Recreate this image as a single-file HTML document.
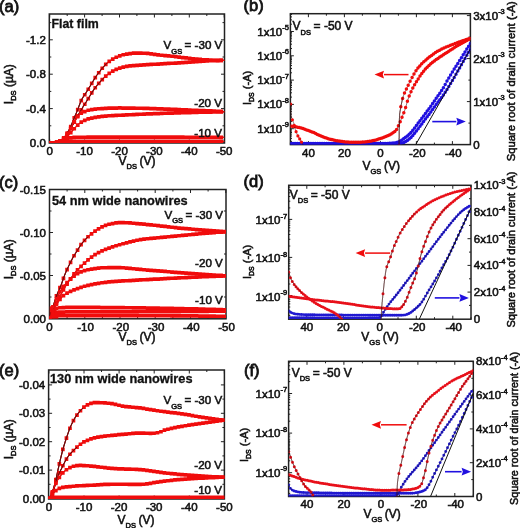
<!DOCTYPE html>
<html><head><meta charset="utf-8"><style>html,body{margin:0;padding:0;background:#fff;}svg{display:block;} text{stroke:#111;stroke-width:0.55px;}</style></head>
<body><svg width="520" height="528" viewBox="0 0 520 528">
<rect width="520" height="528" fill="#fff"/>
<clipPath id="ca"><rect x="49.3" y="14" width="175.2" height="129"/></clipPath>
<rect x="49.3" y="14" width="175.2" height="129" fill="none" stroke="#222" stroke-width="1.5"/>
<path d="M49.7,143 v-3.5 M49.7,14 v3.5 M84.6,143 v-3.5 M84.6,14 v3.5 M119.5,143 v-3.5 M119.5,14 v3.5 M154.4,143 v-3.5 M154.4,14 v3.5 M189.3,143 v-3.5 M189.3,14 v3.5 M224.2,143 v-3.5 M224.2,14 v3.5" stroke="#222" stroke-width="1" fill="none"/>
<path d="M67.2,143 v-2 M67.2,14 v2 M102.1,143 v-2 M102.1,14 v2 M136.9,143 v-2 M136.9,14 v2 M171.9,143 v-2 M171.9,14 v2 M206.8,143 v-2 M206.8,14 v2" stroke="#222" stroke-width="1" fill="none"/>
<path d="M49.3,108.6 h3.5 M224.5,108.6 h-3.5 M49.3,74.2 h3.5 M224.5,74.2 h-3.5 M49.3,39.8 h3.5 M224.5,39.8 h-3.5" stroke="#222" stroke-width="1" fill="none"/>
<path d="M49.3,125.8 h2 M224.5,125.8 h-2 M49.3,91.4 h2 M224.5,91.4 h-2 M49.3,57 h2 M224.5,57 h-2 M49.3,22.6 h2 M224.5,22.6 h-2" stroke="#222" stroke-width="1" fill="none"/>
<g clip-path="url(#ca)">
<path d="M49.7,143 L51.2,143 L52.6,142.9 L54.1,142.7 L55.6,142.5 L57,142.1 L58.5,141.6 L60,140.9 L61.4,139.9 L62.9,138.6 L64.4,137.1 L65.8,135.1 L67.3,132.9 L68.8,130.4 L70.2,127.5 L71.7,124.2 L73.2,120.4 L74.6,116.9 L76.1,113.5 L77.6,110 L79,106.1 L80.5,102.2 L82,99 L83.4,96.6 L84.9,94.5 L86.4,92.2 L87.8,89.8 L89.3,87.4 L90.8,85 L92.2,82.6 L93.7,80.1 L95.2,77.7 L96.6,75.5 L98.1,73.6 L99.6,71.7 L101,69.8 L102.5,67.9 L104,66.3 L105.4,64.7 L106.9,63.3 L108.4,62 L109.8,60.9 L111.3,60 L112.8,59.1 L114.2,58.3 L115.7,57.6 L117.2,56.8 L118.6,56.2 L120.1,55.7 L121.6,55.2 L123,54.8 L124.5,54.4 L126,54.2 L127.4,53.9 L128.9,53.7 L130.4,53.5 L131.8,53.4 L133.3,53.2 L134.8,53.1 L136.2,53.1 L137.7,53 L139.1,53.1 L140.6,53.1 L142.1,53.2 L143.5,53.2 L145,53.3 L146.5,53.4 L147.9,53.5 L149.4,53.7 L150.9,53.9 L152.3,54.1 L153.8,54.3 L155.3,54.5 L156.7,54.7 L158.2,54.8 L159.7,55 L161.1,55.1 L162.6,55.3 L164.1,55.4 L165.5,55.6 L167,55.7 L168.5,55.9 L169.9,56 L171.4,56.2 L172.9,56.3 L174.3,56.5 L175.8,56.7 L177.3,56.9 L178.7,57 L180.2,57.2 L181.7,57.4 L183.1,57.6 L184.6,57.7 L186.1,57.9 L187.5,58.1 L189,58.3 L190.5,58.4 L191.9,58.6 L193.4,58.8 L194.9,58.9 L196.3,59.1 L197.8,59.3 L199.3,59.4 L200.7,59.5 L202.2,59.6 L203.7,59.7 L205.1,59.8 L206.6,59.9 L208.1,60 L209.5,60.1 L211,60.2 L212.5,60.2 L213.9,60.3 L215.4,60.3 L216.9,60.3 L218.3,60.4 L219.8,60.4 L221.3,60.4 L222.7,60.4 L224.2,60.4" fill="none" stroke="#1a1010" stroke-width="0.9"/>
<path d="M49.7,143 L51.2,143 L52.6,142.9 L54.1,142.7 L55.6,142.5 L57,142.1 L58.5,141.6 L60,140.9 L61.4,139.9 L62.9,138.6 L64.4,137.1 L65.8,135.1 L67.3,132.9 L68.8,130.4 L70.2,127.5 L71.7,124.2 L73.2,120.4 L74.6,116.9 L76.1,113.5 L77.6,110 L79,106.1 L80.5,102.2 L82,99 L83.4,96.6 L84.9,94.5 L86.4,92.2 L87.8,89.8 L89.3,87.4 L90.8,85 L92.2,82.6 L93.7,80.1 L95.2,77.7 L96.6,75.5 L98.1,73.6 L99.6,71.7 L101,69.8 L102.5,67.9 L104,66.3 L105.4,64.7 L106.9,63.3 L108.4,62 L109.8,60.9 L111.3,60 L112.8,59.1 L114.2,58.3 L115.7,57.6 L117.2,56.8 L118.6,56.2 L120.1,55.7 L121.6,55.2 L123,54.8 L124.5,54.4 L126,54.2 L127.4,53.9 L128.9,53.7 L130.4,53.5 L131.8,53.4 L133.3,53.2 L134.8,53.1 L136.2,53.1 L137.7,53 L139.1,53.1 L140.6,53.1 L142.1,53.2 L143.5,53.2 L145,53.3 L146.5,53.4 L147.9,53.5 L149.4,53.7 L150.9,53.9 L152.3,54.1 L153.8,54.3 L155.3,54.5 L156.7,54.7 L158.2,54.8 L159.7,55 L161.1,55.1 L162.6,55.3 L164.1,55.4 L165.5,55.6 L167,55.7 L168.5,55.9 L169.9,56 L171.4,56.2 L172.9,56.3 L174.3,56.5 L175.8,56.7 L177.3,56.9 L178.7,57 L180.2,57.2 L181.7,57.4 L183.1,57.6 L184.6,57.7 L186.1,57.9 L187.5,58.1 L189,58.3 L190.5,58.4 L191.9,58.6 L193.4,58.8 L194.9,58.9 L196.3,59.1 L197.8,59.3 L199.3,59.4 L200.7,59.5 L202.2,59.6 L203.7,59.7 L205.1,59.8 L206.6,59.9 L208.1,60 L209.5,60.1 L211,60.2 L212.5,60.2 L213.9,60.3 L215.4,60.3 L216.9,60.3 L218.3,60.4 L219.8,60.4 L221.3,60.4 L222.7,60.4 L224.2,60.4" fill="none" stroke="#f00c0c" stroke-width="1.2" stroke-linejoin="round" stroke-linecap="round"/>
<path d="M47.9,141.2h3.7v3.7h-3.7zM51.4,141h3.7v3.7h-3.7zM54.9,140.4h3.7v3.7h-3.7zM58.4,138.9h3.7v3.7h-3.7zM61.9,135.9h3.7v3.7h-3.7zM65.4,131.2h3.7v3.7h-3.7zM68.9,124.7h3.7v3.7h-3.7zM72.4,116.1h3.7v3.7h-3.7zM75.9,107.8h3.7v3.7h-3.7zM79.4,98.7h3.7v3.7h-3.7zM82.9,92.9h3.7v3.7h-3.7zM86.4,87.4h3.7v3.7h-3.7zM89.9,81.6h3.7v3.7h-3.7zM93.4,75.8h3.7v3.7h-3.7zM96.9,70.9h3.7v3.7h-3.7zM100.4,66.4h3.7v3.7h-3.7zM103.9,62.6h3.7v3.7h-3.7zM107.4,59.5h3.7v3.7h-3.7zM110.9,57.3h3.7v3.7h-3.7zM114.4,55.4h3.7v3.7h-3.7zM117.9,54h3.7v3.7h-3.7zM121.4,52.9h3.7v3.7h-3.7zM124.9,52.2h3.7v3.7h-3.7zM128.3,51.7h3.7v3.7h-3.7zM131.8,51.3h3.7v3.7h-3.7zM135.3,51.2h3.7v3.7h-3.7zM138.8,51.3h3.7v3.7h-3.7zM142.3,51.4h3.7v3.7h-3.7zM145.8,51.6h3.7v3.7h-3.7zM149.3,52.1h3.7v3.7h-3.7zM152.8,52.6h3.7v3.7h-3.7zM156.3,53h3.7v3.7h-3.7zM159.8,53.4h3.7v3.7h-3.7zM163.3,53.7h3.7v3.7h-3.7zM166.8,54h3.7v3.7h-3.7zM170.3,54.4h3.7v3.7h-3.7zM173.8,54.8h3.7v3.7h-3.7zM177.3,55.2h3.7v3.7h-3.7zM180.8,55.7h3.7v3.7h-3.7zM184.3,56.1h3.7v3.7h-3.7zM187.8,56.5h3.7v3.7h-3.7zM191.3,56.9h3.7v3.7h-3.7zM194.8,57.3h3.7v3.7h-3.7zM198.3,57.6h3.7v3.7h-3.7zM201.8,57.9h3.7v3.7h-3.7zM205.3,58.1h3.7v3.7h-3.7zM208.8,58.3h3.7v3.7h-3.7zM212.3,58.4h3.7v3.7h-3.7zM215.8,58.5h3.7v3.7h-3.7zM219.3,58.6h3.7v3.7h-3.7z" fill="#f00c0c"/>
<path d="M62.9,138.6 L64.4,137.1 L65.8,135.1 L67.3,132.9 L68.8,130.4 L70.2,127.5 L71.7,124.2 L73.2,120.4 L74.6,116.9 L76.1,113.5 L77.6,110 L79,106.1 L80.5,102.2 L82,99 L83.4,96.6 L84.9,94.5 L86.4,92.2 L87.8,89.8 L89.3,87.4 L90.8,85 L92.2,82.6 L93.7,80.1 L95.2,77.7 L96.6,75.5 L98.1,73.6 L99.6,71.7 L101,69.8 L102.5,67.9 L104,66.3 L105.4,64.7 L106.9,63.3" fill="none" stroke="#1a1010" stroke-width="0.81" opacity="0.9"/>
</g>
<g clip-path="url(#ca)">
<path d="M49.7,143 L51.2,143 L52.6,142.9 L54.1,142.7 L55.6,142.5 L57,142.2 L58.5,141.8 L60,141.2 L61.4,140.4 L62.9,139.3 L64.4,138 L65.8,136.3 L67.3,134.4 L68.8,132.1 L70.2,129.5 L71.7,126.9 L73.2,124.2 L74.6,121.4 L76.1,118.7 L77.6,116 L79,113.5 L80.5,111 L82,108.6 L83.4,106.2 L84.9,103.9 L86.4,101.6 L87.8,99.2 L89.3,96.9 L90.8,94.5 L92.2,92.1 L93.7,89.8 L95.2,87.8 L96.6,85.9 L98.1,84.2 L99.6,82.5 L101,80.8 L102.5,79.2 L104,77.7 L105.4,76.4 L106.9,75.1 L108.4,74 L109.8,73 L111.3,72 L112.8,71.1 L114.2,70.4 L115.7,69.6 L117.2,69 L118.6,68.4 L120.1,68 L121.6,67.5 L123,67.1 L124.5,66.8 L126,66.5 L127.4,66.3 L128.9,66.1 L130.4,66 L131.8,65.8 L133.3,65.7 L134.8,65.6 L136.2,65.4 L137.7,65.3 L139.1,65.2 L140.6,65.1 L142.1,65 L143.5,64.9 L145,64.8 L146.5,64.8 L147.9,64.7 L149.4,64.6 L150.9,64.5 L152.3,64.4 L153.8,64.3 L155.3,64.3 L156.7,64.2 L158.2,64.1 L159.7,64 L161.1,63.9 L162.6,63.8 L164.1,63.7 L165.5,63.7 L167,63.6 L168.5,63.5 L169.9,63.4 L171.4,63.3 L172.9,63.2 L174.3,63.1 L175.8,63 L177.3,62.9 L178.7,62.9 L180.2,62.8 L181.7,62.7 L183.1,62.6 L184.6,62.5 L186.1,62.4 L187.5,62.3 L189,62.2 L190.5,62.1 L191.9,62 L193.4,61.9 L194.9,61.7 L196.3,61.6 L197.8,61.5 L199.3,61.4 L200.7,61.3 L202.2,61.2 L203.7,61.1 L205.1,61 L206.6,60.9 L208.1,60.8 L209.5,60.8 L211,60.7 L212.5,60.6 L213.9,60.6 L215.4,60.6 L216.9,60.5 L218.3,60.5 L219.8,60.5 L221.3,60.5 L222.7,60.4 L224.2,60.4" fill="none" stroke="#1a1010" stroke-width="0.9"/>
<path d="M49.7,143 L51.2,143 L52.6,142.9 L54.1,142.7 L55.6,142.5 L57,142.2 L58.5,141.8 L60,141.2 L61.4,140.4 L62.9,139.3 L64.4,138 L65.8,136.3 L67.3,134.4 L68.8,132.1 L70.2,129.5 L71.7,126.9 L73.2,124.2 L74.6,121.4 L76.1,118.7 L77.6,116 L79,113.5 L80.5,111 L82,108.6 L83.4,106.2 L84.9,103.9 L86.4,101.6 L87.8,99.2 L89.3,96.9 L90.8,94.5 L92.2,92.1 L93.7,89.8 L95.2,87.8 L96.6,85.9 L98.1,84.2 L99.6,82.5 L101,80.8 L102.5,79.2 L104,77.7 L105.4,76.4 L106.9,75.1 L108.4,74 L109.8,73 L111.3,72 L112.8,71.1 L114.2,70.4 L115.7,69.6 L117.2,69 L118.6,68.4 L120.1,68 L121.6,67.5 L123,67.1 L124.5,66.8 L126,66.5 L127.4,66.3 L128.9,66.1 L130.4,66 L131.8,65.8 L133.3,65.7 L134.8,65.6 L136.2,65.4 L137.7,65.3 L139.1,65.2 L140.6,65.1 L142.1,65 L143.5,64.9 L145,64.8 L146.5,64.8 L147.9,64.7 L149.4,64.6 L150.9,64.5 L152.3,64.4 L153.8,64.3 L155.3,64.3 L156.7,64.2 L158.2,64.1 L159.7,64 L161.1,63.9 L162.6,63.8 L164.1,63.7 L165.5,63.7 L167,63.6 L168.5,63.5 L169.9,63.4 L171.4,63.3 L172.9,63.2 L174.3,63.1 L175.8,63 L177.3,62.9 L178.7,62.9 L180.2,62.8 L181.7,62.7 L183.1,62.6 L184.6,62.5 L186.1,62.4 L187.5,62.3 L189,62.2 L190.5,62.1 L191.9,62 L193.4,61.9 L194.9,61.7 L196.3,61.6 L197.8,61.5 L199.3,61.4 L200.7,61.3 L202.2,61.2 L203.7,61.1 L205.1,61 L206.6,60.9 L208.1,60.8 L209.5,60.8 L211,60.7 L212.5,60.6 L213.9,60.6 L215.4,60.6 L216.9,60.5 L218.3,60.5 L219.8,60.5 L221.3,60.5 L222.7,60.4 L224.2,60.4" fill="none" stroke="#f00c0c" stroke-width="1.2" stroke-linejoin="round" stroke-linecap="round"/>
<path d="M47.9,141.2h3.7v3.7h-3.7zM51.4,141h3.7v3.7h-3.7zM54.9,140.5h3.7v3.7h-3.7zM58.4,139.2h3.7v3.7h-3.7zM61.9,136.8h3.7v3.7h-3.7zM65.4,132.7h3.7v3.7h-3.7zM68.9,126.9h3.7v3.7h-3.7zM72.4,120.4h3.7v3.7h-3.7zM75.9,113.9h3.7v3.7h-3.7zM79.4,108h3.7v3.7h-3.7zM82.9,102.4h3.7v3.7h-3.7zM86.4,96.8h3.7v3.7h-3.7zM89.9,91.1h3.7v3.7h-3.7zM93.4,85.9h3.7v3.7h-3.7zM96.9,81.6h3.7v3.7h-3.7zM100.4,77.7h3.7v3.7h-3.7zM103.9,74.3h3.7v3.7h-3.7zM107.4,71.5h3.7v3.7h-3.7zM110.9,69.3h3.7v3.7h-3.7zM114.4,67.5h3.7v3.7h-3.7zM117.9,66.2h3.7v3.7h-3.7zM121.4,65.3h3.7v3.7h-3.7zM124.9,64.6h3.7v3.7h-3.7zM128.3,64.1h3.7v3.7h-3.7zM131.8,63.8h3.7v3.7h-3.7zM135.3,63.5h3.7v3.7h-3.7zM138.8,63.3h3.7v3.7h-3.7zM142.3,63h3.7v3.7h-3.7zM145.8,62.8h3.7v3.7h-3.7zM149.3,62.6h3.7v3.7h-3.7zM152.8,62.4h3.7v3.7h-3.7zM156.3,62.2h3.7v3.7h-3.7zM159.8,62h3.7v3.7h-3.7zM163.3,61.8h3.7v3.7h-3.7zM166.8,61.6h3.7v3.7h-3.7zM170.3,61.4h3.7v3.7h-3.7zM173.8,61.2h3.7v3.7h-3.7zM177.3,61h3.7v3.7h-3.7zM180.8,60.7h3.7v3.7h-3.7zM184.3,60.5h3.7v3.7h-3.7zM187.8,60.3h3.7v3.7h-3.7zM191.3,60h3.7v3.7h-3.7zM194.8,59.7h3.7v3.7h-3.7zM198.3,59.5h3.7v3.7h-3.7zM201.8,59.3h3.7v3.7h-3.7zM205.3,59h3.7v3.7h-3.7zM208.8,58.9h3.7v3.7h-3.7zM212.3,58.8h3.7v3.7h-3.7zM215.8,58.7h3.7v3.7h-3.7zM219.3,58.6h3.7v3.7h-3.7z" fill="#f00c0c"/>
<path d="M64.4,138 L65.8,136.3 L67.3,134.4 L68.8,132.1 L70.2,129.5 L71.7,126.9 L73.2,124.2 L74.6,121.4 L76.1,118.7 L77.6,116 L79,113.5 L80.5,111 L82,108.6 L83.4,106.2 L84.9,103.9 L86.4,101.6 L87.8,99.2 L89.3,96.9 L90.8,94.5 L92.2,92.1 L93.7,89.8 L95.2,87.8 L96.6,85.9 L98.1,84.2 L99.6,82.5 L101,80.8 L102.5,79.2 L104,77.7" fill="none" stroke="#1a1010" stroke-width="0.81" opacity="0.9"/>
</g>
<g clip-path="url(#ca)">
<path d="M49.7,143 L51.2,143 L52.6,142.9 L54.1,142.7 L55.6,142.5 L57,142.1 L58.5,141.6 L60,141 L61.4,140.1 L62.9,138.9 L64.4,137.5 L65.8,135.7 L67.3,133.8 L68.8,131.5 L70.2,129.1 L71.7,126.5 L73.2,123.6 L74.6,121.1 L76.1,118.9 L77.6,116.8 L79,114.9 L80.5,113.6 L82,112.8 L83.4,112.1 L84.9,111.5 L86.4,110.9 L87.8,110.4 L89.3,109.9 L90.8,109.6 L92.2,109.4 L93.7,109.2 L95.2,109.1 L96.6,108.9 L98.1,108.8 L99.6,108.7 L101,108.6 L102.5,108.5 L104,108.4 L105.4,108.3 L106.9,108.2 L108.4,108.2 L109.8,108.1 L111.3,108.1 L112.8,108.1 L114.2,108.1 L115.7,108 L117.2,108 L118.6,108 L120.1,108 L121.6,108 L123,108 L124.5,108 L126,108 L127.4,108.1 L128.9,108.1 L130.4,108.1 L131.8,108.1 L133.3,108.1 L134.8,108.2 L136.2,108.2 L137.7,108.2 L139.1,108.3 L140.6,108.3 L142.1,108.3 L143.5,108.4 L145,108.4 L146.5,108.4 L147.9,108.5 L149.4,108.5 L150.9,108.6 L152.3,108.6 L153.8,108.7 L155.3,108.7 L156.7,108.8 L158.2,108.8 L159.7,108.9 L161.1,108.9 L162.6,109 L164.1,109 L165.5,109.1 L167,109.1 L168.5,109.2 L169.9,109.2 L171.4,109.3 L172.9,109.4 L174.3,109.4 L175.8,109.5 L177.3,109.6 L178.7,109.6 L180.2,109.7 L181.7,109.7 L183.1,109.8 L184.6,109.9 L186.1,109.9 L187.5,110 L189,110 L190.5,110.1 L191.9,110.2 L193.4,110.2 L194.9,110.3 L196.3,110.4 L197.8,110.4 L199.3,110.5 L200.7,110.5 L202.2,110.6 L203.7,110.7 L205.1,110.7 L206.6,110.8 L208.1,110.9 L209.5,110.9 L211,111 L212.5,111.1 L213.9,111.1 L215.4,111.2 L216.9,111.3 L218.3,111.3 L219.8,111.4 L221.3,111.5 L222.7,111.5 L224.2,111.6" fill="none" stroke="#1a1010" stroke-width="0.9"/>
<path d="M49.7,143 L51.2,143 L52.6,142.9 L54.1,142.7 L55.6,142.5 L57,142.1 L58.5,141.6 L60,141 L61.4,140.1 L62.9,138.9 L64.4,137.5 L65.8,135.7 L67.3,133.8 L68.8,131.5 L70.2,129.1 L71.7,126.5 L73.2,123.6 L74.6,121.1 L76.1,118.9 L77.6,116.8 L79,114.9 L80.5,113.6 L82,112.8 L83.4,112.1 L84.9,111.5 L86.4,110.9 L87.8,110.4 L89.3,109.9 L90.8,109.6 L92.2,109.4 L93.7,109.2 L95.2,109.1 L96.6,108.9 L98.1,108.8 L99.6,108.7 L101,108.6 L102.5,108.5 L104,108.4 L105.4,108.3 L106.9,108.2 L108.4,108.2 L109.8,108.1 L111.3,108.1 L112.8,108.1 L114.2,108.1 L115.7,108 L117.2,108 L118.6,108 L120.1,108 L121.6,108 L123,108 L124.5,108 L126,108 L127.4,108.1 L128.9,108.1 L130.4,108.1 L131.8,108.1 L133.3,108.1 L134.8,108.2 L136.2,108.2 L137.7,108.2 L139.1,108.3 L140.6,108.3 L142.1,108.3 L143.5,108.4 L145,108.4 L146.5,108.4 L147.9,108.5 L149.4,108.5 L150.9,108.6 L152.3,108.6 L153.8,108.7 L155.3,108.7 L156.7,108.8 L158.2,108.8 L159.7,108.9 L161.1,108.9 L162.6,109 L164.1,109 L165.5,109.1 L167,109.1 L168.5,109.2 L169.9,109.2 L171.4,109.3 L172.9,109.4 L174.3,109.4 L175.8,109.5 L177.3,109.6 L178.7,109.6 L180.2,109.7 L181.7,109.7 L183.1,109.8 L184.6,109.9 L186.1,109.9 L187.5,110 L189,110 L190.5,110.1 L191.9,110.2 L193.4,110.2 L194.9,110.3 L196.3,110.4 L197.8,110.4 L199.3,110.5 L200.7,110.5 L202.2,110.6 L203.7,110.7 L205.1,110.7 L206.6,110.8 L208.1,110.9 L209.5,110.9 L211,111 L212.5,111.1 L213.9,111.1 L215.4,111.2 L216.9,111.3 L218.3,111.3 L219.8,111.4 L221.3,111.5 L222.7,111.5 L224.2,111.6" fill="none" stroke="#f00c0c" stroke-width="1.2" stroke-linejoin="round" stroke-linecap="round"/>
<path d="M47.9,141.2h3.7v3.7h-3.7zM51.4,141h3.7v3.7h-3.7zM54.9,140.4h3.7v3.7h-3.7zM58.4,139h3.7v3.7h-3.7zM61.9,136.3h3.7v3.7h-3.7zM65.4,132.1h3.7v3.7h-3.7zM68.9,126.4h3.7v3.7h-3.7zM72.4,120h3.7v3.7h-3.7zM75.9,114.8h3.7v3.7h-3.7zM79.4,111.3h3.7v3.7h-3.7zM82.9,109.8h3.7v3.7h-3.7zM86.4,108.4h3.7v3.7h-3.7zM89.9,107.7h3.7v3.7h-3.7zM93.4,107.2h3.7v3.7h-3.7zM96.9,106.9h3.7v3.7h-3.7zM100.4,106.7h3.7v3.7h-3.7zM103.9,106.5h3.7v3.7h-3.7zM107.4,106.3h3.7v3.7h-3.7zM110.9,106.2h3.7v3.7h-3.7zM114.4,106.2h3.7v3.7h-3.7zM117.9,106.1h3.7v3.7h-3.7zM121.4,106.2h3.7v3.7h-3.7zM124.9,106.2h3.7v3.7h-3.7zM128.3,106.2h3.7v3.7h-3.7zM131.8,106.3h3.7v3.7h-3.7zM135.3,106.4h3.7v3.7h-3.7zM138.8,106.4h3.7v3.7h-3.7zM142.3,106.5h3.7v3.7h-3.7zM145.8,106.6h3.7v3.7h-3.7zM149.3,106.7h3.7v3.7h-3.7zM152.8,106.8h3.7v3.7h-3.7zM156.3,107h3.7v3.7h-3.7zM159.8,107.1h3.7v3.7h-3.7zM163.3,107.2h3.7v3.7h-3.7zM166.8,107.3h3.7v3.7h-3.7zM170.3,107.5h3.7v3.7h-3.7zM173.8,107.6h3.7v3.7h-3.7zM177.3,107.8h3.7v3.7h-3.7zM180.8,107.9h3.7v3.7h-3.7zM184.3,108.1h3.7v3.7h-3.7zM187.8,108.2h3.7v3.7h-3.7zM191.3,108.4h3.7v3.7h-3.7zM194.8,108.5h3.7v3.7h-3.7zM198.3,108.7h3.7v3.7h-3.7zM201.8,108.8h3.7v3.7h-3.7zM205.3,109h3.7v3.7h-3.7zM208.8,109.1h3.7v3.7h-3.7zM212.3,109.3h3.7v3.7h-3.7zM215.8,109.5h3.7v3.7h-3.7zM219.3,109.6h3.7v3.7h-3.7z" fill="#f00c0c"/>
</g>
<g clip-path="url(#ca)">
<path d="M49.7,143 L51.2,143 L52.6,142.9 L54.1,142.8 L55.6,142.6 L57,142.3 L58.5,142 L60,141.4 L61.4,140.8 L62.9,139.9 L64.4,138.9 L65.8,137.6 L67.3,136.2 L68.8,134.7 L70.2,133.1 L71.7,131.5 L73.2,129.9 L74.6,128.3 L76.1,126.7 L77.6,125.2 L79,123.8 L80.5,122.6 L82,121.7 L83.4,120.9 L84.9,120.2 L86.4,119.6 L87.8,119.1 L89.3,118.6 L90.8,118.3 L92.2,117.9 L93.7,117.7 L95.2,117.4 L96.6,117.1 L98.1,116.9 L99.6,116.7 L101,116.6 L102.5,116.4 L104,116.2 L105.4,116.1 L106.9,116 L108.4,115.9 L109.8,115.8 L111.3,115.7 L112.8,115.6 L114.2,115.5 L115.7,115.4 L117.2,115.3 L118.6,115.3 L120.1,115.2 L121.6,115.2 L123,115.1 L124.5,115 L126,115 L127.4,114.9 L128.9,114.8 L130.4,114.8 L131.8,114.7 L133.3,114.6 L134.8,114.6 L136.2,114.5 L137.7,114.4 L139.1,114.4 L140.6,114.3 L142.1,114.2 L143.5,114.1 L145,114.1 L146.5,114 L147.9,113.9 L149.4,113.9 L150.9,113.8 L152.3,113.8 L153.8,113.7 L155.3,113.6 L156.7,113.6 L158.2,113.5 L159.7,113.5 L161.1,113.4 L162.6,113.4 L164.1,113.3 L165.5,113.3 L167,113.2 L168.5,113.2 L169.9,113.1 L171.4,113.1 L172.9,113 L174.3,113 L175.8,112.9 L177.3,112.9 L178.7,112.9 L180.2,112.8 L181.7,112.8 L183.1,112.7 L184.6,112.7 L186.1,112.6 L187.5,112.6 L189,112.6 L190.5,112.5 L191.9,112.5 L193.4,112.4 L194.9,112.4 L196.3,112.4 L197.8,112.3 L199.3,112.3 L200.7,112.3 L202.2,112.2 L203.7,112.2 L205.1,112.2 L206.6,112.1 L208.1,112.1 L209.5,112.1 L211,112 L212.5,112 L213.9,112 L215.4,111.9 L216.9,111.9 L218.3,111.9 L219.8,111.9 L221.3,111.8 L222.7,111.8 L224.2,111.8" fill="none" stroke="#1a1010" stroke-width="0.9"/>
<path d="M49.7,143 L51.2,143 L52.6,142.9 L54.1,142.8 L55.6,142.6 L57,142.3 L58.5,142 L60,141.4 L61.4,140.8 L62.9,139.9 L64.4,138.9 L65.8,137.6 L67.3,136.2 L68.8,134.7 L70.2,133.1 L71.7,131.5 L73.2,129.9 L74.6,128.3 L76.1,126.7 L77.6,125.2 L79,123.8 L80.5,122.6 L82,121.7 L83.4,120.9 L84.9,120.2 L86.4,119.6 L87.8,119.1 L89.3,118.6 L90.8,118.3 L92.2,117.9 L93.7,117.7 L95.2,117.4 L96.6,117.1 L98.1,116.9 L99.6,116.7 L101,116.6 L102.5,116.4 L104,116.2 L105.4,116.1 L106.9,116 L108.4,115.9 L109.8,115.8 L111.3,115.7 L112.8,115.6 L114.2,115.5 L115.7,115.4 L117.2,115.3 L118.6,115.3 L120.1,115.2 L121.6,115.2 L123,115.1 L124.5,115 L126,115 L127.4,114.9 L128.9,114.8 L130.4,114.8 L131.8,114.7 L133.3,114.6 L134.8,114.6 L136.2,114.5 L137.7,114.4 L139.1,114.4 L140.6,114.3 L142.1,114.2 L143.5,114.1 L145,114.1 L146.5,114 L147.9,113.9 L149.4,113.9 L150.9,113.8 L152.3,113.8 L153.8,113.7 L155.3,113.6 L156.7,113.6 L158.2,113.5 L159.7,113.5 L161.1,113.4 L162.6,113.4 L164.1,113.3 L165.5,113.3 L167,113.2 L168.5,113.2 L169.9,113.1 L171.4,113.1 L172.9,113 L174.3,113 L175.8,112.9 L177.3,112.9 L178.7,112.9 L180.2,112.8 L181.7,112.8 L183.1,112.7 L184.6,112.7 L186.1,112.6 L187.5,112.6 L189,112.6 L190.5,112.5 L191.9,112.5 L193.4,112.4 L194.9,112.4 L196.3,112.4 L197.8,112.3 L199.3,112.3 L200.7,112.3 L202.2,112.2 L203.7,112.2 L205.1,112.2 L206.6,112.1 L208.1,112.1 L209.5,112.1 L211,112 L212.5,112 L213.9,112 L215.4,111.9 L216.9,111.9 L218.3,111.9 L219.8,111.9 L221.3,111.8 L222.7,111.8 L224.2,111.8" fill="none" stroke="#f00c0c" stroke-width="1.2" stroke-linejoin="round" stroke-linecap="round"/>
<path d="M47.9,141.2h3.7v3.7h-3.7zM51.4,141h3.7v3.7h-3.7zM54.9,140.5h3.7v3.7h-3.7zM58.4,139.5h3.7v3.7h-3.7zM61.9,137.5h3.7v3.7h-3.7zM65.4,134.4h3.7v3.7h-3.7zM68.9,130.8h3.7v3.7h-3.7zM72.4,126.9h3.7v3.7h-3.7zM75.9,123.2h3.7v3.7h-3.7zM79.4,120.3h3.7v3.7h-3.7zM82.9,118.5h3.7v3.7h-3.7zM86.4,117.1h3.7v3.7h-3.7zM89.9,116.2h3.7v3.7h-3.7zM93.4,115.5h3.7v3.7h-3.7zM96.9,115h3.7v3.7h-3.7zM100.4,114.6h3.7v3.7h-3.7zM103.9,114.2h3.7v3.7h-3.7zM107.4,113.9h3.7v3.7h-3.7zM110.9,113.7h3.7v3.7h-3.7zM114.4,113.5h3.7v3.7h-3.7zM117.9,113.4h3.7v3.7h-3.7zM121.4,113.2h3.7v3.7h-3.7zM124.9,113.1h3.7v3.7h-3.7zM128.3,112.9h3.7v3.7h-3.7zM131.8,112.8h3.7v3.7h-3.7zM135.3,112.6h3.7v3.7h-3.7zM138.8,112.4h3.7v3.7h-3.7zM142.3,112.3h3.7v3.7h-3.7zM145.8,112.1h3.7v3.7h-3.7zM149.3,112h3.7v3.7h-3.7zM152.8,111.8h3.7v3.7h-3.7zM156.3,111.7h3.7v3.7h-3.7zM159.8,111.6h3.7v3.7h-3.7zM163.3,111.4h3.7v3.7h-3.7zM166.8,111.3h3.7v3.7h-3.7zM170.3,111.2h3.7v3.7h-3.7zM173.8,111.1h3.7v3.7h-3.7zM177.3,111h3.7v3.7h-3.7zM180.8,110.9h3.7v3.7h-3.7zM184.3,110.8h3.7v3.7h-3.7zM187.8,110.7h3.7v3.7h-3.7zM191.3,110.6h3.7v3.7h-3.7zM194.8,110.5h3.7v3.7h-3.7zM198.3,110.4h3.7v3.7h-3.7zM201.8,110.3h3.7v3.7h-3.7zM205.3,110.3h3.7v3.7h-3.7zM208.8,110.2h3.7v3.7h-3.7zM212.3,110.1h3.7v3.7h-3.7zM215.8,110.1h3.7v3.7h-3.7zM219.3,110h3.7v3.7h-3.7z" fill="#f00c0c"/>
</g>
<g clip-path="url(#ca)">
<path d="M49.7,143 L51.2,143 L52.6,142.9 L54.1,142.8 L55.6,142.6 L57,142.3 L58.5,142 L60,141.5 L61.4,141 L62.9,140.3 L64.4,139.7 L65.8,139.1 L67.3,138.7 L68.8,138.2 L70.2,137.9 L71.7,137.7 L73.2,137.5 L74.6,137.4 L76.1,137.3 L77.6,137.2 L79,137.2 L80.5,137.2 L82,137.2 L83.4,137.2 L84.9,137.2 L86.4,137.2 L87.8,137.2 L89.3,137.2 L90.8,137.2 L92.2,137.2 L93.7,137.2 L95.2,137.2 L96.6,137.2 L98.1,137.2 L99.6,137.2 L101,137.2 L102.5,137.2 L104,137.2 L105.4,137.2 L106.9,137.2 L108.4,137.2 L109.8,137.2 L111.3,137.2 L112.8,137.2 L114.2,137.2 L115.7,137.2 L117.2,137.2 L118.6,137.2 L120.1,137.2 L121.6,137.2 L123,137.2 L124.5,137.2 L126,137.2 L127.4,137.2 L128.9,137.2 L130.4,137.2 L131.8,137.2 L133.3,137.2 L134.8,137.2 L136.2,137.2 L137.7,137.2 L139.1,137.2 L140.6,137.2 L142.1,137.2 L143.5,137.2 L145,137.2 L146.5,137.2 L147.9,137.2 L149.4,137.2 L150.9,137.2 L152.3,137.2 L153.8,137.2 L155.3,137.2 L156.7,137.2 L158.2,137.2 L159.7,137.2 L161.1,137.2 L162.6,137.2 L164.1,137.2 L165.5,137.2 L167,137.2 L168.5,137.2 L169.9,137.2 L171.4,137.2 L172.9,137.2 L174.3,137.2 L175.8,137.2 L177.3,137.2 L178.7,137.2 L180.2,137.2 L181.7,137.2 L183.1,137.2 L184.6,137.2 L186.1,137.2 L187.5,137.2 L189,137.2 L190.5,137.2 L191.9,137.2 L193.4,137.2 L194.9,137.2 L196.3,137.2 L197.8,137.2 L199.3,137.2 L200.7,137.2 L202.2,137.2 L203.7,137.2 L205.1,137.3 L206.6,137.3 L208.1,137.3 L209.5,137.3 L211,137.3 L212.5,137.3 L213.9,137.3 L215.4,137.3 L216.9,137.3 L218.3,137.3 L219.8,137.3 L221.3,137.3 L222.7,137.3 L224.2,137.3" fill="none" stroke="#1a1010" stroke-width="0.9"/>
<path d="M49.7,143 L51.2,143 L52.6,142.9 L54.1,142.8 L55.6,142.6 L57,142.3 L58.5,142 L60,141.5 L61.4,141 L62.9,140.3 L64.4,139.7 L65.8,139.1 L67.3,138.7 L68.8,138.2 L70.2,137.9 L71.7,137.7 L73.2,137.5 L74.6,137.4 L76.1,137.3 L77.6,137.2 L79,137.2 L80.5,137.2 L82,137.2 L83.4,137.2 L84.9,137.2 L86.4,137.2 L87.8,137.2 L89.3,137.2 L90.8,137.2 L92.2,137.2 L93.7,137.2 L95.2,137.2 L96.6,137.2 L98.1,137.2 L99.6,137.2 L101,137.2 L102.5,137.2 L104,137.2 L105.4,137.2 L106.9,137.2 L108.4,137.2 L109.8,137.2 L111.3,137.2 L112.8,137.2 L114.2,137.2 L115.7,137.2 L117.2,137.2 L118.6,137.2 L120.1,137.2 L121.6,137.2 L123,137.2 L124.5,137.2 L126,137.2 L127.4,137.2 L128.9,137.2 L130.4,137.2 L131.8,137.2 L133.3,137.2 L134.8,137.2 L136.2,137.2 L137.7,137.2 L139.1,137.2 L140.6,137.2 L142.1,137.2 L143.5,137.2 L145,137.2 L146.5,137.2 L147.9,137.2 L149.4,137.2 L150.9,137.2 L152.3,137.2 L153.8,137.2 L155.3,137.2 L156.7,137.2 L158.2,137.2 L159.7,137.2 L161.1,137.2 L162.6,137.2 L164.1,137.2 L165.5,137.2 L167,137.2 L168.5,137.2 L169.9,137.2 L171.4,137.2 L172.9,137.2 L174.3,137.2 L175.8,137.2 L177.3,137.2 L178.7,137.2 L180.2,137.2 L181.7,137.2 L183.1,137.2 L184.6,137.2 L186.1,137.2 L187.5,137.2 L189,137.2 L190.5,137.2 L191.9,137.2 L193.4,137.2 L194.9,137.2 L196.3,137.2 L197.8,137.2 L199.3,137.2 L200.7,137.2 L202.2,137.2 L203.7,137.2 L205.1,137.3 L206.6,137.3 L208.1,137.3 L209.5,137.3 L211,137.3 L212.5,137.3 L213.9,137.3 L215.4,137.3 L216.9,137.3 L218.3,137.3 L219.8,137.3 L221.3,137.3 L222.7,137.3 L224.2,137.3" fill="none" stroke="#f00c0c" stroke-width="1.2" stroke-linejoin="round" stroke-linecap="round"/>
<path d="M47.9,141.2h3.7v3.7h-3.7zM51.4,141h3.7v3.7h-3.7zM54.9,140.5h3.7v3.7h-3.7zM58.4,139.6h3.7v3.7h-3.7zM61.9,138.1h3.7v3.7h-3.7zM65.4,136.8h3.7v3.7h-3.7zM68.9,136h3.7v3.7h-3.7zM72.4,135.6h3.7v3.7h-3.7zM75.9,135.4h3.7v3.7h-3.7zM79.4,135.4h3.7v3.7h-3.7zM82.9,135.4h3.7v3.7h-3.7zM86.4,135.3h3.7v3.7h-3.7zM89.9,135.3h3.7v3.7h-3.7zM93.4,135.3h3.7v3.7h-3.7zM96.9,135.3h3.7v3.7h-3.7zM100.4,135.3h3.7v3.7h-3.7zM103.9,135.3h3.7v3.7h-3.7zM107.4,135.3h3.7v3.7h-3.7zM110.9,135.3h3.7v3.7h-3.7zM114.4,135.3h3.7v3.7h-3.7zM117.9,135.3h3.7v3.7h-3.7zM121.4,135.3h3.7v3.7h-3.7zM124.9,135.3h3.7v3.7h-3.7zM128.3,135.3h3.7v3.7h-3.7zM131.8,135.3h3.7v3.7h-3.7zM135.3,135.3h3.7v3.7h-3.7zM138.8,135.3h3.7v3.7h-3.7zM142.3,135.3h3.7v3.7h-3.7zM145.8,135.3h3.7v3.7h-3.7zM149.3,135.3h3.7v3.7h-3.7zM152.8,135.3h3.7v3.7h-3.7zM156.3,135.3h3.7v3.7h-3.7zM159.8,135.3h3.7v3.7h-3.7zM163.3,135.3h3.7v3.7h-3.7zM166.8,135.3h3.7v3.7h-3.7zM170.3,135.3h3.7v3.7h-3.7zM173.8,135.3h3.7v3.7h-3.7zM177.3,135.3h3.7v3.7h-3.7zM180.8,135.3h3.7v3.7h-3.7zM184.3,135.4h3.7v3.7h-3.7zM187.8,135.4h3.7v3.7h-3.7zM191.3,135.4h3.7v3.7h-3.7zM194.8,135.4h3.7v3.7h-3.7zM198.3,135.4h3.7v3.7h-3.7zM201.8,135.4h3.7v3.7h-3.7zM205.3,135.4h3.7v3.7h-3.7zM208.8,135.4h3.7v3.7h-3.7zM212.3,135.4h3.7v3.7h-3.7zM215.8,135.4h3.7v3.7h-3.7zM219.3,135.5h3.7v3.7h-3.7z" fill="#f00c0c"/>
</g>
<g clip-path="url(#ca)">
<path d="M49.7,143 L51.2,142.9 L52.6,142.9 L54.1,142.8 L55.6,142.7 L57,142.5 L58.5,142.4 L60,142.2 L61.4,142.1 L62.9,142 L64.4,141.8 L65.8,141.7 L67.3,141.6 L68.8,141.5 L70.2,141.5 L71.7,141.4 L73.2,141.4 L74.6,141.4 L76.1,141.4 L77.6,141.4 L79,141.4 L80.5,141.4 L82,141.4 L83.4,141.4 L84.9,141.4 L86.4,141.4 L87.8,141.4 L89.3,141.4 L90.8,141.4 L92.2,141.4 L93.7,141.4 L95.2,141.4 L96.6,141.4 L98.1,141.4 L99.6,141.4 L101,141.4 L102.5,141.4 L104,141.4 L105.4,141.4 L106.9,141.4 L108.4,141.4 L109.8,141.4 L111.3,141.4 L112.8,141.4 L114.2,141.4 L115.7,141.4 L117.2,141.4 L118.6,141.4 L120.1,141.4 L121.6,141.4 L123,141.4 L124.5,141.4 L126,141.4 L127.4,141.4 L128.9,141.4 L130.4,141.4 L131.8,141.4 L133.3,141.4 L134.8,141.4 L136.2,141.4 L137.7,141.4 L139.1,141.4 L140.6,141.4 L142.1,141.4 L143.5,141.4 L145,141.4 L146.5,141.4 L147.9,141.4 L149.4,141.4 L150.9,141.4 L152.3,141.4 L153.8,141.4 L155.3,141.4 L156.7,141.4 L158.2,141.4 L159.7,141.4 L161.1,141.4 L162.6,141.4 L164.1,141.4 L165.5,141.4 L167,141.4 L168.5,141.4 L169.9,141.4 L171.4,141.4 L172.9,141.4 L174.3,141.4 L175.8,141.4 L177.3,141.4 L178.7,141.4 L180.2,141.4 L181.7,141.4 L183.1,141.4 L184.6,141.4 L186.1,141.4 L187.5,141.4 L189,141.4 L190.5,141.4 L191.9,141.4 L193.4,141.4 L194.9,141.4 L196.3,141.4 L197.8,141.4 L199.3,141.4 L200.7,141.4 L202.2,141.4 L203.7,141.4 L205.1,141.4 L206.6,141.4 L208.1,141.4 L209.5,141.4 L211,141.4 L212.5,141.4 L213.9,141.4 L215.4,141.4 L216.9,141.4 L218.3,141.4 L219.8,141.4 L221.3,141.4 L222.7,141.4 L224.2,141.4" fill="none" stroke="#1a1010" stroke-width="0.9"/>
<path d="M49.7,143 L51.2,142.9 L52.6,142.9 L54.1,142.8 L55.6,142.7 L57,142.5 L58.5,142.4 L60,142.2 L61.4,142.1 L62.9,142 L64.4,141.8 L65.8,141.7 L67.3,141.6 L68.8,141.5 L70.2,141.5 L71.7,141.4 L73.2,141.4 L74.6,141.4 L76.1,141.4 L77.6,141.4 L79,141.4 L80.5,141.4 L82,141.4 L83.4,141.4 L84.9,141.4 L86.4,141.4 L87.8,141.4 L89.3,141.4 L90.8,141.4 L92.2,141.4 L93.7,141.4 L95.2,141.4 L96.6,141.4 L98.1,141.4 L99.6,141.4 L101,141.4 L102.5,141.4 L104,141.4 L105.4,141.4 L106.9,141.4 L108.4,141.4 L109.8,141.4 L111.3,141.4 L112.8,141.4 L114.2,141.4 L115.7,141.4 L117.2,141.4 L118.6,141.4 L120.1,141.4 L121.6,141.4 L123,141.4 L124.5,141.4 L126,141.4 L127.4,141.4 L128.9,141.4 L130.4,141.4 L131.8,141.4 L133.3,141.4 L134.8,141.4 L136.2,141.4 L137.7,141.4 L139.1,141.4 L140.6,141.4 L142.1,141.4 L143.5,141.4 L145,141.4 L146.5,141.4 L147.9,141.4 L149.4,141.4 L150.9,141.4 L152.3,141.4 L153.8,141.4 L155.3,141.4 L156.7,141.4 L158.2,141.4 L159.7,141.4 L161.1,141.4 L162.6,141.4 L164.1,141.4 L165.5,141.4 L167,141.4 L168.5,141.4 L169.9,141.4 L171.4,141.4 L172.9,141.4 L174.3,141.4 L175.8,141.4 L177.3,141.4 L178.7,141.4 L180.2,141.4 L181.7,141.4 L183.1,141.4 L184.6,141.4 L186.1,141.4 L187.5,141.4 L189,141.4 L190.5,141.4 L191.9,141.4 L193.4,141.4 L194.9,141.4 L196.3,141.4 L197.8,141.4 L199.3,141.4 L200.7,141.4 L202.2,141.4 L203.7,141.4 L205.1,141.4 L206.6,141.4 L208.1,141.4 L209.5,141.4 L211,141.4 L212.5,141.4 L213.9,141.4 L215.4,141.4 L216.9,141.4 L218.3,141.4 L219.8,141.4 L221.3,141.4 L222.7,141.4 L224.2,141.4" fill="none" stroke="#f00c0c" stroke-width="1.2" stroke-linejoin="round" stroke-linecap="round"/>
<path d="M47.9,141.2h3.7v3.7h-3.7zM51.4,141h3.7v3.7h-3.7zM54.9,140.7h3.7v3.7h-3.7zM58.4,140.4h3.7v3.7h-3.7zM61.9,140h3.7v3.7h-3.7zM65.4,139.8h3.7v3.7h-3.7zM68.9,139.6h3.7v3.7h-3.7zM72.4,139.5h3.7v3.7h-3.7zM75.9,139.5h3.7v3.7h-3.7zM79.4,139.5h3.7v3.7h-3.7zM82.9,139.5h3.7v3.7h-3.7zM86.4,139.5h3.7v3.7h-3.7zM89.9,139.5h3.7v3.7h-3.7zM93.4,139.5h3.7v3.7h-3.7zM96.9,139.5h3.7v3.7h-3.7zM100.4,139.5h3.7v3.7h-3.7zM103.9,139.5h3.7v3.7h-3.7zM107.4,139.5h3.7v3.7h-3.7zM110.9,139.5h3.7v3.7h-3.7zM114.4,139.5h3.7v3.7h-3.7zM117.9,139.5h3.7v3.7h-3.7zM121.4,139.5h3.7v3.7h-3.7zM124.9,139.5h3.7v3.7h-3.7zM128.3,139.5h3.7v3.7h-3.7zM131.8,139.5h3.7v3.7h-3.7zM135.3,139.5h3.7v3.7h-3.7zM138.8,139.5h3.7v3.7h-3.7zM142.3,139.5h3.7v3.7h-3.7zM145.8,139.5h3.7v3.7h-3.7zM149.3,139.5h3.7v3.7h-3.7zM152.8,139.5h3.7v3.7h-3.7zM156.3,139.5h3.7v3.7h-3.7zM159.8,139.5h3.7v3.7h-3.7zM163.3,139.5h3.7v3.7h-3.7zM166.8,139.5h3.7v3.7h-3.7zM170.3,139.5h3.7v3.7h-3.7zM173.8,139.5h3.7v3.7h-3.7zM177.3,139.5h3.7v3.7h-3.7zM180.8,139.5h3.7v3.7h-3.7zM184.3,139.5h3.7v3.7h-3.7zM187.8,139.5h3.7v3.7h-3.7zM191.3,139.5h3.7v3.7h-3.7zM194.8,139.5h3.7v3.7h-3.7zM198.3,139.5h3.7v3.7h-3.7zM201.8,139.5h3.7v3.7h-3.7zM205.3,139.5h3.7v3.7h-3.7zM208.8,139.5h3.7v3.7h-3.7zM212.3,139.5h3.7v3.7h-3.7zM215.8,139.5h3.7v3.7h-3.7zM219.3,139.5h3.7v3.7h-3.7z" fill="#f00c0c"/>
</g>
<text x="45.8" y="147" font-size="11.5" text-anchor="end" font-weight="normal" fill="#111" font-family="'Liberation Sans', Arial, sans-serif" >0.0</text>
<text x="45.8" y="112.6" font-size="11.5" text-anchor="end" font-weight="normal" fill="#111" font-family="'Liberation Sans', Arial, sans-serif" >-0.4</text>
<text x="45.8" y="78.2" font-size="11.5" text-anchor="end" font-weight="normal" fill="#111" font-family="'Liberation Sans', Arial, sans-serif" >-0.8</text>
<text x="45.8" y="43.8" font-size="11.5" text-anchor="end" font-weight="normal" fill="#111" font-family="'Liberation Sans', Arial, sans-serif" >-1.2</text>
<text x="49.7" y="154.8" font-size="11.5" text-anchor="middle" font-weight="normal" fill="#111" font-family="'Liberation Sans', Arial, sans-serif" >0</text>
<text x="84.6" y="154.8" font-size="11.5" text-anchor="middle" font-weight="normal" fill="#111" font-family="'Liberation Sans', Arial, sans-serif" >-10</text>
<text x="119.5" y="154.8" font-size="11.5" text-anchor="middle" font-weight="normal" fill="#111" font-family="'Liberation Sans', Arial, sans-serif" >-20</text>
<text x="154.4" y="154.8" font-size="11.5" text-anchor="middle" font-weight="normal" fill="#111" font-family="'Liberation Sans', Arial, sans-serif" >-30</text>
<text x="189.3" y="154.8" font-size="11.5" text-anchor="middle" font-weight="normal" fill="#111" font-family="'Liberation Sans', Arial, sans-serif" >-40</text>
<text x="224.2" y="154.8" font-size="11.5" text-anchor="middle" font-weight="normal" fill="#111" font-family="'Liberation Sans', Arial, sans-serif" >-50</text>
<text x="118.5" y="165" font-size="12" fill="#111" font-family="'Liberation Sans', Arial, sans-serif" text-anchor="start" >V<tspan font-size="7.5" dy="4.3">DS</tspan><tspan dy="-4.3" dx="-0.8"> (V)</tspan></text>
<text transform="translate(12.8,104.2) rotate(-90)" font-size="12" fill="#111" font-family="'Liberation Sans', Arial, sans-serif">I<tspan font-size="7.5" dy="3">DS</tspan><tspan dy="-3"> (µA)</tspan></text>
<text x="-1" y="11.7" font-size="16.5" text-anchor="start" font-weight="normal" fill="#111" font-family="'Liberation Sans', Arial, sans-serif" style="stroke-width:0.8px">(a)</text>
<text x="51.5" y="27.7" font-size="12.3" text-anchor="start" font-weight="bold" fill="#111" font-family="'Liberation Sans', Arial, sans-serif" style="stroke-width:0.3px" textLength="47.3" lengthAdjust="spacingAndGlyphs">Flat film</text>
<text x="163.6" y="49.4" font-size="11.6" fill="#111" font-family="'Liberation Sans', Arial, sans-serif" text-anchor="start" >V<tspan font-size="7.5" dy="4.3">GS</tspan><tspan dy="-4.3" dx="-0.8"> = -30 V</tspan></text>
<text x="222" y="106.9" font-size="11.6" text-anchor="end" font-weight="normal" fill="#111" font-family="'Liberation Sans', Arial, sans-serif" >-20 V</text>
<text x="222" y="136.5" font-size="11.6" text-anchor="end" font-weight="normal" fill="#111" font-family="'Liberation Sans', Arial, sans-serif" >-10 V</text>
<clipPath id="cc"><rect x="49.5" y="189.5" width="176.5" height="129.3"/></clipPath>
<rect x="49.5" y="189.5" width="176.5" height="129.3" fill="none" stroke="#222" stroke-width="1.5"/>
<path d="M49.5,318.8 v-3.5 M49.5,189.5 v3.5 M84.8,318.8 v-3.5 M84.8,189.5 v3.5 M120,318.8 v-3.5 M120,189.5 v3.5 M155.2,318.8 v-3.5 M155.2,189.5 v3.5 M190.5,318.8 v-3.5 M190.5,189.5 v3.5 M225.8,318.8 v-3.5 M225.8,189.5 v3.5" stroke="#222" stroke-width="1" fill="none"/>
<path d="M67.1,318.8 v-2 M67.1,189.5 v2 M102.4,318.8 v-2 M102.4,189.5 v2 M137.6,318.8 v-2 M137.6,189.5 v2 M172.9,318.8 v-2 M172.9,189.5 v2 M208.1,318.8 v-2 M208.1,189.5 v2" stroke="#222" stroke-width="1" fill="none"/>
<path d="M49.5,275.5 h3.5 M226,275.5 h-3.5 M49.5,232.5 h3.5 M226,232.5 h-3.5" stroke="#222" stroke-width="1" fill="none"/>
<path d="M49.5,297 h2 M226,297 h-2 M49.5,254 h2 M226,254 h-2 M49.5,211 h2 M226,211 h-2" stroke="#222" stroke-width="1" fill="none"/>
<path d="M49.5,318.8 L49.5,306.5 L52.5,305.8 L56,308 L58.5,318.8 Z" fill="#f00c0c" clip-path="url(#cc)"/>
<g clip-path="url(#cc)">
<path d="M49.5,318.5 L51,313.6 L52.5,308.7 L53.9,303.9 L55.4,299.1 L56.9,294.9 L58.4,291.3 L59.9,288 L61.4,284.3 L62.8,280.2 L64.3,276 L65.8,272.3 L67.3,268.9 L68.8,265.8 L70.3,262.9 L71.7,259.9 L73.2,257.1 L74.7,254.6 L76.2,252.2 L77.7,249.9 L79.2,247.5 L80.6,245.2 L82.1,243.2 L83.6,241.4 L85.1,239.8 L86.6,238.2 L88.1,236.7 L89.5,235.4 L91,234.2 L92.5,233 L94,231.9 L95.5,230.8 L97,229.8 L98.4,228.9 L99.9,228 L101.4,227.2 L102.9,226.5 L104.4,225.9 L105.9,225.3 L107.3,224.8 L108.8,224.3 L110.3,224 L111.8,223.7 L113.3,223.4 L114.8,223.1 L116.2,222.9 L117.7,222.8 L119.2,222.6 L120.7,222.6 L122.2,222.6 L123.7,222.6 L125.1,222.7 L126.6,222.8 L128.1,222.9 L129.6,223 L131.1,223.1 L132.6,223.2 L134,223.3 L135.5,223.4 L137,223.6 L138.5,223.7 L140,223.8 L141.5,223.9 L142.9,224 L144.4,224.2 L145.9,224.3 L147.4,224.5 L148.9,224.7 L150.4,224.8 L151.8,225 L153.3,225.2 L154.8,225.3 L156.3,225.5 L157.8,225.7 L159.3,225.8 L160.7,226 L162.2,226.2 L163.7,226.3 L165.2,226.5 L166.7,226.7 L168.2,226.8 L169.6,227 L171.1,227.2 L172.6,227.3 L174.1,227.5 L175.6,227.7 L177.1,227.8 L178.5,228 L180,228.1 L181.5,228.3 L183,228.4 L184.5,228.6 L186,228.7 L187.4,228.8 L188.9,228.9 L190.4,229.1 L191.9,229.2 L193.4,229.3 L194.9,229.4 L196.3,229.5 L197.8,229.6 L199.3,229.8 L200.8,229.9 L202.3,230 L203.8,230.1 L205.2,230.2 L206.7,230.3 L208.2,230.4 L209.7,230.5 L211.2,230.7 L212.7,230.8 L214.1,230.9 L215.6,231 L217.1,231.1 L218.6,231.2 L220.1,231.3 L221.6,231.4 L223,231.5 L224.5,231.6 L226,231.7" fill="none" stroke="#1a1010" stroke-width="0.9"/>
<path d="M49.5,318.5 L51,313.6 L52.5,308.7 L53.9,303.9 L55.4,299.1 L56.9,294.9 L58.4,291.3 L59.9,288 L61.4,284.3 L62.8,280.2 L64.3,276 L65.8,272.3 L67.3,268.9 L68.8,265.8 L70.3,262.9 L71.7,259.9 L73.2,257.1 L74.7,254.6 L76.2,252.2 L77.7,249.9 L79.2,247.5 L80.6,245.2 L82.1,243.2 L83.6,241.4 L85.1,239.8 L86.6,238.2 L88.1,236.7 L89.5,235.4 L91,234.2 L92.5,233 L94,231.9 L95.5,230.8 L97,229.8 L98.4,228.9 L99.9,228 L101.4,227.2 L102.9,226.5 L104.4,225.9 L105.9,225.3 L107.3,224.8 L108.8,224.3 L110.3,224 L111.8,223.7 L113.3,223.4 L114.8,223.1 L116.2,222.9 L117.7,222.8 L119.2,222.6 L120.7,222.6 L122.2,222.6 L123.7,222.6 L125.1,222.7 L126.6,222.8 L128.1,222.9 L129.6,223 L131.1,223.1 L132.6,223.2 L134,223.3 L135.5,223.4 L137,223.6 L138.5,223.7 L140,223.8 L141.5,223.9 L142.9,224 L144.4,224.2 L145.9,224.3 L147.4,224.5 L148.9,224.7 L150.4,224.8 L151.8,225 L153.3,225.2 L154.8,225.3 L156.3,225.5 L157.8,225.7 L159.3,225.8 L160.7,226 L162.2,226.2 L163.7,226.3 L165.2,226.5 L166.7,226.7 L168.2,226.8 L169.6,227 L171.1,227.2 L172.6,227.3 L174.1,227.5 L175.6,227.7 L177.1,227.8 L178.5,228 L180,228.1 L181.5,228.3 L183,228.4 L184.5,228.6 L186,228.7 L187.4,228.8 L188.9,228.9 L190.4,229.1 L191.9,229.2 L193.4,229.3 L194.9,229.4 L196.3,229.5 L197.8,229.6 L199.3,229.8 L200.8,229.9 L202.3,230 L203.8,230.1 L205.2,230.2 L206.7,230.3 L208.2,230.4 L209.7,230.5 L211.2,230.7 L212.7,230.8 L214.1,230.9 L215.6,231 L217.1,231.1 L218.6,231.2 L220.1,231.3 L221.6,231.4 L223,231.5 L224.5,231.6 L226,231.7" fill="none" stroke="#f00c0c" stroke-width="1.2" stroke-linejoin="round" stroke-linecap="round"/>
<path d="M47.6,316.6h3.7v3.7h-3.7zM51.1,305.1h3.7v3.7h-3.7zM54.6,294.1h3.7v3.7h-3.7zM58.1,285.8h3.7v3.7h-3.7zM61.6,276.5h3.7v3.7h-3.7zM65.2,267.7h3.7v3.7h-3.7zM68.7,260.5h3.7v3.7h-3.7zM72.2,253.9h3.7v3.7h-3.7zM75.7,248.3h3.7v3.7h-3.7zM79.2,242.8h3.7v3.7h-3.7zM82.7,238.6h3.7v3.7h-3.7zM86.2,234.9h3.7v3.7h-3.7zM89.7,232h3.7v3.7h-3.7zM93.2,229.3h3.7v3.7h-3.7zM96.7,227h3.7v3.7h-3.7zM100.2,225h3.7v3.7h-3.7zM103.7,223.6h3.7v3.7h-3.7zM107.2,222.4h3.7v3.7h-3.7zM110.7,221.7h3.7v3.7h-3.7zM114.2,221.1h3.7v3.7h-3.7zM117.7,220.8h3.7v3.7h-3.7zM121.2,220.8h3.7v3.7h-3.7zM124.7,220.9h3.7v3.7h-3.7zM128.2,221.1h3.7v3.7h-3.7zM131.7,221.4h3.7v3.7h-3.7zM135.2,221.7h3.7v3.7h-3.7zM138.7,222h3.7v3.7h-3.7zM142.2,222.3h3.7v3.7h-3.7zM145.7,222.7h3.7v3.7h-3.7zM149.2,223h3.7v3.7h-3.7zM152.7,223.4h3.7v3.7h-3.7zM156.2,223.8h3.7v3.7h-3.7zM159.7,224.2h3.7v3.7h-3.7zM163.2,224.6h3.7v3.7h-3.7zM166.7,225h3.7v3.7h-3.7zM170.2,225.4h3.7v3.7h-3.7zM173.7,225.8h3.7v3.7h-3.7zM177.2,226.2h3.7v3.7h-3.7zM180.7,226.5h3.7v3.7h-3.7zM184.2,226.8h3.7v3.7h-3.7zM187.7,227.1h3.7v3.7h-3.7zM191.2,227.4h3.7v3.7h-3.7zM194.7,227.7h3.7v3.7h-3.7zM198.2,228h3.7v3.7h-3.7zM201.7,228.2h3.7v3.7h-3.7zM205.2,228.5h3.7v3.7h-3.7zM208.7,228.8h3.7v3.7h-3.7zM212.2,229h3.7v3.7h-3.7zM215.7,229.3h3.7v3.7h-3.7zM219.2,229.5h3.7v3.7h-3.7zM222.7,229.7h3.7v3.7h-3.7z" fill="#f00c0c"/>
<path d="M49.5,318.5 L51,313.6 L52.5,308.7 L53.9,303.9 L55.4,299.1 L56.9,294.9 L58.4,291.3 L59.9,288 L61.4,284.3 L62.8,280.2 L64.3,276 L65.8,272.3 L67.3,268.9 L68.8,265.8 L70.3,262.9 L71.7,259.9 L73.2,257.1 L74.7,254.6 L76.2,252.2 L77.7,249.9 L79.2,247.5 L80.6,245.2 L82.1,243.2 L83.6,241.4 L85.1,239.8 L86.6,238.2 L88.1,236.7" fill="none" stroke="#1a1010" stroke-width="0.81" opacity="0.9"/>
</g>
<g clip-path="url(#cc)">
<path d="M49.5,318.5 L51,314.7 L52.5,311.2 L53.9,308 L55.4,305 L56.9,302.2 L58.4,299.4 L59.9,296.6 L61.4,293.7 L62.8,291 L64.3,288.4 L65.8,286 L67.3,283.6 L68.8,281.3 L70.3,279.1 L71.7,277 L73.2,274.9 L74.7,272.9 L76.2,271.2 L77.7,269.6 L79.2,268.1 L80.6,266.7 L82.1,265.3 L83.6,263.9 L85.1,262.5 L86.6,261.2 L88.1,259.9 L89.5,258.7 L91,257.4 L92.5,256.2 L94,255.2 L95.5,254.2 L97,253.4 L98.4,252.6 L99.9,251.8 L101.4,251.1 L102.9,250.5 L104.4,249.8 L105.9,249.2 L107.3,248.7 L108.8,248.1 L110.3,247.6 L111.8,247.1 L113.3,246.6 L114.8,246.1 L116.2,245.7 L117.7,245.2 L119.2,244.8 L120.7,244.4 L122.2,244 L123.7,243.6 L125.1,243.2 L126.6,242.8 L128.1,242.4 L129.6,242.1 L131.1,241.7 L132.6,241.3 L134,240.9 L135.5,240.6 L137,240.2 L138.5,240 L140,239.7 L141.5,239.5 L142.9,239.3 L144.4,239.1 L145.9,238.9 L147.4,238.8 L148.9,238.6 L150.4,238.5 L151.8,238.3 L153.3,238.2 L154.8,238.1 L156.3,237.9 L157.8,237.8 L159.3,237.7 L160.7,237.5 L162.2,237.4 L163.7,237.2 L165.2,237.1 L166.7,236.9 L168.2,236.8 L169.6,236.6 L171.1,236.5 L172.6,236.4 L174.1,236.2 L175.6,236.1 L177.1,235.9 L178.5,235.8 L180,235.7 L181.5,235.5 L183,235.4 L184.5,235.2 L186,235.1 L187.4,234.9 L188.9,234.8 L190.4,234.6 L191.9,234.5 L193.4,234.3 L194.9,234.2 L196.3,234.1 L197.8,233.9 L199.3,233.8 L200.8,233.6 L202.3,233.5 L203.8,233.4 L205.2,233.3 L206.7,233.1 L208.2,233 L209.7,232.9 L211.2,232.8 L212.7,232.7 L214.1,232.6 L215.6,232.4 L217.1,232.3 L218.6,232.2 L220.1,232.1 L221.6,232 L223,231.9 L224.5,231.8 L226,231.7" fill="none" stroke="#1a1010" stroke-width="0.9"/>
<path d="M49.5,318.5 L51,314.7 L52.5,311.2 L53.9,308 L55.4,305 L56.9,302.2 L58.4,299.4 L59.9,296.6 L61.4,293.7 L62.8,291 L64.3,288.4 L65.8,286 L67.3,283.6 L68.8,281.3 L70.3,279.1 L71.7,277 L73.2,274.9 L74.7,272.9 L76.2,271.2 L77.7,269.6 L79.2,268.1 L80.6,266.7 L82.1,265.3 L83.6,263.9 L85.1,262.5 L86.6,261.2 L88.1,259.9 L89.5,258.7 L91,257.4 L92.5,256.2 L94,255.2 L95.5,254.2 L97,253.4 L98.4,252.6 L99.9,251.8 L101.4,251.1 L102.9,250.5 L104.4,249.8 L105.9,249.2 L107.3,248.7 L108.8,248.1 L110.3,247.6 L111.8,247.1 L113.3,246.6 L114.8,246.1 L116.2,245.7 L117.7,245.2 L119.2,244.8 L120.7,244.4 L122.2,244 L123.7,243.6 L125.1,243.2 L126.6,242.8 L128.1,242.4 L129.6,242.1 L131.1,241.7 L132.6,241.3 L134,240.9 L135.5,240.6 L137,240.2 L138.5,240 L140,239.7 L141.5,239.5 L142.9,239.3 L144.4,239.1 L145.9,238.9 L147.4,238.8 L148.9,238.6 L150.4,238.5 L151.8,238.3 L153.3,238.2 L154.8,238.1 L156.3,237.9 L157.8,237.8 L159.3,237.7 L160.7,237.5 L162.2,237.4 L163.7,237.2 L165.2,237.1 L166.7,236.9 L168.2,236.8 L169.6,236.6 L171.1,236.5 L172.6,236.4 L174.1,236.2 L175.6,236.1 L177.1,235.9 L178.5,235.8 L180,235.7 L181.5,235.5 L183,235.4 L184.5,235.2 L186,235.1 L187.4,234.9 L188.9,234.8 L190.4,234.6 L191.9,234.5 L193.4,234.3 L194.9,234.2 L196.3,234.1 L197.8,233.9 L199.3,233.8 L200.8,233.6 L202.3,233.5 L203.8,233.4 L205.2,233.3 L206.7,233.1 L208.2,233 L209.7,232.9 L211.2,232.8 L212.7,232.7 L214.1,232.6 L215.6,232.4 L217.1,232.3 L218.6,232.2 L220.1,232.1 L221.6,232 L223,231.9 L224.5,231.8 L226,231.7" fill="none" stroke="#f00c0c" stroke-width="1.2" stroke-linejoin="round" stroke-linecap="round"/>
<path d="M47.6,316.6h3.7v3.7h-3.7zM51.1,308.1h3.7v3.7h-3.7zM54.6,301.1h3.7v3.7h-3.7zM58.1,294.5h3.7v3.7h-3.7zM61.6,288h3.7v3.7h-3.7zM65.2,282.2h3.7v3.7h-3.7zM68.7,276.9h3.7v3.7h-3.7zM72.2,272h3.7v3.7h-3.7zM75.7,268h3.7v3.7h-3.7zM79.2,264.5h3.7v3.7h-3.7zM82.7,261.2h3.7v3.7h-3.7zM86.2,258.1h3.7v3.7h-3.7zM89.7,255.2h3.7v3.7h-3.7zM93.2,252.7h3.7v3.7h-3.7zM96.7,250.7h3.7v3.7h-3.7zM100.2,249h3.7v3.7h-3.7zM103.7,247.5h3.7v3.7h-3.7zM107.2,246.2h3.7v3.7h-3.7zM110.7,245h3.7v3.7h-3.7zM114.2,243.9h3.7v3.7h-3.7zM117.7,242.9h3.7v3.7h-3.7zM121.2,241.9h3.7v3.7h-3.7zM124.7,241h3.7v3.7h-3.7zM128.2,240.1h3.7v3.7h-3.7zM131.7,239.2h3.7v3.7h-3.7zM135.2,238.4h3.7v3.7h-3.7zM138.7,237.8h3.7v3.7h-3.7zM142.2,237.3h3.7v3.7h-3.7zM145.7,236.9h3.7v3.7h-3.7zM149.2,236.6h3.7v3.7h-3.7zM152.7,236.2h3.7v3.7h-3.7zM156.2,235.9h3.7v3.7h-3.7zM159.7,235.6h3.7v3.7h-3.7zM163.2,235.2h3.7v3.7h-3.7zM166.7,234.9h3.7v3.7h-3.7zM170.2,234.6h3.7v3.7h-3.7zM173.7,234.2h3.7v3.7h-3.7zM177.2,233.9h3.7v3.7h-3.7zM180.7,233.6h3.7v3.7h-3.7zM184.2,233.2h3.7v3.7h-3.7zM187.7,232.9h3.7v3.7h-3.7zM191.2,232.5h3.7v3.7h-3.7zM194.7,232.2h3.7v3.7h-3.7zM198.2,231.9h3.7v3.7h-3.7zM201.7,231.6h3.7v3.7h-3.7zM205.2,231.3h3.7v3.7h-3.7zM208.7,231h3.7v3.7h-3.7zM212.2,230.7h3.7v3.7h-3.7zM215.7,230.4h3.7v3.7h-3.7zM219.2,230.2h3.7v3.7h-3.7zM222.7,230h3.7v3.7h-3.7z" fill="#f00c0c"/>
</g>
<g clip-path="url(#cc)">
<path d="M49.5,318.5 L51,313.6 L52.5,309.1 L53.9,305 L55.4,301.3 L56.9,298 L58.4,295 L59.9,292.2 L61.4,289.7 L62.8,287.4 L64.3,285.4 L65.8,283.8 L67.3,282.2 L68.8,280.7 L70.3,279.3 L71.7,278 L73.2,276.8 L74.7,275.6 L76.2,274.5 L77.7,273.5 L79.2,272.7 L80.6,272 L82.1,271.4 L83.6,270.9 L85.1,270.5 L86.6,270.1 L88.1,269.8 L89.5,269.5 L91,269.2 L92.5,269 L94,268.7 L95.5,268.4 L97,268.2 L98.4,268 L99.9,267.9 L101.4,267.8 L102.9,267.8 L104.4,267.7 L105.9,267.7 L107.3,267.7 L108.8,267.7 L110.3,267.6 L111.8,267.6 L113.3,267.6 L114.8,267.6 L116.2,267.6 L117.7,267.6 L119.2,267.6 L120.7,267.7 L122.2,267.7 L123.7,267.8 L125.1,267.9 L126.6,268.1 L128.1,268.2 L129.6,268.3 L131.1,268.5 L132.6,268.7 L134,268.8 L135.5,269 L137,269.1 L138.5,269.3 L140,269.4 L141.5,269.5 L142.9,269.6 L144.4,269.8 L145.9,269.9 L147.4,270 L148.9,270.1 L150.4,270.3 L151.8,270.4 L153.3,270.5 L154.8,270.6 L156.3,270.8 L157.8,270.9 L159.3,271 L160.7,271.1 L162.2,271.3 L163.7,271.4 L165.2,271.5 L166.7,271.6 L168.2,271.7 L169.6,271.9 L171.1,272 L172.6,272.1 L174.1,272.2 L175.6,272.3 L177.1,272.4 L178.5,272.6 L180,272.7 L181.5,272.8 L183,272.9 L184.5,273 L186,273.1 L187.4,273.2 L188.9,273.3 L190.4,273.4 L191.9,273.5 L193.4,273.6 L194.9,273.8 L196.3,273.9 L197.8,274 L199.3,274.1 L200.8,274.2 L202.3,274.3 L203.8,274.4 L205.2,274.5 L206.7,274.6 L208.2,274.7 L209.7,274.8 L211.2,274.9 L212.7,275 L214.1,275.1 L215.6,275.2 L217.1,275.2 L218.6,275.3 L220.1,275.4 L221.6,275.5 L223,275.6 L224.5,275.7 L226,275.8" fill="none" stroke="#1a1010" stroke-width="0.9"/>
<path d="M49.5,318.5 L51,313.6 L52.5,309.1 L53.9,305 L55.4,301.3 L56.9,298 L58.4,295 L59.9,292.2 L61.4,289.7 L62.8,287.4 L64.3,285.4 L65.8,283.8 L67.3,282.2 L68.8,280.7 L70.3,279.3 L71.7,278 L73.2,276.8 L74.7,275.6 L76.2,274.5 L77.7,273.5 L79.2,272.7 L80.6,272 L82.1,271.4 L83.6,270.9 L85.1,270.5 L86.6,270.1 L88.1,269.8 L89.5,269.5 L91,269.2 L92.5,269 L94,268.7 L95.5,268.4 L97,268.2 L98.4,268 L99.9,267.9 L101.4,267.8 L102.9,267.8 L104.4,267.7 L105.9,267.7 L107.3,267.7 L108.8,267.7 L110.3,267.6 L111.8,267.6 L113.3,267.6 L114.8,267.6 L116.2,267.6 L117.7,267.6 L119.2,267.6 L120.7,267.7 L122.2,267.7 L123.7,267.8 L125.1,267.9 L126.6,268.1 L128.1,268.2 L129.6,268.3 L131.1,268.5 L132.6,268.7 L134,268.8 L135.5,269 L137,269.1 L138.5,269.3 L140,269.4 L141.5,269.5 L142.9,269.6 L144.4,269.8 L145.9,269.9 L147.4,270 L148.9,270.1 L150.4,270.3 L151.8,270.4 L153.3,270.5 L154.8,270.6 L156.3,270.8 L157.8,270.9 L159.3,271 L160.7,271.1 L162.2,271.3 L163.7,271.4 L165.2,271.5 L166.7,271.6 L168.2,271.7 L169.6,271.9 L171.1,272 L172.6,272.1 L174.1,272.2 L175.6,272.3 L177.1,272.4 L178.5,272.6 L180,272.7 L181.5,272.8 L183,272.9 L184.5,273 L186,273.1 L187.4,273.2 L188.9,273.3 L190.4,273.4 L191.9,273.5 L193.4,273.6 L194.9,273.8 L196.3,273.9 L197.8,274 L199.3,274.1 L200.8,274.2 L202.3,274.3 L203.8,274.4 L205.2,274.5 L206.7,274.6 L208.2,274.7 L209.7,274.8 L211.2,274.9 L212.7,275 L214.1,275.1 L215.6,275.2 L217.1,275.2 L218.6,275.3 L220.1,275.4 L221.6,275.5 L223,275.6 L224.5,275.7 L226,275.8" fill="none" stroke="#f00c0c" stroke-width="1.2" stroke-linejoin="round" stroke-linecap="round"/>
<path d="M47.6,316.6h3.7v3.7h-3.7zM51.1,305.7h3.7v3.7h-3.7zM54.6,297h3.7v3.7h-3.7zM58.1,290.1h3.7v3.7h-3.7zM61.6,284.6h3.7v3.7h-3.7zM65.2,280.7h3.7v3.7h-3.7zM68.7,277.3h3.7v3.7h-3.7zM72.2,274.4h3.7v3.7h-3.7zM75.7,271.8h3.7v3.7h-3.7zM79.2,270h3.7v3.7h-3.7zM82.7,268.8h3.7v3.7h-3.7zM86.2,267.9h3.7v3.7h-3.7zM89.7,267.3h3.7v3.7h-3.7zM93.2,266.7h3.7v3.7h-3.7zM96.7,266.2h3.7v3.7h-3.7zM100.2,265.9h3.7v3.7h-3.7zM103.7,265.9h3.7v3.7h-3.7zM107.2,265.8h3.7v3.7h-3.7zM110.7,265.8h3.7v3.7h-3.7zM114.2,265.8h3.7v3.7h-3.7zM117.7,265.8h3.7v3.7h-3.7zM121.2,265.9h3.7v3.7h-3.7zM124.7,266.2h3.7v3.7h-3.7zM128.2,266.5h3.7v3.7h-3.7zM131.7,266.9h3.7v3.7h-3.7zM135.2,267.3h3.7v3.7h-3.7zM138.7,267.6h3.7v3.7h-3.7zM142.2,267.9h3.7v3.7h-3.7zM145.7,268.2h3.7v3.7h-3.7zM149.2,268.5h3.7v3.7h-3.7zM152.7,268.8h3.7v3.7h-3.7zM156.2,269h3.7v3.7h-3.7zM159.7,269.3h3.7v3.7h-3.7zM163.2,269.6h3.7v3.7h-3.7zM166.7,269.9h3.7v3.7h-3.7zM170.2,270.2h3.7v3.7h-3.7zM173.7,270.5h3.7v3.7h-3.7zM177.2,270.7h3.7v3.7h-3.7zM180.7,271h3.7v3.7h-3.7zM184.2,271.3h3.7v3.7h-3.7zM187.7,271.5h3.7v3.7h-3.7zM191.2,271.8h3.7v3.7h-3.7zM194.7,272h3.7v3.7h-3.7zM198.2,272.3h3.7v3.7h-3.7zM201.7,272.5h3.7v3.7h-3.7zM205.2,272.7h3.7v3.7h-3.7zM208.7,273h3.7v3.7h-3.7zM212.2,273.2h3.7v3.7h-3.7zM215.7,273.4h3.7v3.7h-3.7zM219.2,273.6h3.7v3.7h-3.7zM222.7,273.9h3.7v3.7h-3.7z" fill="#f00c0c"/>
</g>
<g clip-path="url(#cc)">
<path d="M49.5,318.5 L51,315.2 L52.5,312.1 L53.9,309.2 L55.4,306.5 L56.9,304 L58.4,301.6 L59.9,299.5 L61.4,297.7 L62.8,296.1 L64.3,294.9 L65.8,293.9 L67.3,292.9 L68.8,292.2 L70.3,291.5 L71.7,290.9 L73.2,290.3 L74.7,289.7 L76.2,289.1 L77.7,288.5 L79.2,288 L80.6,287.4 L82.1,287 L83.6,286.5 L85.1,286.1 L86.6,285.7 L88.1,285.3 L89.5,285 L91,284.7 L92.5,284.4 L94,284.1 L95.5,283.9 L97,283.6 L98.4,283.3 L99.9,283.1 L101.4,282.9 L102.9,282.7 L104.4,282.5 L105.9,282.3 L107.3,282.1 L108.8,282 L110.3,281.8 L111.8,281.7 L113.3,281.6 L114.8,281.5 L116.2,281.4 L117.7,281.3 L119.2,281.2 L120.7,281.1 L122.2,281 L123.7,280.9 L125.1,280.8 L126.6,280.7 L128.1,280.6 L129.6,280.6 L131.1,280.5 L132.6,280.4 L134,280.3 L135.5,280.2 L137,280.2 L138.5,280.1 L140,280 L141.5,279.9 L142.9,279.8 L144.4,279.7 L145.9,279.7 L147.4,279.6 L148.9,279.5 L150.4,279.4 L151.8,279.3 L153.3,279.3 L154.8,279.2 L156.3,279.1 L157.8,279 L159.3,278.9 L160.7,278.9 L162.2,278.8 L163.7,278.7 L165.2,278.6 L166.7,278.5 L168.2,278.5 L169.6,278.4 L171.1,278.3 L172.6,278.2 L174.1,278.2 L175.6,278.1 L177.1,278 L178.5,278 L180,277.9 L181.5,277.8 L183,277.7 L184.5,277.7 L186,277.6 L187.4,277.5 L188.9,277.5 L190.4,277.4 L191.9,277.3 L193.4,277.2 L194.9,277.2 L196.3,277.1 L197.8,277 L199.3,277 L200.8,276.9 L202.3,276.8 L203.8,276.8 L205.2,276.7 L206.7,276.6 L208.2,276.6 L209.7,276.5 L211.2,276.4 L212.7,276.4 L214.1,276.3 L215.6,276.2 L217.1,276.2 L218.6,276.1 L220.1,276 L221.6,276 L223,275.9 L224.5,275.9 L226,275.8" fill="none" stroke="#1a1010" stroke-width="0.9"/>
<path d="M49.5,318.5 L51,315.2 L52.5,312.1 L53.9,309.2 L55.4,306.5 L56.9,304 L58.4,301.6 L59.9,299.5 L61.4,297.7 L62.8,296.1 L64.3,294.9 L65.8,293.9 L67.3,292.9 L68.8,292.2 L70.3,291.5 L71.7,290.9 L73.2,290.3 L74.7,289.7 L76.2,289.1 L77.7,288.5 L79.2,288 L80.6,287.4 L82.1,287 L83.6,286.5 L85.1,286.1 L86.6,285.7 L88.1,285.3 L89.5,285 L91,284.7 L92.5,284.4 L94,284.1 L95.5,283.9 L97,283.6 L98.4,283.3 L99.9,283.1 L101.4,282.9 L102.9,282.7 L104.4,282.5 L105.9,282.3 L107.3,282.1 L108.8,282 L110.3,281.8 L111.8,281.7 L113.3,281.6 L114.8,281.5 L116.2,281.4 L117.7,281.3 L119.2,281.2 L120.7,281.1 L122.2,281 L123.7,280.9 L125.1,280.8 L126.6,280.7 L128.1,280.6 L129.6,280.6 L131.1,280.5 L132.6,280.4 L134,280.3 L135.5,280.2 L137,280.2 L138.5,280.1 L140,280 L141.5,279.9 L142.9,279.8 L144.4,279.7 L145.9,279.7 L147.4,279.6 L148.9,279.5 L150.4,279.4 L151.8,279.3 L153.3,279.3 L154.8,279.2 L156.3,279.1 L157.8,279 L159.3,278.9 L160.7,278.9 L162.2,278.8 L163.7,278.7 L165.2,278.6 L166.7,278.5 L168.2,278.5 L169.6,278.4 L171.1,278.3 L172.6,278.2 L174.1,278.2 L175.6,278.1 L177.1,278 L178.5,278 L180,277.9 L181.5,277.8 L183,277.7 L184.5,277.7 L186,277.6 L187.4,277.5 L188.9,277.5 L190.4,277.4 L191.9,277.3 L193.4,277.2 L194.9,277.2 L196.3,277.1 L197.8,277 L199.3,277 L200.8,276.9 L202.3,276.8 L203.8,276.8 L205.2,276.7 L206.7,276.6 L208.2,276.6 L209.7,276.5 L211.2,276.4 L212.7,276.4 L214.1,276.3 L215.6,276.2 L217.1,276.2 L218.6,276.1 L220.1,276 L221.6,276 L223,275.9 L224.5,275.9 L226,275.8" fill="none" stroke="#f00c0c" stroke-width="1.2" stroke-linejoin="round" stroke-linecap="round"/>
<path d="M47.6,316.6h3.7v3.7h-3.7zM51.1,309.2h3.7v3.7h-3.7zM54.6,302.8h3.7v3.7h-3.7zM58.1,297.5h3.7v3.7h-3.7zM61.6,293.7h3.7v3.7h-3.7zM65.2,291.3h3.7v3.7h-3.7zM68.7,289.5h3.7v3.7h-3.7zM72.2,288.1h3.7v3.7h-3.7zM75.7,286.8h3.7v3.7h-3.7zM79.2,285.5h3.7v3.7h-3.7zM82.7,284.4h3.7v3.7h-3.7zM86.2,283.5h3.7v3.7h-3.7zM89.7,282.8h3.7v3.7h-3.7zM93.2,282.1h3.7v3.7h-3.7zM96.7,281.5h3.7v3.7h-3.7zM100.2,280.9h3.7v3.7h-3.7zM103.7,280.5h3.7v3.7h-3.7zM107.2,280.1h3.7v3.7h-3.7zM110.7,279.8h3.7v3.7h-3.7zM114.2,279.5h3.7v3.7h-3.7zM117.7,279.3h3.7v3.7h-3.7zM121.2,279.1h3.7v3.7h-3.7zM124.7,278.9h3.7v3.7h-3.7zM128.2,278.7h3.7v3.7h-3.7zM131.7,278.5h3.7v3.7h-3.7zM135.2,278.3h3.7v3.7h-3.7zM138.7,278.1h3.7v3.7h-3.7zM142.2,277.9h3.7v3.7h-3.7zM145.7,277.7h3.7v3.7h-3.7zM149.2,277.5h3.7v3.7h-3.7zM152.7,277.3h3.7v3.7h-3.7zM156.2,277.2h3.7v3.7h-3.7zM159.7,277h3.7v3.7h-3.7zM163.2,276.8h3.7v3.7h-3.7zM166.7,276.6h3.7v3.7h-3.7zM170.2,276.4h3.7v3.7h-3.7zM173.7,276.3h3.7v3.7h-3.7zM177.2,276.1h3.7v3.7h-3.7zM180.7,275.9h3.7v3.7h-3.7zM184.2,275.7h3.7v3.7h-3.7zM187.7,275.6h3.7v3.7h-3.7zM191.2,275.4h3.7v3.7h-3.7zM194.7,275.2h3.7v3.7h-3.7zM198.2,275.1h3.7v3.7h-3.7zM201.7,274.9h3.7v3.7h-3.7zM205.2,274.8h3.7v3.7h-3.7zM208.7,274.6h3.7v3.7h-3.7zM212.2,274.5h3.7v3.7h-3.7zM215.7,274.3h3.7v3.7h-3.7zM219.2,274.2h3.7v3.7h-3.7zM222.7,274h3.7v3.7h-3.7z" fill="#f00c0c"/>
</g>
<g clip-path="url(#cc)">
<path d="M49.5,318.5 L51,315 L52.5,312.4 L53.9,310.5 L55.4,309.3 L56.9,308.5 L58.4,308.1 L59.9,307.7 L61.4,307.6 L62.8,307.5 L64.3,307.5 L65.8,307.4 L67.3,307.4 L68.8,307.4 L70.3,307.4 L71.7,307.4 L73.2,307.4 L74.7,307.4 L76.2,307.4 L77.7,307.4 L79.2,307.4 L80.6,307.4 L82.1,307.4 L83.6,307.4 L85.1,307.4 L86.6,307.4 L88.1,307.4 L89.5,307.5 L91,307.5 L92.5,307.5 L94,307.5 L95.5,307.5 L97,307.5 L98.4,307.5 L99.9,307.5 L101.4,307.5 L102.9,307.5 L104.4,307.5 L105.9,307.5 L107.3,307.5 L108.8,307.6 L110.3,307.6 L111.8,307.6 L113.3,307.6 L114.8,307.6 L116.2,307.6 L117.7,307.6 L119.2,307.7 L120.7,307.7 L122.2,307.7 L123.7,307.7 L125.1,307.7 L126.6,307.7 L128.1,307.8 L129.6,307.8 L131.1,307.8 L132.6,307.8 L134,307.8 L135.5,307.8 L137,307.9 L138.5,307.9 L140,307.9 L141.5,307.9 L142.9,307.9 L144.4,308 L145.9,308 L147.4,308 L148.9,308 L150.4,308 L151.8,308.1 L153.3,308.1 L154.8,308.1 L156.3,308.1 L157.8,308.2 L159.3,308.2 L160.7,308.2 L162.2,308.2 L163.7,308.3 L165.2,308.3 L166.7,308.3 L168.2,308.4 L169.6,308.4 L171.1,308.4 L172.6,308.4 L174.1,308.5 L175.6,308.5 L177.1,308.5 L178.5,308.6 L180,308.6 L181.5,308.6 L183,308.7 L184.5,308.7 L186,308.7 L187.4,308.8 L188.9,308.8 L190.4,308.8 L191.9,308.9 L193.4,308.9 L194.9,308.9 L196.3,309 L197.8,309 L199.3,309 L200.8,309.1 L202.3,309.1 L203.8,309.2 L205.2,309.2 L206.7,309.2 L208.2,309.3 L209.7,309.3 L211.2,309.4 L212.7,309.4 L214.1,309.4 L215.6,309.5 L217.1,309.5 L218.6,309.6 L220.1,309.6 L221.6,309.7 L223,309.7 L224.5,309.8 L226,309.8" fill="none" stroke="#1a1010" stroke-width="0.9"/>
<path d="M49.5,318.5 L51,315 L52.5,312.4 L53.9,310.5 L55.4,309.3 L56.9,308.5 L58.4,308.1 L59.9,307.7 L61.4,307.6 L62.8,307.5 L64.3,307.5 L65.8,307.4 L67.3,307.4 L68.8,307.4 L70.3,307.4 L71.7,307.4 L73.2,307.4 L74.7,307.4 L76.2,307.4 L77.7,307.4 L79.2,307.4 L80.6,307.4 L82.1,307.4 L83.6,307.4 L85.1,307.4 L86.6,307.4 L88.1,307.4 L89.5,307.5 L91,307.5 L92.5,307.5 L94,307.5 L95.5,307.5 L97,307.5 L98.4,307.5 L99.9,307.5 L101.4,307.5 L102.9,307.5 L104.4,307.5 L105.9,307.5 L107.3,307.5 L108.8,307.6 L110.3,307.6 L111.8,307.6 L113.3,307.6 L114.8,307.6 L116.2,307.6 L117.7,307.6 L119.2,307.7 L120.7,307.7 L122.2,307.7 L123.7,307.7 L125.1,307.7 L126.6,307.7 L128.1,307.8 L129.6,307.8 L131.1,307.8 L132.6,307.8 L134,307.8 L135.5,307.8 L137,307.9 L138.5,307.9 L140,307.9 L141.5,307.9 L142.9,307.9 L144.4,308 L145.9,308 L147.4,308 L148.9,308 L150.4,308 L151.8,308.1 L153.3,308.1 L154.8,308.1 L156.3,308.1 L157.8,308.2 L159.3,308.2 L160.7,308.2 L162.2,308.2 L163.7,308.3 L165.2,308.3 L166.7,308.3 L168.2,308.4 L169.6,308.4 L171.1,308.4 L172.6,308.4 L174.1,308.5 L175.6,308.5 L177.1,308.5 L178.5,308.6 L180,308.6 L181.5,308.6 L183,308.7 L184.5,308.7 L186,308.7 L187.4,308.8 L188.9,308.8 L190.4,308.8 L191.9,308.9 L193.4,308.9 L194.9,308.9 L196.3,309 L197.8,309 L199.3,309 L200.8,309.1 L202.3,309.1 L203.8,309.2 L205.2,309.2 L206.7,309.2 L208.2,309.3 L209.7,309.3 L211.2,309.4 L212.7,309.4 L214.1,309.4 L215.6,309.5 L217.1,309.5 L218.6,309.6 L220.1,309.6 L221.6,309.7 L223,309.7 L224.5,309.8 L226,309.8" fill="none" stroke="#f00c0c" stroke-width="1.2" stroke-linejoin="round" stroke-linecap="round"/>
<path d="M47.6,316.6h3.7v3.7h-3.7zM51.1,309.8h3.7v3.7h-3.7zM54.6,306.9h3.7v3.7h-3.7zM58.1,305.9h3.7v3.7h-3.7zM61.6,305.7h3.7v3.7h-3.7zM65.2,305.6h3.7v3.7h-3.7zM68.7,305.6h3.7v3.7h-3.7zM72.2,305.6h3.7v3.7h-3.7zM75.7,305.6h3.7v3.7h-3.7zM79.2,305.6h3.7v3.7h-3.7zM82.7,305.6h3.7v3.7h-3.7zM86.2,305.6h3.7v3.7h-3.7zM89.7,305.6h3.7v3.7h-3.7zM93.2,305.6h3.7v3.7h-3.7zM96.7,305.6h3.7v3.7h-3.7zM100.2,305.7h3.7v3.7h-3.7zM103.7,305.7h3.7v3.7h-3.7zM107.2,305.7h3.7v3.7h-3.7zM110.7,305.7h3.7v3.7h-3.7zM114.2,305.8h3.7v3.7h-3.7zM117.7,305.8h3.7v3.7h-3.7zM121.2,305.8h3.7v3.7h-3.7zM124.7,305.9h3.7v3.7h-3.7zM128.2,305.9h3.7v3.7h-3.7zM131.7,306h3.7v3.7h-3.7zM135.2,306h3.7v3.7h-3.7zM138.7,306.1h3.7v3.7h-3.7zM142.2,306.1h3.7v3.7h-3.7zM145.7,306.2h3.7v3.7h-3.7zM149.2,306.2h3.7v3.7h-3.7zM152.7,306.3h3.7v3.7h-3.7zM156.2,306.3h3.7v3.7h-3.7zM159.7,306.4h3.7v3.7h-3.7zM163.2,306.5h3.7v3.7h-3.7zM166.7,306.5h3.7v3.7h-3.7zM170.2,306.6h3.7v3.7h-3.7zM173.7,306.7h3.7v3.7h-3.7zM177.2,306.7h3.7v3.7h-3.7zM180.7,306.8h3.7v3.7h-3.7zM184.2,306.9h3.7v3.7h-3.7zM187.7,307h3.7v3.7h-3.7zM191.2,307h3.7v3.7h-3.7zM194.7,307.1h3.7v3.7h-3.7zM198.2,307.2h3.7v3.7h-3.7zM201.7,307.3h3.7v3.7h-3.7zM205.2,307.4h3.7v3.7h-3.7zM208.7,307.5h3.7v3.7h-3.7zM212.2,307.6h3.7v3.7h-3.7zM215.7,307.7h3.7v3.7h-3.7zM219.2,307.8h3.7v3.7h-3.7zM222.7,307.9h3.7v3.7h-3.7z" fill="#f00c0c"/>
</g>
<g clip-path="url(#cc)">
<path d="M49.5,318.5 L51,316.6 L52.5,315.1 L53.9,313.8 L55.4,313 L56.9,312.6 L58.4,312.3 L59.9,312.2 L61.4,312.1 L62.8,312 L64.3,312 L65.8,311.9 L67.3,311.9 L68.8,311.9 L70.3,311.9 L71.7,311.9 L73.2,311.9 L74.7,311.9 L76.2,311.9 L77.7,311.9 L79.2,311.9 L80.6,311.9 L82.1,311.9 L83.6,311.9 L85.1,311.9 L86.6,311.9 L88.1,311.9 L89.5,311.9 L91,311.9 L92.5,311.9 L94,311.9 L95.5,311.8 L97,311.8 L98.4,311.8 L99.9,311.8 L101.4,311.8 L102.9,311.8 L104.4,311.8 L105.9,311.8 L107.3,311.8 L108.8,311.8 L110.3,311.8 L111.8,311.8 L113.3,311.8 L114.8,311.8 L116.2,311.8 L117.7,311.8 L119.2,311.8 L120.7,311.8 L122.2,311.8 L123.7,311.8 L125.1,311.8 L126.6,311.8 L128.1,311.8 L129.6,311.8 L131.1,311.8 L132.6,311.8 L134,311.8 L135.5,311.8 L137,311.8 L138.5,311.8 L140,311.8 L141.5,311.8 L142.9,311.8 L144.4,311.8 L145.9,311.8 L147.4,311.8 L148.9,311.8 L150.4,311.7 L151.8,311.7 L153.3,311.7 L154.8,311.7 L156.3,311.7 L157.8,311.7 L159.3,311.7 L160.7,311.7 L162.2,311.7 L163.7,311.6 L165.2,311.6 L166.7,311.6 L168.2,311.6 L169.6,311.6 L171.1,311.6 L172.6,311.6 L174.1,311.5 L175.6,311.5 L177.1,311.5 L178.5,311.5 L180,311.5 L181.5,311.5 L183,311.5 L184.5,311.5 L186,311.5 L187.4,311.4 L188.9,311.4 L190.4,311.4 L191.9,311.4 L193.4,311.4 L194.9,311.4 L196.3,311.4 L197.8,311.4 L199.3,311.4 L200.8,311.4 L202.3,311.3 L203.8,311.3 L205.2,311.3 L206.7,311.3 L208.2,311.3 L209.7,311.3 L211.2,311.3 L212.7,311.3 L214.1,311.3 L215.6,311.3 L217.1,311.3 L218.6,311.2 L220.1,311.2 L221.6,311.2 L223,311.2 L224.5,311.2 L226,311.2" fill="none" stroke="#1a1010" stroke-width="0.9"/>
<path d="M49.5,318.5 L51,316.6 L52.5,315.1 L53.9,313.8 L55.4,313 L56.9,312.6 L58.4,312.3 L59.9,312.2 L61.4,312.1 L62.8,312 L64.3,312 L65.8,311.9 L67.3,311.9 L68.8,311.9 L70.3,311.9 L71.7,311.9 L73.2,311.9 L74.7,311.9 L76.2,311.9 L77.7,311.9 L79.2,311.9 L80.6,311.9 L82.1,311.9 L83.6,311.9 L85.1,311.9 L86.6,311.9 L88.1,311.9 L89.5,311.9 L91,311.9 L92.5,311.9 L94,311.9 L95.5,311.8 L97,311.8 L98.4,311.8 L99.9,311.8 L101.4,311.8 L102.9,311.8 L104.4,311.8 L105.9,311.8 L107.3,311.8 L108.8,311.8 L110.3,311.8 L111.8,311.8 L113.3,311.8 L114.8,311.8 L116.2,311.8 L117.7,311.8 L119.2,311.8 L120.7,311.8 L122.2,311.8 L123.7,311.8 L125.1,311.8 L126.6,311.8 L128.1,311.8 L129.6,311.8 L131.1,311.8 L132.6,311.8 L134,311.8 L135.5,311.8 L137,311.8 L138.5,311.8 L140,311.8 L141.5,311.8 L142.9,311.8 L144.4,311.8 L145.9,311.8 L147.4,311.8 L148.9,311.8 L150.4,311.7 L151.8,311.7 L153.3,311.7 L154.8,311.7 L156.3,311.7 L157.8,311.7 L159.3,311.7 L160.7,311.7 L162.2,311.7 L163.7,311.6 L165.2,311.6 L166.7,311.6 L168.2,311.6 L169.6,311.6 L171.1,311.6 L172.6,311.6 L174.1,311.5 L175.6,311.5 L177.1,311.5 L178.5,311.5 L180,311.5 L181.5,311.5 L183,311.5 L184.5,311.5 L186,311.5 L187.4,311.4 L188.9,311.4 L190.4,311.4 L191.9,311.4 L193.4,311.4 L194.9,311.4 L196.3,311.4 L197.8,311.4 L199.3,311.4 L200.8,311.4 L202.3,311.3 L203.8,311.3 L205.2,311.3 L206.7,311.3 L208.2,311.3 L209.7,311.3 L211.2,311.3 L212.7,311.3 L214.1,311.3 L215.6,311.3 L217.1,311.3 L218.6,311.2 L220.1,311.2 L221.6,311.2 L223,311.2 L224.5,311.2 L226,311.2" fill="none" stroke="#f00c0c" stroke-width="1.2" stroke-linejoin="round" stroke-linecap="round"/>
<path d="M47.6,316.6h3.7v3.7h-3.7zM51.1,312.7h3.7v3.7h-3.7zM54.6,310.8h3.7v3.7h-3.7zM58.1,310.3h3.7v3.7h-3.7zM61.6,310.2h3.7v3.7h-3.7zM65.2,310.1h3.7v3.7h-3.7zM68.7,310h3.7v3.7h-3.7zM72.2,310h3.7v3.7h-3.7zM75.7,310h3.7v3.7h-3.7zM79.2,310h3.7v3.7h-3.7zM82.7,310h3.7v3.7h-3.7zM86.2,310h3.7v3.7h-3.7zM89.7,310h3.7v3.7h-3.7zM93.2,310h3.7v3.7h-3.7zM96.7,310h3.7v3.7h-3.7zM100.2,310h3.7v3.7h-3.7zM103.7,310h3.7v3.7h-3.7zM107.2,310h3.7v3.7h-3.7zM110.7,310h3.7v3.7h-3.7zM114.2,310h3.7v3.7h-3.7zM117.7,310h3.7v3.7h-3.7zM121.2,310h3.7v3.7h-3.7zM124.7,310h3.7v3.7h-3.7zM128.2,310h3.7v3.7h-3.7zM131.7,310h3.7v3.7h-3.7zM135.2,310h3.7v3.7h-3.7zM138.7,309.9h3.7v3.7h-3.7zM142.2,309.9h3.7v3.7h-3.7zM145.7,309.9h3.7v3.7h-3.7zM149.2,309.9h3.7v3.7h-3.7zM152.7,309.9h3.7v3.7h-3.7zM156.2,309.8h3.7v3.7h-3.7zM159.7,309.8h3.7v3.7h-3.7zM163.2,309.8h3.7v3.7h-3.7zM166.7,309.7h3.7v3.7h-3.7zM170.2,309.7h3.7v3.7h-3.7zM173.7,309.7h3.7v3.7h-3.7zM177.2,309.7h3.7v3.7h-3.7zM180.7,309.6h3.7v3.7h-3.7zM184.2,309.6h3.7v3.7h-3.7zM187.7,309.6h3.7v3.7h-3.7zM191.2,309.6h3.7v3.7h-3.7zM194.7,309.5h3.7v3.7h-3.7zM198.2,309.5h3.7v3.7h-3.7zM201.7,309.5h3.7v3.7h-3.7zM205.2,309.5h3.7v3.7h-3.7zM208.7,309.4h3.7v3.7h-3.7zM212.2,309.4h3.7v3.7h-3.7zM215.7,309.4h3.7v3.7h-3.7zM219.2,309.4h3.7v3.7h-3.7zM222.7,309.4h3.7v3.7h-3.7z" fill="#f00c0c"/>
</g>
<g clip-path="url(#cc)">
<path d="M49.5,318.5 L51,317.4 L52.5,316.6 L53.9,316.3 L55.4,316.1 L56.9,316 L58.4,315.8 L59.9,315.8 L61.4,315.8 L62.8,315.8 L64.3,315.8 L65.8,315.8 L67.3,315.8 L68.8,315.8 L70.3,315.8 L71.7,315.8 L73.2,315.8 L74.7,315.8 L76.2,315.8 L77.7,315.8 L79.2,315.7 L80.6,315.7 L82.1,315.7 L83.6,315.7 L85.1,315.7 L86.6,315.7 L88.1,315.7 L89.5,315.7 L91,315.7 L92.5,315.7 L94,315.7 L95.5,315.7 L97,315.7 L98.4,315.7 L99.9,315.7 L101.4,315.7 L102.9,315.7 L104.4,315.7 L105.9,315.7 L107.3,315.7 L108.8,315.7 L110.3,315.7 L111.8,315.7 L113.3,315.7 L114.8,315.7 L116.2,315.7 L117.7,315.7 L119.2,315.7 L120.7,315.7 L122.2,315.7 L123.7,315.7 L125.1,315.7 L126.6,315.7 L128.1,315.7 L129.6,315.7 L131.1,315.7 L132.6,315.7 L134,315.7 L135.5,315.7 L137,315.7 L138.5,315.7 L140,315.7 L141.5,315.7 L142.9,315.7 L144.4,315.7 L145.9,315.7 L147.4,315.7 L148.9,315.7 L150.4,315.7 L151.8,315.7 L153.3,315.7 L154.8,315.7 L156.3,315.7 L157.8,315.7 L159.3,315.7 L160.7,315.7 L162.2,315.8 L163.7,315.8 L165.2,315.8 L166.7,315.8 L168.2,315.8 L169.6,315.8 L171.1,315.8 L172.6,315.8 L174.1,315.8 L175.6,315.8 L177.1,315.8 L178.5,315.8 L180,315.9 L181.5,315.9 L183,315.9 L184.5,315.9 L186,315.9 L187.4,315.9 L188.9,315.9 L190.4,315.9 L191.9,316 L193.4,316 L194.9,316 L196.3,316 L197.8,316 L199.3,316 L200.8,316 L202.3,316 L203.8,316.1 L205.2,316.1 L206.7,316.1 L208.2,316.1 L209.7,316.1 L211.2,316.1 L212.7,316.2 L214.1,316.2 L215.6,316.2 L217.1,316.2 L218.6,316.2 L220.1,316.2 L221.6,316.3 L223,316.3 L224.5,316.3 L226,316.3" fill="none" stroke="#1a1010" stroke-width="0.9"/>
<path d="M49.5,318.5 L51,317.4 L52.5,316.6 L53.9,316.3 L55.4,316.1 L56.9,316 L58.4,315.8 L59.9,315.8 L61.4,315.8 L62.8,315.8 L64.3,315.8 L65.8,315.8 L67.3,315.8 L68.8,315.8 L70.3,315.8 L71.7,315.8 L73.2,315.8 L74.7,315.8 L76.2,315.8 L77.7,315.8 L79.2,315.7 L80.6,315.7 L82.1,315.7 L83.6,315.7 L85.1,315.7 L86.6,315.7 L88.1,315.7 L89.5,315.7 L91,315.7 L92.5,315.7 L94,315.7 L95.5,315.7 L97,315.7 L98.4,315.7 L99.9,315.7 L101.4,315.7 L102.9,315.7 L104.4,315.7 L105.9,315.7 L107.3,315.7 L108.8,315.7 L110.3,315.7 L111.8,315.7 L113.3,315.7 L114.8,315.7 L116.2,315.7 L117.7,315.7 L119.2,315.7 L120.7,315.7 L122.2,315.7 L123.7,315.7 L125.1,315.7 L126.6,315.7 L128.1,315.7 L129.6,315.7 L131.1,315.7 L132.6,315.7 L134,315.7 L135.5,315.7 L137,315.7 L138.5,315.7 L140,315.7 L141.5,315.7 L142.9,315.7 L144.4,315.7 L145.9,315.7 L147.4,315.7 L148.9,315.7 L150.4,315.7 L151.8,315.7 L153.3,315.7 L154.8,315.7 L156.3,315.7 L157.8,315.7 L159.3,315.7 L160.7,315.7 L162.2,315.8 L163.7,315.8 L165.2,315.8 L166.7,315.8 L168.2,315.8 L169.6,315.8 L171.1,315.8 L172.6,315.8 L174.1,315.8 L175.6,315.8 L177.1,315.8 L178.5,315.8 L180,315.9 L181.5,315.9 L183,315.9 L184.5,315.9 L186,315.9 L187.4,315.9 L188.9,315.9 L190.4,315.9 L191.9,316 L193.4,316 L194.9,316 L196.3,316 L197.8,316 L199.3,316 L200.8,316 L202.3,316 L203.8,316.1 L205.2,316.1 L206.7,316.1 L208.2,316.1 L209.7,316.1 L211.2,316.1 L212.7,316.2 L214.1,316.2 L215.6,316.2 L217.1,316.2 L218.6,316.2 L220.1,316.2 L221.6,316.3 L223,316.3 L224.5,316.3 L226,316.3" fill="none" stroke="#f00c0c" stroke-width="1.2" stroke-linejoin="round" stroke-linecap="round"/>
<path d="M47.6,316.6h3.7v3.7h-3.7zM51.1,314.6h3.7v3.7h-3.7zM54.6,314.1h3.7v3.7h-3.7zM58.1,313.9h3.7v3.7h-3.7zM61.6,313.9h3.7v3.7h-3.7zM65.2,313.9h3.7v3.7h-3.7zM68.7,313.9h3.7v3.7h-3.7zM72.2,313.9h3.7v3.7h-3.7zM75.7,313.9h3.7v3.7h-3.7zM79.2,313.9h3.7v3.7h-3.7zM82.7,313.9h3.7v3.7h-3.7zM86.2,313.9h3.7v3.7h-3.7zM89.7,313.9h3.7v3.7h-3.7zM93.2,313.9h3.7v3.7h-3.7zM96.7,313.9h3.7v3.7h-3.7zM100.2,313.9h3.7v3.7h-3.7zM103.7,313.9h3.7v3.7h-3.7zM107.2,313.9h3.7v3.7h-3.7zM110.7,313.9h3.7v3.7h-3.7zM114.2,313.9h3.7v3.7h-3.7zM117.7,313.9h3.7v3.7h-3.7zM121.2,313.9h3.7v3.7h-3.7zM124.7,313.9h3.7v3.7h-3.7zM128.2,313.9h3.7v3.7h-3.7zM131.7,313.9h3.7v3.7h-3.7zM135.2,313.9h3.7v3.7h-3.7zM138.7,313.9h3.7v3.7h-3.7zM142.2,313.9h3.7v3.7h-3.7zM145.7,313.9h3.7v3.7h-3.7zM149.2,313.9h3.7v3.7h-3.7zM152.7,313.9h3.7v3.7h-3.7zM156.2,313.9h3.7v3.7h-3.7zM159.7,313.9h3.7v3.7h-3.7zM163.2,313.9h3.7v3.7h-3.7zM166.7,313.9h3.7v3.7h-3.7zM170.2,314h3.7v3.7h-3.7zM173.7,314h3.7v3.7h-3.7zM177.2,314h3.7v3.7h-3.7zM180.7,314h3.7v3.7h-3.7zM184.2,314.1h3.7v3.7h-3.7zM187.7,314.1h3.7v3.7h-3.7zM191.2,314.1h3.7v3.7h-3.7zM194.7,314.1h3.7v3.7h-3.7zM198.2,314.2h3.7v3.7h-3.7zM201.7,314.2h3.7v3.7h-3.7zM205.2,314.2h3.7v3.7h-3.7zM208.7,314.3h3.7v3.7h-3.7zM212.2,314.3h3.7v3.7h-3.7zM215.7,314.4h3.7v3.7h-3.7zM219.2,314.4h3.7v3.7h-3.7zM222.7,314.4h3.7v3.7h-3.7z" fill="#f00c0c"/>
</g>
<text x="46" y="322.5" font-size="11.5" text-anchor="end" font-weight="normal" fill="#111" font-family="'Liberation Sans', Arial, sans-serif" >0.00</text>
<text x="46" y="279.5" font-size="11.5" text-anchor="end" font-weight="normal" fill="#111" font-family="'Liberation Sans', Arial, sans-serif" >-0.05</text>
<text x="46" y="236.5" font-size="11.5" text-anchor="end" font-weight="normal" fill="#111" font-family="'Liberation Sans', Arial, sans-serif" >-0.10</text>
<text x="46" y="193.5" font-size="11.5" text-anchor="end" font-weight="normal" fill="#111" font-family="'Liberation Sans', Arial, sans-serif" >-0.15</text>
<text x="49.5" y="330.8" font-size="11.5" text-anchor="middle" font-weight="normal" fill="#111" font-family="'Liberation Sans', Arial, sans-serif" >0</text>
<text x="85.5" y="330.8" font-size="11.5" text-anchor="middle" font-weight="normal" fill="#111" font-family="'Liberation Sans', Arial, sans-serif" >-10</text>
<text x="120.8" y="330.8" font-size="11.5" text-anchor="middle" font-weight="normal" fill="#111" font-family="'Liberation Sans', Arial, sans-serif" >-20</text>
<text x="156.1" y="330.8" font-size="11.5" text-anchor="middle" font-weight="normal" fill="#111" font-family="'Liberation Sans', Arial, sans-serif" >-30</text>
<text x="191.3" y="330.8" font-size="11.5" text-anchor="middle" font-weight="normal" fill="#111" font-family="'Liberation Sans', Arial, sans-serif" >-40</text>
<text x="226.6" y="330.8" font-size="11.5" text-anchor="middle" font-weight="normal" fill="#111" font-family="'Liberation Sans', Arial, sans-serif" >-50</text>
<text x="118.5" y="340.8" font-size="12" fill="#111" font-family="'Liberation Sans', Arial, sans-serif" text-anchor="start" >V<tspan font-size="7.5" dy="4.3">DS</tspan><tspan dy="-4.3" dx="-0.8"> (V)</tspan></text>
<text transform="translate(12.8,279.3) rotate(-90)" font-size="12" fill="#111" font-family="'Liberation Sans', Arial, sans-serif">I<tspan font-size="7.5" dy="3">DS</tspan><tspan dy="-3"> (µA)</tspan></text>
<text x="-1" y="187.7" font-size="16.5" text-anchor="start" font-weight="normal" fill="#111" font-family="'Liberation Sans', Arial, sans-serif" style="stroke-width:0.8px">(c)</text>
<text x="52" y="205" font-size="12.3" text-anchor="start" font-weight="bold" fill="#111" font-family="'Liberation Sans', Arial, sans-serif" style="stroke-width:0.3px" textLength="135.6" lengthAdjust="spacingAndGlyphs">54 nm wide nanowires</text>
<text x="164.4" y="218.5" font-size="11.6" fill="#111" font-family="'Liberation Sans', Arial, sans-serif" text-anchor="start" >V<tspan font-size="7.5" dy="4.3">GS</tspan><tspan dy="-4.3" dx="-0.8"> = -30 V</tspan></text>
<text x="222.8" y="267.1" font-size="11.6" text-anchor="end" font-weight="normal" fill="#111" font-family="'Liberation Sans', Arial, sans-serif" >-20 V</text>
<text x="222.8" y="304" font-size="11.6" text-anchor="end" font-weight="normal" fill="#111" font-family="'Liberation Sans', Arial, sans-serif" >-10 V</text>
<clipPath id="ce"><rect x="48.6" y="370" width="175.8" height="129"/></clipPath>
<rect x="48.6" y="370" width="175.8" height="129" fill="none" stroke="#222" stroke-width="1.5"/>
<path d="M48.9,499 v-3.5 M48.9,370 v3.5 M84,499 v-3.5 M84,370 v3.5 M119.1,499 v-3.5 M119.1,370 v3.5 M154.2,499 v-3.5 M154.2,370 v3.5 M189.3,499 v-3.5 M189.3,370 v3.5 M224.4,499 v-3.5 M224.4,370 v3.5" stroke="#222" stroke-width="1" fill="none"/>
<path d="M66.4,499 v-2 M66.4,370 v2 M101.5,499 v-2 M101.5,370 v2 M136.7,499 v-2 M136.7,370 v2 M171.8,499 v-2 M171.8,370 v2 M206.8,499 v-2 M206.8,370 v2" stroke="#222" stroke-width="1" fill="none"/>
<path d="M48.6,470.1 h3.5 M224.4,470.1 h-3.5 M48.6,441.7 h3.5 M224.4,441.7 h-3.5 M48.6,413.3 h3.5 M224.4,413.3 h-3.5 M48.6,384.9 h3.5 M224.4,384.9 h-3.5" stroke="#222" stroke-width="1" fill="none"/>
<path d="M48.6,484.3 h2 M224.4,484.3 h-2 M48.6,455.9 h2 M224.4,455.9 h-2 M48.6,427.5 h2 M224.4,427.5 h-2 M48.6,399.1 h2 M224.4,399.1 h-2" stroke="#222" stroke-width="1" fill="none"/>
<g clip-path="url(#ce)">
<path d="M48.9,498.5 L50.4,497.2 L51.8,494.6 L53.3,489.1 L54.8,483.8 L56.3,478 L57.7,471.2 L59.2,464.6 L60.7,458.1 L62.2,452.1 L63.6,446.9 L65.1,442.1 L66.6,437.5 L68.1,433.1 L69.5,429.1 L71,425.6 L72.5,422.4 L74,419.6 L75.4,417.1 L76.9,415 L78.4,413 L79.9,411.3 L81.3,409.7 L82.8,408.2 L84.3,406.8 L85.8,405.6 L87.2,404.9 L88.7,404.3 L90.2,403.7 L91.7,403.2 L93.1,402.9 L94.6,402.7 L96.1,402.6 L97.6,402.6 L99,402.7 L100.5,402.7 L102,402.8 L103.5,402.9 L104.9,403 L106.4,403.1 L107.9,403.2 L109.4,403.4 L110.8,403.5 L112.3,403.8 L113.8,404.1 L115.3,404.4 L116.7,404.7 L118.2,405.1 L119.7,405.5 L121.2,405.8 L122.6,406.1 L124.1,406.3 L125.6,406.5 L127.1,406.7 L128.5,406.8 L130,407 L131.5,407.1 L133,407.2 L134.4,407.4 L135.9,407.5 L137.4,407.7 L138.9,407.9 L140.3,408 L141.8,408.2 L143.3,408.4 L144.8,408.7 L146.2,408.9 L147.7,409.1 L149.2,409.4 L150.7,409.6 L152.1,409.9 L153.6,410.1 L155.1,410.3 L156.6,410.6 L158,410.8 L159.5,411 L161,411.2 L162.5,411.4 L163.9,411.6 L165.4,411.8 L166.9,412 L168.4,412.1 L169.8,412.3 L171.3,412.5 L172.8,412.7 L174.3,412.8 L175.7,413 L177.2,413.2 L178.7,413.4 L180.2,413.6 L181.6,413.8 L183.1,414 L184.6,414.2 L186.1,414.5 L187.5,414.7 L189,415 L190.5,415.2 L192,415.5 L193.4,415.8 L194.9,416 L196.4,416.3 L197.9,416.6 L199.3,416.8 L200.8,417 L202.3,417.3 L203.8,417.5 L205.2,417.7 L206.7,417.9 L208.2,418.1 L209.7,418.3 L211.1,418.5 L212.6,418.7 L214.1,418.9 L215.6,419.1 L217,419.3 L218.5,419.5 L220,419.7 L221.5,419.9 L222.9,420 L224.4,420.2" fill="none" stroke="#1a1010" stroke-width="0.9"/>
<path d="M48.9,498.5 L50.4,497.2 L51.8,494.6 L53.3,489.1 L54.8,483.8 L56.3,478 L57.7,471.2 L59.2,464.6 L60.7,458.1 L62.2,452.1 L63.6,446.9 L65.1,442.1 L66.6,437.5 L68.1,433.1 L69.5,429.1 L71,425.6 L72.5,422.4 L74,419.6 L75.4,417.1 L76.9,415 L78.4,413 L79.9,411.3 L81.3,409.7 L82.8,408.2 L84.3,406.8 L85.8,405.6 L87.2,404.9 L88.7,404.3 L90.2,403.7 L91.7,403.2 L93.1,402.9 L94.6,402.7 L96.1,402.6 L97.6,402.6 L99,402.7 L100.5,402.7 L102,402.8 L103.5,402.9 L104.9,403 L106.4,403.1 L107.9,403.2 L109.4,403.4 L110.8,403.5 L112.3,403.8 L113.8,404.1 L115.3,404.4 L116.7,404.7 L118.2,405.1 L119.7,405.5 L121.2,405.8 L122.6,406.1 L124.1,406.3 L125.6,406.5 L127.1,406.7 L128.5,406.8 L130,407 L131.5,407.1 L133,407.2 L134.4,407.4 L135.9,407.5 L137.4,407.7 L138.9,407.9 L140.3,408 L141.8,408.2 L143.3,408.4 L144.8,408.7 L146.2,408.9 L147.7,409.1 L149.2,409.4 L150.7,409.6 L152.1,409.9 L153.6,410.1 L155.1,410.3 L156.6,410.6 L158,410.8 L159.5,411 L161,411.2 L162.5,411.4 L163.9,411.6 L165.4,411.8 L166.9,412 L168.4,412.1 L169.8,412.3 L171.3,412.5 L172.8,412.7 L174.3,412.8 L175.7,413 L177.2,413.2 L178.7,413.4 L180.2,413.6 L181.6,413.8 L183.1,414 L184.6,414.2 L186.1,414.5 L187.5,414.7 L189,415 L190.5,415.2 L192,415.5 L193.4,415.8 L194.9,416 L196.4,416.3 L197.9,416.6 L199.3,416.8 L200.8,417 L202.3,417.3 L203.8,417.5 L205.2,417.7 L206.7,417.9 L208.2,418.1 L209.7,418.3 L211.1,418.5 L212.6,418.7 L214.1,418.9 L215.6,419.1 L217,419.3 L218.5,419.5 L220,419.7 L221.5,419.9 L222.9,420 L224.4,420.2" fill="none" stroke="#f00c0c" stroke-width="1.2" stroke-linejoin="round" stroke-linecap="round"/>
<path d="M47,496.6h3.7v3.7h-3.7zM50.5,491.1h3.7v3.7h-3.7zM54,477.7h3.7v3.7h-3.7zM57.5,462h3.7v3.7h-3.7zM61,447.6h3.7v3.7h-3.7zM64.6,436.3h3.7v3.7h-3.7zM68.1,426.4h3.7v3.7h-3.7zM71.6,418.8h3.7v3.7h-3.7zM75.1,413.2h3.7v3.7h-3.7zM78.6,408.9h3.7v3.7h-3.7zM82.1,405.3h3.7v3.7h-3.7zM85.6,403h3.7v3.7h-3.7zM89.1,401.6h3.7v3.7h-3.7zM92.6,400.8h3.7v3.7h-3.7zM96.1,400.8h3.7v3.7h-3.7zM99.6,400.9h3.7v3.7h-3.7zM103.1,401.1h3.7v3.7h-3.7zM106.6,401.4h3.7v3.7h-3.7zM110.1,401.8h3.7v3.7h-3.7zM113.6,402.6h3.7v3.7h-3.7zM117.1,403.4h3.7v3.7h-3.7zM120.6,404.2h3.7v3.7h-3.7zM124.1,404.7h3.7v3.7h-3.7zM127.6,405.1h3.7v3.7h-3.7zM131.1,405.4h3.7v3.7h-3.7zM134.6,405.7h3.7v3.7h-3.7zM138.1,406.1h3.7v3.7h-3.7zM141.6,406.6h3.7v3.7h-3.7zM145.1,407.2h3.7v3.7h-3.7zM148.6,407.7h3.7v3.7h-3.7zM152.1,408.3h3.7v3.7h-3.7zM155.6,408.9h3.7v3.7h-3.7zM159.1,409.4h3.7v3.7h-3.7zM162.6,409.8h3.7v3.7h-3.7zM166.1,410.2h3.7v3.7h-3.7zM169.6,410.7h3.7v3.7h-3.7zM173.1,411.1h3.7v3.7h-3.7zM176.6,411.5h3.7v3.7h-3.7zM180.1,412h3.7v3.7h-3.7zM183.6,412.5h3.7v3.7h-3.7zM187.1,413.1h3.7v3.7h-3.7zM190.6,413.7h3.7v3.7h-3.7zM194.1,414.4h3.7v3.7h-3.7zM197.6,415h3.7v3.7h-3.7zM201.1,415.5h3.7v3.7h-3.7zM204.6,416h3.7v3.7h-3.7zM208.1,416.5h3.7v3.7h-3.7zM211.6,417h3.7v3.7h-3.7zM215.1,417.4h3.7v3.7h-3.7zM218.6,417.9h3.7v3.7h-3.7zM222.1,418.3h3.7v3.7h-3.7z" fill="#f00c0c"/>
<path d="M48.9,498.5 L50.4,497.2 L51.8,494.6 L53.3,489.1 L54.8,483.8 L56.3,478 L57.7,471.2 L59.2,464.6 L60.7,458.1 L62.2,452.1 L63.6,446.9 L65.1,442.1 L66.6,437.5 L68.1,433.1 L69.5,429.1 L71,425.6 L72.5,422.4 L74,419.6 L75.4,417.1 L76.9,415 L78.4,413 L79.9,411.3 L81.3,409.7 L82.8,408.2" fill="none" stroke="#1a1010" stroke-width="0.81" opacity="0.9"/>
</g>
<g clip-path="url(#ce)">
<path d="M48.9,498.5 L50.4,497.6 L51.8,495.4 L53.3,491.7 L54.8,486.1 L56.3,480.7 L57.7,476.7 L59.2,473.3 L60.7,470.2 L62.2,467.3 L63.6,464.3 L65.1,461.4 L66.6,458.8 L68.1,456.5 L69.5,454.6 L71,453 L72.5,451.4 L74,450 L75.4,448.6 L76.9,447.1 L78.4,445.8 L79.9,444.6 L81.3,443.5 L82.8,442.6 L84.3,441.8 L85.8,441.1 L87.2,440.4 L88.7,439.8 L90.2,439.3 L91.7,438.7 L93.1,438.3 L94.6,437.9 L96.1,437.5 L97.6,437.3 L99,437 L100.5,436.8 L102,436.5 L103.5,436.3 L104.9,436.2 L106.4,436 L107.9,435.8 L109.4,435.6 L110.8,435.5 L112.3,435.3 L113.8,435.2 L115.3,435 L116.7,434.9 L118.2,434.8 L119.7,434.6 L121.2,434.5 L122.6,434.4 L124.1,434.2 L125.6,434.1 L127.1,434 L128.5,433.8 L130,433.6 L131.5,433.5 L133,433.4 L134.4,433.2 L135.9,433.1 L137.4,433.1 L138.9,433 L140.3,433 L141.8,433 L143.3,433.1 L144.8,433.2 L146.2,433.3 L147.7,433.3 L149.2,433.4 L150.7,433.4 L152.1,433.3 L153.6,433.2 L155.1,433.1 L156.6,432.9 L158,432.6 L159.5,432.3 L161,431.8 L162.5,431.1 L163.9,430.4 L165.4,429.9 L166.9,429.5 L168.4,429.1 L169.8,428.7 L171.3,428.4 L172.8,428.1 L174.3,427.8 L175.7,427.5 L177.2,427.2 L178.7,426.9 L180.2,426.7 L181.6,426.4 L183.1,426.2 L184.6,425.9 L186.1,425.7 L187.5,425.4 L189,425.2 L190.5,425 L192,424.7 L193.4,424.5 L194.9,424.3 L196.4,424.1 L197.9,423.9 L199.3,423.7 L200.8,423.4 L202.3,423.2 L203.8,423 L205.2,422.8 L206.7,422.6 L208.2,422.4 L209.7,422.2 L211.1,422 L212.6,421.8 L214.1,421.6 L215.6,421.4 L217,421.2 L218.5,421 L220,420.8 L221.5,420.6 L222.9,420.4 L224.4,420.2" fill="none" stroke="#1a1010" stroke-width="0.9"/>
<path d="M48.9,498.5 L50.4,497.6 L51.8,495.4 L53.3,491.7 L54.8,486.1 L56.3,480.7 L57.7,476.7 L59.2,473.3 L60.7,470.2 L62.2,467.3 L63.6,464.3 L65.1,461.4 L66.6,458.8 L68.1,456.5 L69.5,454.6 L71,453 L72.5,451.4 L74,450 L75.4,448.6 L76.9,447.1 L78.4,445.8 L79.9,444.6 L81.3,443.5 L82.8,442.6 L84.3,441.8 L85.8,441.1 L87.2,440.4 L88.7,439.8 L90.2,439.3 L91.7,438.7 L93.1,438.3 L94.6,437.9 L96.1,437.5 L97.6,437.3 L99,437 L100.5,436.8 L102,436.5 L103.5,436.3 L104.9,436.2 L106.4,436 L107.9,435.8 L109.4,435.6 L110.8,435.5 L112.3,435.3 L113.8,435.2 L115.3,435 L116.7,434.9 L118.2,434.8 L119.7,434.6 L121.2,434.5 L122.6,434.4 L124.1,434.2 L125.6,434.1 L127.1,434 L128.5,433.8 L130,433.6 L131.5,433.5 L133,433.4 L134.4,433.2 L135.9,433.1 L137.4,433.1 L138.9,433 L140.3,433 L141.8,433 L143.3,433.1 L144.8,433.2 L146.2,433.3 L147.7,433.3 L149.2,433.4 L150.7,433.4 L152.1,433.3 L153.6,433.2 L155.1,433.1 L156.6,432.9 L158,432.6 L159.5,432.3 L161,431.8 L162.5,431.1 L163.9,430.4 L165.4,429.9 L166.9,429.5 L168.4,429.1 L169.8,428.7 L171.3,428.4 L172.8,428.1 L174.3,427.8 L175.7,427.5 L177.2,427.2 L178.7,426.9 L180.2,426.7 L181.6,426.4 L183.1,426.2 L184.6,425.9 L186.1,425.7 L187.5,425.4 L189,425.2 L190.5,425 L192,424.7 L193.4,424.5 L194.9,424.3 L196.4,424.1 L197.9,423.9 L199.3,423.7 L200.8,423.4 L202.3,423.2 L203.8,423 L205.2,422.8 L206.7,422.6 L208.2,422.4 L209.7,422.2 L211.1,422 L212.6,421.8 L214.1,421.6 L215.6,421.4 L217,421.2 L218.5,421 L220,420.8 L221.5,420.6 L222.9,420.4 L224.4,420.2" fill="none" stroke="#f00c0c" stroke-width="1.2" stroke-linejoin="round" stroke-linecap="round"/>
<path d="M47,496.6h3.7v3.7h-3.7zM50.5,492.4h3.7v3.7h-3.7zM54,480h3.7v3.7h-3.7zM57.5,471.1h3.7v3.7h-3.7zM61,463.9h3.7v3.7h-3.7zM64.6,457.3h3.7v3.7h-3.7zM68.1,452.4h3.7v3.7h-3.7zM71.6,448.7h3.7v3.7h-3.7zM75.1,445.3h3.7v3.7h-3.7zM78.6,442.4h3.7v3.7h-3.7zM82.1,440.1h3.7v3.7h-3.7zM85.6,438.5h3.7v3.7h-3.7zM89.1,437.1h3.7v3.7h-3.7zM92.6,436.1h3.7v3.7h-3.7zM96.1,435.3h3.7v3.7h-3.7zM99.6,434.8h3.7v3.7h-3.7zM103.1,434.3h3.7v3.7h-3.7zM106.6,433.9h3.7v3.7h-3.7zM110.1,433.5h3.7v3.7h-3.7zM113.6,433.2h3.7v3.7h-3.7zM117.1,432.8h3.7v3.7h-3.7zM120.6,432.5h3.7v3.7h-3.7zM124.1,432.2h3.7v3.7h-3.7zM127.6,431.9h3.7v3.7h-3.7zM131.1,431.5h3.7v3.7h-3.7zM134.6,431.3h3.7v3.7h-3.7zM138.1,431.2h3.7v3.7h-3.7zM141.6,431.3h3.7v3.7h-3.7zM145.1,431.4h3.7v3.7h-3.7zM148.6,431.5h3.7v3.7h-3.7zM152.1,431.4h3.7v3.7h-3.7zM155.6,430.9h3.7v3.7h-3.7zM159.1,429.9h3.7v3.7h-3.7zM162.6,428.3h3.7v3.7h-3.7zM166.1,427.4h3.7v3.7h-3.7zM169.6,426.5h3.7v3.7h-3.7zM173.1,425.8h3.7v3.7h-3.7zM176.6,425.1h3.7v3.7h-3.7zM180.1,424.5h3.7v3.7h-3.7zM183.6,423.9h3.7v3.7h-3.7zM187.1,423.3h3.7v3.7h-3.7zM190.6,422.8h3.7v3.7h-3.7zM194.1,422.3h3.7v3.7h-3.7zM197.6,421.8h3.7v3.7h-3.7zM201.1,421.3h3.7v3.7h-3.7zM204.6,420.8h3.7v3.7h-3.7zM208.1,420.3h3.7v3.7h-3.7zM211.6,419.8h3.7v3.7h-3.7zM215.1,419.3h3.7v3.7h-3.7zM218.6,418.9h3.7v3.7h-3.7zM222.1,418.4h3.7v3.7h-3.7z" fill="#f00c0c"/>
<path d="M50.4,497.6 L51.8,495.4 L53.3,491.7 L54.8,486.1 L56.3,480.7 L57.7,476.7 L59.2,473.3 L60.7,470.2 L62.2,467.3 L63.6,464.3 L65.1,461.4 L66.6,458.8 L68.1,456.5 L69.5,454.6 L71,453 L72.5,451.4 L74,450 L75.4,448.6 L76.9,447.1" fill="none" stroke="#1a1010" stroke-width="0.81" opacity="0.9"/>
</g>
<g clip-path="url(#ce)">
<path d="M48.9,498.5 L50.4,496.7 L51.8,493.2 L53.3,489.4 L54.8,485.8 L56.3,482.8 L57.7,480 L59.2,477.6 L60.7,475.6 L62.2,473.7 L63.6,472 L65.1,470.7 L66.6,469.6 L68.1,468.6 L69.5,467.8 L71,467.2 L72.5,466.6 L74,466.1 L75.4,465.8 L76.9,465.6 L78.4,465.5 L79.9,465.4 L81.3,465.4 L82.8,465.5 L84.3,465.6 L85.8,465.7 L87.2,465.8 L88.7,465.9 L90.2,466 L91.7,466.1 L93.1,466.3 L94.6,466.4 L96.1,466.6 L97.6,466.8 L99,467 L100.5,467.1 L102,467.3 L103.5,467.5 L104.9,467.7 L106.4,467.9 L107.9,468 L109.4,468.2 L110.8,468.3 L112.3,468.5 L113.8,468.6 L115.3,468.7 L116.7,468.7 L118.2,468.8 L119.7,468.9 L121.2,468.9 L122.6,469 L124.1,469 L125.6,469 L127.1,469.1 L128.5,469.1 L130,469.2 L131.5,469.2 L133,469.3 L134.4,469.3 L135.9,469.4 L137.4,469.5 L138.9,469.5 L140.3,469.6 L141.8,469.7 L143.3,469.9 L144.8,470 L146.2,470.2 L147.7,470.4 L149.2,470.7 L150.7,470.9 L152.1,471.1 L153.6,471.4 L155.1,471.6 L156.6,471.8 L158,472 L159.5,472.2 L161,472.4 L162.5,472.6 L163.9,472.8 L165.4,472.9 L166.9,473.1 L168.4,473.3 L169.8,473.4 L171.3,473.6 L172.8,473.8 L174.3,473.9 L175.7,474.1 L177.2,474.2 L178.7,474.3 L180.2,474.5 L181.6,474.6 L183.1,474.7 L184.6,474.8 L186.1,474.9 L187.5,475.1 L189,475.2 L190.5,475.3 L192,475.4 L193.4,475.5 L194.9,475.6 L196.4,475.7 L197.9,475.8 L199.3,475.9 L200.8,476 L202.3,476.1 L203.8,476.2 L205.2,476.3 L206.7,476.4 L208.2,476.5 L209.7,476.6 L211.1,476.6 L212.6,476.7 L214.1,476.8 L215.6,476.9 L217,476.9 L218.5,477 L220,477 L221.5,477.1 L222.9,477.2 L224.4,477.2" fill="none" stroke="#1a1010" stroke-width="0.9"/>
<path d="M48.9,498.5 L50.4,496.7 L51.8,493.2 L53.3,489.4 L54.8,485.8 L56.3,482.8 L57.7,480 L59.2,477.6 L60.7,475.6 L62.2,473.7 L63.6,472 L65.1,470.7 L66.6,469.6 L68.1,468.6 L69.5,467.8 L71,467.2 L72.5,466.6 L74,466.1 L75.4,465.8 L76.9,465.6 L78.4,465.5 L79.9,465.4 L81.3,465.4 L82.8,465.5 L84.3,465.6 L85.8,465.7 L87.2,465.8 L88.7,465.9 L90.2,466 L91.7,466.1 L93.1,466.3 L94.6,466.4 L96.1,466.6 L97.6,466.8 L99,467 L100.5,467.1 L102,467.3 L103.5,467.5 L104.9,467.7 L106.4,467.9 L107.9,468 L109.4,468.2 L110.8,468.3 L112.3,468.5 L113.8,468.6 L115.3,468.7 L116.7,468.7 L118.2,468.8 L119.7,468.9 L121.2,468.9 L122.6,469 L124.1,469 L125.6,469 L127.1,469.1 L128.5,469.1 L130,469.2 L131.5,469.2 L133,469.3 L134.4,469.3 L135.9,469.4 L137.4,469.5 L138.9,469.5 L140.3,469.6 L141.8,469.7 L143.3,469.9 L144.8,470 L146.2,470.2 L147.7,470.4 L149.2,470.7 L150.7,470.9 L152.1,471.1 L153.6,471.4 L155.1,471.6 L156.6,471.8 L158,472 L159.5,472.2 L161,472.4 L162.5,472.6 L163.9,472.8 L165.4,472.9 L166.9,473.1 L168.4,473.3 L169.8,473.4 L171.3,473.6 L172.8,473.8 L174.3,473.9 L175.7,474.1 L177.2,474.2 L178.7,474.3 L180.2,474.5 L181.6,474.6 L183.1,474.7 L184.6,474.8 L186.1,474.9 L187.5,475.1 L189,475.2 L190.5,475.3 L192,475.4 L193.4,475.5 L194.9,475.6 L196.4,475.7 L197.9,475.8 L199.3,475.9 L200.8,476 L202.3,476.1 L203.8,476.2 L205.2,476.3 L206.7,476.4 L208.2,476.5 L209.7,476.6 L211.1,476.6 L212.6,476.7 L214.1,476.8 L215.6,476.9 L217,476.9 L218.5,477 L220,477 L221.5,477.1 L222.9,477.2 L224.4,477.2" fill="none" stroke="#f00c0c" stroke-width="1.2" stroke-linejoin="round" stroke-linecap="round"/>
<path d="M47,496.6h3.7v3.7h-3.7zM50.5,489.9h3.7v3.7h-3.7zM54,481.6h3.7v3.7h-3.7zM57.5,475.5h3.7v3.7h-3.7zM61,471h3.7v3.7h-3.7zM64.6,467.9h3.7v3.7h-3.7zM68.1,465.8h3.7v3.7h-3.7zM71.6,464.4h3.7v3.7h-3.7zM75.1,463.8h3.7v3.7h-3.7zM78.6,463.6h3.7v3.7h-3.7zM82.1,463.7h3.7v3.7h-3.7zM85.6,463.9h3.7v3.7h-3.7zM89.1,464.2h3.7v3.7h-3.7zM92.6,464.6h3.7v3.7h-3.7zM96.1,465h3.7v3.7h-3.7zM99.6,465.4h3.7v3.7h-3.7zM103.1,465.8h3.7v3.7h-3.7zM106.6,466.3h3.7v3.7h-3.7zM110.1,466.6h3.7v3.7h-3.7zM113.6,466.8h3.7v3.7h-3.7zM117.1,467h3.7v3.7h-3.7zM120.6,467.1h3.7v3.7h-3.7zM124.1,467.2h3.7v3.7h-3.7zM127.6,467.3h3.7v3.7h-3.7zM131.1,467.4h3.7v3.7h-3.7zM134.6,467.6h3.7v3.7h-3.7zM138.1,467.7h3.7v3.7h-3.7zM141.6,468h3.7v3.7h-3.7zM145.1,468.5h3.7v3.7h-3.7zM148.6,469h3.7v3.7h-3.7zM152.1,469.6h3.7v3.7h-3.7zM155.6,470.1h3.7v3.7h-3.7zM159.1,470.6h3.7v3.7h-3.7zM162.6,471h3.7v3.7h-3.7zM166.1,471.4h3.7v3.7h-3.7zM169.6,471.8h3.7v3.7h-3.7zM173.1,472.1h3.7v3.7h-3.7zM176.6,472.5h3.7v3.7h-3.7zM180.1,472.8h3.7v3.7h-3.7zM183.6,473h3.7v3.7h-3.7zM187.1,473.3h3.7v3.7h-3.7zM190.6,473.6h3.7v3.7h-3.7zM194.1,473.8h3.7v3.7h-3.7zM197.6,474.1h3.7v3.7h-3.7zM201.1,474.3h3.7v3.7h-3.7zM204.6,474.5h3.7v3.7h-3.7zM208.1,474.7h3.7v3.7h-3.7zM211.6,474.9h3.7v3.7h-3.7zM215.1,475.1h3.7v3.7h-3.7zM218.6,475.2h3.7v3.7h-3.7zM222.1,475.3h3.7v3.7h-3.7z" fill="#f00c0c"/>
</g>
<g clip-path="url(#ce)">
<path d="M48.9,498.5 L50.4,497.2 L51.8,495.4 L53.3,493.2 L54.8,491.6 L56.3,490.3 L57.7,489.3 L59.2,488.5 L60.7,487.9 L62.2,487.5 L63.6,487.2 L65.1,487 L66.6,486.8 L68.1,486.7 L69.5,486.5 L71,486.4 L72.5,486.3 L74,486.2 L75.4,486.1 L76.9,486 L78.4,485.9 L79.9,485.8 L81.3,485.7 L82.8,485.6 L84.3,485.6 L85.8,485.5 L87.2,485.4 L88.7,485.3 L90.2,485.3 L91.7,485.2 L93.1,485.1 L94.6,485 L96.1,484.9 L97.6,484.8 L99,484.8 L100.5,484.7 L102,484.6 L103.5,484.5 L104.9,484.4 L106.4,484.4 L107.9,484.3 L109.4,484.3 L110.8,484.2 L112.3,484.2 L113.8,484.2 L115.3,484.2 L116.7,484.2 L118.2,484.2 L119.7,484.2 L121.2,484.2 L122.6,484.2 L124.1,484.3 L125.6,484.3 L127.1,484.3 L128.5,484.3 L130,484.3 L131.5,484.3 L133,484.4 L134.4,484.4 L135.9,484.4 L137.4,484.4 L138.9,484.4 L140.3,484.4 L141.8,484.4 L143.3,484.3 L144.8,484.1 L146.2,484 L147.7,483.7 L149.2,483.5 L150.7,483.3 L152.1,483 L153.6,482.7 L155.1,482.5 L156.6,482.2 L158,482 L159.5,481.8 L161,481.6 L162.5,481.4 L163.9,481.2 L165.4,481.1 L166.9,480.9 L168.4,480.7 L169.8,480.5 L171.3,480.4 L172.8,480.2 L174.3,480.1 L175.7,479.9 L177.2,479.8 L178.7,479.6 L180.2,479.5 L181.6,479.4 L183.1,479.3 L184.6,479.2 L186.1,479.1 L187.5,479 L189,478.9 L190.5,478.8 L192,478.7 L193.4,478.6 L194.9,478.5 L196.4,478.4 L197.9,478.3 L199.3,478.2 L200.8,478.1 L202.3,478 L203.8,478 L205.2,477.9 L206.7,477.8 L208.2,477.7 L209.7,477.7 L211.1,477.6 L212.6,477.5 L214.1,477.5 L215.6,477.4 L217,477.4 L218.5,477.3 L220,477.3 L221.5,477.3 L222.9,477.2 L224.4,477.2" fill="none" stroke="#1a1010" stroke-width="0.9"/>
<path d="M48.9,498.5 L50.4,497.2 L51.8,495.4 L53.3,493.2 L54.8,491.6 L56.3,490.3 L57.7,489.3 L59.2,488.5 L60.7,487.9 L62.2,487.5 L63.6,487.2 L65.1,487 L66.6,486.8 L68.1,486.7 L69.5,486.5 L71,486.4 L72.5,486.3 L74,486.2 L75.4,486.1 L76.9,486 L78.4,485.9 L79.9,485.8 L81.3,485.7 L82.8,485.6 L84.3,485.6 L85.8,485.5 L87.2,485.4 L88.7,485.3 L90.2,485.3 L91.7,485.2 L93.1,485.1 L94.6,485 L96.1,484.9 L97.6,484.8 L99,484.8 L100.5,484.7 L102,484.6 L103.5,484.5 L104.9,484.4 L106.4,484.4 L107.9,484.3 L109.4,484.3 L110.8,484.2 L112.3,484.2 L113.8,484.2 L115.3,484.2 L116.7,484.2 L118.2,484.2 L119.7,484.2 L121.2,484.2 L122.6,484.2 L124.1,484.3 L125.6,484.3 L127.1,484.3 L128.5,484.3 L130,484.3 L131.5,484.3 L133,484.4 L134.4,484.4 L135.9,484.4 L137.4,484.4 L138.9,484.4 L140.3,484.4 L141.8,484.4 L143.3,484.3 L144.8,484.1 L146.2,484 L147.7,483.7 L149.2,483.5 L150.7,483.3 L152.1,483 L153.6,482.7 L155.1,482.5 L156.6,482.2 L158,482 L159.5,481.8 L161,481.6 L162.5,481.4 L163.9,481.2 L165.4,481.1 L166.9,480.9 L168.4,480.7 L169.8,480.5 L171.3,480.4 L172.8,480.2 L174.3,480.1 L175.7,479.9 L177.2,479.8 L178.7,479.6 L180.2,479.5 L181.6,479.4 L183.1,479.3 L184.6,479.2 L186.1,479.1 L187.5,479 L189,478.9 L190.5,478.8 L192,478.7 L193.4,478.6 L194.9,478.5 L196.4,478.4 L197.9,478.3 L199.3,478.2 L200.8,478.1 L202.3,478 L203.8,478 L205.2,477.9 L206.7,477.8 L208.2,477.7 L209.7,477.7 L211.1,477.6 L212.6,477.5 L214.1,477.5 L215.6,477.4 L217,477.4 L218.5,477.3 L220,477.3 L221.5,477.3 L222.9,477.2 L224.4,477.2" fill="none" stroke="#f00c0c" stroke-width="1.2" stroke-linejoin="round" stroke-linecap="round"/>
<path d="M47,496.6h3.7v3.7h-3.7zM50.5,492.7h3.7v3.7h-3.7zM54,488.8h3.7v3.7h-3.7zM57.5,486.6h3.7v3.7h-3.7zM61,485.5h3.7v3.7h-3.7zM64.6,485h3.7v3.7h-3.7zM68.1,484.7h3.7v3.7h-3.7zM71.6,484.4h3.7v3.7h-3.7zM75.1,484.1h3.7v3.7h-3.7zM78.6,483.9h3.7v3.7h-3.7zM82.1,483.7h3.7v3.7h-3.7zM85.6,483.5h3.7v3.7h-3.7zM89.1,483.4h3.7v3.7h-3.7zM92.6,483.2h3.7v3.7h-3.7zM96.1,483h3.7v3.7h-3.7zM99.6,482.8h3.7v3.7h-3.7zM103.1,482.6h3.7v3.7h-3.7zM106.6,482.5h3.7v3.7h-3.7zM110.1,482.4h3.7v3.7h-3.7zM113.6,482.4h3.7v3.7h-3.7zM117.1,482.4h3.7v3.7h-3.7zM120.6,482.4h3.7v3.7h-3.7zM124.1,482.4h3.7v3.7h-3.7zM127.6,482.5h3.7v3.7h-3.7zM131.1,482.5h3.7v3.7h-3.7zM134.6,482.5h3.7v3.7h-3.7zM138.1,482.5h3.7v3.7h-3.7zM141.6,482.4h3.7v3.7h-3.7zM145.1,482h3.7v3.7h-3.7zM148.6,481.5h3.7v3.7h-3.7zM152.1,480.8h3.7v3.7h-3.7zM155.6,480.2h3.7v3.7h-3.7zM159.1,479.7h3.7v3.7h-3.7zM162.6,479.3h3.7v3.7h-3.7zM166.1,478.9h3.7v3.7h-3.7zM169.6,478.5h3.7v3.7h-3.7zM173.1,478.1h3.7v3.7h-3.7zM176.6,477.8h3.7v3.7h-3.7zM180.1,477.5h3.7v3.7h-3.7zM183.6,477.3h3.7v3.7h-3.7zM187.1,477h3.7v3.7h-3.7zM190.6,476.8h3.7v3.7h-3.7zM194.1,476.6h3.7v3.7h-3.7zM197.6,476.4h3.7v3.7h-3.7zM201.1,476.2h3.7v3.7h-3.7zM204.6,476h3.7v3.7h-3.7zM208.1,475.8h3.7v3.7h-3.7zM211.6,475.7h3.7v3.7h-3.7zM215.1,475.5h3.7v3.7h-3.7zM218.6,475.4h3.7v3.7h-3.7zM222.1,475.4h3.7v3.7h-3.7z" fill="#f00c0c"/>
</g>
<g clip-path="url(#ce)">
<path d="M48.9,498.5 L50.4,498 L51.8,497.6 L53.3,497.5 L54.8,497.4 L56.3,497.3 L57.7,497.2 L59.2,497.2 L60.7,497.2 L62.2,497.2 L63.6,497.2 L65.1,497.2 L66.6,497.2 L68.1,497.2 L69.5,497.2 L71,497.2 L72.5,497.2 L74,497.2 L75.4,497.2 L76.9,497.2 L78.4,497.2 L79.9,497.2 L81.3,497.2 L82.8,497.2 L84.3,497.2 L85.8,497.2 L87.2,497.2 L88.7,497.2 L90.2,497.2 L91.7,497.2 L93.1,497.2 L94.6,497.2 L96.1,497.2 L97.6,497.2 L99,497.2 L100.5,497.2 L102,497.2 L103.5,497.2 L104.9,497.2 L106.4,497.2 L107.9,497.2 L109.4,497.2 L110.8,497.2 L112.3,497.2 L113.8,497.2 L115.3,497.2 L116.7,497.2 L118.2,497.2 L119.7,497.2 L121.2,497.2 L122.6,497.2 L124.1,497.2 L125.6,497.2 L127.1,497.2 L128.5,497.2 L130,497.2 L131.5,497.2 L133,497.2 L134.4,497.2 L135.9,497.2 L137.4,497.2 L138.9,497.2 L140.3,497.2 L141.8,497.2 L143.3,497.2 L144.8,497.2 L146.2,497.2 L147.7,497.2 L149.2,497.2 L150.7,497.2 L152.1,497.2 L153.6,497.2 L155.1,497.2 L156.6,497.2 L158,497.2 L159.5,497.2 L161,497.2 L162.5,497.2 L163.9,497.2 L165.4,497.2 L166.9,497.2 L168.4,497.2 L169.8,497.2 L171.3,497.2 L172.8,497.2 L174.3,497.2 L175.7,497.2 L177.2,497.2 L178.7,497.2 L180.2,497.2 L181.6,497.2 L183.1,497.2 L184.6,497.2 L186.1,497.2 L187.5,497.2 L189,497.2 L190.5,497.2 L192,497.3 L193.4,497.3 L194.9,497.3 L196.4,497.3 L197.9,497.3 L199.3,497.3 L200.8,497.3 L202.3,497.3 L203.8,497.3 L205.2,497.3 L206.7,497.3 L208.2,497.3 L209.7,497.3 L211.1,497.3 L212.6,497.3 L214.1,497.3 L215.6,497.3 L217,497.3 L218.5,497.3 L220,497.3 L221.5,497.3 L222.9,497.3 L224.4,497.3" fill="none" stroke="#1a1010" stroke-width="0.9"/>
<path d="M48.9,498.5 L50.4,498 L51.8,497.6 L53.3,497.5 L54.8,497.4 L56.3,497.3 L57.7,497.2 L59.2,497.2 L60.7,497.2 L62.2,497.2 L63.6,497.2 L65.1,497.2 L66.6,497.2 L68.1,497.2 L69.5,497.2 L71,497.2 L72.5,497.2 L74,497.2 L75.4,497.2 L76.9,497.2 L78.4,497.2 L79.9,497.2 L81.3,497.2 L82.8,497.2 L84.3,497.2 L85.8,497.2 L87.2,497.2 L88.7,497.2 L90.2,497.2 L91.7,497.2 L93.1,497.2 L94.6,497.2 L96.1,497.2 L97.6,497.2 L99,497.2 L100.5,497.2 L102,497.2 L103.5,497.2 L104.9,497.2 L106.4,497.2 L107.9,497.2 L109.4,497.2 L110.8,497.2 L112.3,497.2 L113.8,497.2 L115.3,497.2 L116.7,497.2 L118.2,497.2 L119.7,497.2 L121.2,497.2 L122.6,497.2 L124.1,497.2 L125.6,497.2 L127.1,497.2 L128.5,497.2 L130,497.2 L131.5,497.2 L133,497.2 L134.4,497.2 L135.9,497.2 L137.4,497.2 L138.9,497.2 L140.3,497.2 L141.8,497.2 L143.3,497.2 L144.8,497.2 L146.2,497.2 L147.7,497.2 L149.2,497.2 L150.7,497.2 L152.1,497.2 L153.6,497.2 L155.1,497.2 L156.6,497.2 L158,497.2 L159.5,497.2 L161,497.2 L162.5,497.2 L163.9,497.2 L165.4,497.2 L166.9,497.2 L168.4,497.2 L169.8,497.2 L171.3,497.2 L172.8,497.2 L174.3,497.2 L175.7,497.2 L177.2,497.2 L178.7,497.2 L180.2,497.2 L181.6,497.2 L183.1,497.2 L184.6,497.2 L186.1,497.2 L187.5,497.2 L189,497.2 L190.5,497.2 L192,497.3 L193.4,497.3 L194.9,497.3 L196.4,497.3 L197.9,497.3 L199.3,497.3 L200.8,497.3 L202.3,497.3 L203.8,497.3 L205.2,497.3 L206.7,497.3 L208.2,497.3 L209.7,497.3 L211.1,497.3 L212.6,497.3 L214.1,497.3 L215.6,497.3 L217,497.3 L218.5,497.3 L220,497.3 L221.5,497.3 L222.9,497.3 L224.4,497.3" fill="none" stroke="#f00c0c" stroke-width="1.2" stroke-linejoin="round" stroke-linecap="round"/>
<path d="M47,496.6h3.7v3.7h-3.7zM50.5,495.7h3.7v3.7h-3.7zM54,495.5h3.7v3.7h-3.7zM57.5,495.4h3.7v3.7h-3.7zM61,495.4h3.7v3.7h-3.7zM64.6,495.4h3.7v3.7h-3.7zM68.1,495.4h3.7v3.7h-3.7zM71.6,495.4h3.7v3.7h-3.7zM75.1,495.4h3.7v3.7h-3.7zM78.6,495.4h3.7v3.7h-3.7zM82.1,495.4h3.7v3.7h-3.7zM85.6,495.4h3.7v3.7h-3.7zM89.1,495.4h3.7v3.7h-3.7zM92.6,495.4h3.7v3.7h-3.7zM96.1,495.4h3.7v3.7h-3.7zM99.6,495.4h3.7v3.7h-3.7zM103.1,495.4h3.7v3.7h-3.7zM106.6,495.4h3.7v3.7h-3.7zM110.1,495.4h3.7v3.7h-3.7zM113.6,495.4h3.7v3.7h-3.7zM117.1,495.4h3.7v3.7h-3.7zM120.6,495.4h3.7v3.7h-3.7zM124.1,495.4h3.7v3.7h-3.7zM127.6,495.4h3.7v3.7h-3.7zM131.1,495.4h3.7v3.7h-3.7zM134.6,495.4h3.7v3.7h-3.7zM138.1,495.4h3.7v3.7h-3.7zM141.6,495.4h3.7v3.7h-3.7zM145.1,495.4h3.7v3.7h-3.7zM148.6,495.4h3.7v3.7h-3.7zM152.1,495.4h3.7v3.7h-3.7zM155.6,495.4h3.7v3.7h-3.7zM159.1,495.4h3.7v3.7h-3.7zM162.6,495.4h3.7v3.7h-3.7zM166.1,495.4h3.7v3.7h-3.7zM169.6,495.4h3.7v3.7h-3.7zM173.1,495.4h3.7v3.7h-3.7zM176.6,495.4h3.7v3.7h-3.7zM180.1,495.4h3.7v3.7h-3.7zM183.6,495.4h3.7v3.7h-3.7zM187.1,495.4h3.7v3.7h-3.7zM190.6,495.4h3.7v3.7h-3.7zM194.1,495.4h3.7v3.7h-3.7zM197.6,495.4h3.7v3.7h-3.7zM201.1,495.4h3.7v3.7h-3.7zM204.6,495.4h3.7v3.7h-3.7zM208.1,495.4h3.7v3.7h-3.7zM211.6,495.4h3.7v3.7h-3.7zM215.1,495.4h3.7v3.7h-3.7zM218.6,495.4h3.7v3.7h-3.7zM222.1,495.4h3.7v3.7h-3.7z" fill="#f00c0c"/>
</g>
<text x="45.2" y="502.5" font-size="11.5" text-anchor="end" font-weight="normal" fill="#111" font-family="'Liberation Sans', Arial, sans-serif" >0.00</text>
<text x="45.2" y="474.1" font-size="11.5" text-anchor="end" font-weight="normal" fill="#111" font-family="'Liberation Sans', Arial, sans-serif" >-0.01</text>
<text x="45.2" y="445.7" font-size="11.5" text-anchor="end" font-weight="normal" fill="#111" font-family="'Liberation Sans', Arial, sans-serif" >-0.02</text>
<text x="45.2" y="417.3" font-size="11.5" text-anchor="end" font-weight="normal" fill="#111" font-family="'Liberation Sans', Arial, sans-serif" >-0.03</text>
<text x="45.2" y="388.9" font-size="11.5" text-anchor="end" font-weight="normal" fill="#111" font-family="'Liberation Sans', Arial, sans-serif" >-0.04</text>
<text x="48.9" y="510.7" font-size="11.5" text-anchor="middle" font-weight="normal" fill="#111" font-family="'Liberation Sans', Arial, sans-serif" >0</text>
<text x="84" y="510.7" font-size="11.5" text-anchor="middle" font-weight="normal" fill="#111" font-family="'Liberation Sans', Arial, sans-serif" >-10</text>
<text x="119.1" y="510.7" font-size="11.5" text-anchor="middle" font-weight="normal" fill="#111" font-family="'Liberation Sans', Arial, sans-serif" >-20</text>
<text x="154.2" y="510.7" font-size="11.5" text-anchor="middle" font-weight="normal" fill="#111" font-family="'Liberation Sans', Arial, sans-serif" >-30</text>
<text x="189.3" y="510.7" font-size="11.5" text-anchor="middle" font-weight="normal" fill="#111" font-family="'Liberation Sans', Arial, sans-serif" >-40</text>
<text x="224.4" y="510.7" font-size="11.5" text-anchor="middle" font-weight="normal" fill="#111" font-family="'Liberation Sans', Arial, sans-serif" >-50</text>
<text x="117.6" y="523.5" font-size="12" fill="#111" font-family="'Liberation Sans', Arial, sans-serif" text-anchor="start" >V<tspan font-size="7.5" dy="4.3">DS</tspan><tspan dy="-4.3" dx="-0.8"> (V)</tspan></text>
<text transform="translate(12.8,459.3) rotate(-90)" font-size="12" fill="#111" font-family="'Liberation Sans', Arial, sans-serif">I<tspan font-size="7.5" dy="3">DS</tspan><tspan dy="-3"> (µA)</tspan></text>
<text x="-1" y="376.2" font-size="16.5" text-anchor="start" font-weight="normal" fill="#111" font-family="'Liberation Sans', Arial, sans-serif" style="stroke-width:0.8px">(e)</text>
<text x="50" y="383" font-size="12.3" text-anchor="start" font-weight="bold" fill="#111" font-family="'Liberation Sans', Arial, sans-serif" style="stroke-width:0.3px" textLength="142.5" lengthAdjust="spacingAndGlyphs">130 nm wide nanowires</text>
<text x="163.5" y="404.4" font-size="11.6" fill="#111" font-family="'Liberation Sans', Arial, sans-serif" text-anchor="start" >V<tspan font-size="7.5" dy="4.3">GS</tspan><tspan dy="-4.3" dx="-0.8"> = -30 V</tspan></text>
<text x="222" y="469" font-size="11.6" text-anchor="end" font-weight="normal" fill="#111" font-family="'Liberation Sans', Arial, sans-serif" >-20 V</text>
<text x="222" y="494" font-size="11.6" text-anchor="end" font-weight="normal" fill="#111" font-family="'Liberation Sans', Arial, sans-serif" >-10 V</text>
<clipPath id="cb"><rect x="290.4" y="13.7" width="180" height="130.9"/></clipPath>
<rect x="290.4" y="13.7" width="180" height="130.9" fill="none" stroke="#222" stroke-width="1.5"/>
<path d="M452.4,144.6 v-3.5 M452.4,13.7 v3.5 M416.4,144.6 v-3.5 M416.4,13.7 v3.5 M380.4,144.6 v-3.5 M380.4,13.7 v3.5 M344.4,144.6 v-3.5 M344.4,13.7 v3.5 M308.4,144.6 v-3.5 M308.4,13.7 v3.5" stroke="#222" stroke-width="1" fill="none"/>
<path d="M470.4,144.6 v-2 M470.4,13.7 v2 M434.4,144.6 v-2 M434.4,13.7 v2 M398.4,144.6 v-2 M398.4,13.7 v2 M362.4,144.6 v-2 M362.4,13.7 v2 M326.4,144.6 v-2 M326.4,13.7 v2 M290.4,144.6 v-2 M290.4,13.7 v2" stroke="#222" stroke-width="1" fill="none"/>
<path d="M290.4,128.7 h3.5 M290.4,104.4 h3.5 M290.4,80.1 h3.5 M290.4,55.8 h3.5 M290.4,31.5 h3.5" stroke="#222" stroke-width="1" fill="none"/>
<path d="M290.4,141.4 h1.6 M290.4,138.4 h1.6 M290.4,136 h1.6 M290.4,134.1 h1.6 M290.4,132.5 h1.6 M290.4,131.1 h1.6 M290.4,129.8 h1.6 M290.4,121.4 h1.6 M290.4,117.1 h1.6 M290.4,114.1 h1.6 M290.4,111.7 h1.6 M290.4,109.8 h1.6 M290.4,108.2 h1.6 M290.4,106.8 h1.6 M290.4,105.5 h1.6 M290.4,97.1 h1.6 M290.4,92.8 h1.6 M290.4,89.8 h1.6 M290.4,87.4 h1.6 M290.4,85.5 h1.6 M290.4,83.9 h1.6 M290.4,82.5 h1.6 M290.4,81.2 h1.6 M290.4,72.8 h1.6 M290.4,68.5 h1.6 M290.4,65.5 h1.6 M290.4,63.1 h1.6 M290.4,61.2 h1.6 M290.4,59.6 h1.6 M290.4,58.2 h1.6 M290.4,56.9 h1.6 M290.4,48.5 h1.6 M290.4,44.2 h1.6 M290.4,41.2 h1.6 M290.4,38.8 h1.6 M290.4,36.9 h1.6 M290.4,35.3 h1.6 M290.4,33.9 h1.6 M290.4,32.6 h1.6 M290.4,24.2 h1.6 M290.4,19.9 h1.6 M290.4,16.9 h1.6 M290.4,14.5 h1.6" stroke="#222" stroke-width="1" fill="none"/>
<path d="M470.4,101.6 h-3.5 M470.4,58.6 h-3.5 M470.4,15.6 h-3.5" stroke="#222" stroke-width="1" fill="none"/>
<path d="M470.4,123.1 h-2 M470.4,80.1 h-2 M470.4,37.1 h-2" stroke="#222" stroke-width="1" fill="none"/>
<g clip-path="url(#cb)">
<path d="M290.4,143.6 L291.6,143.6 L292.8,143.6 L294,143.6 L295.2,143.6 L296.4,143.6 L297.6,143.6 L298.9,143.6 L300.1,143.6 L301.3,143.6 L302.5,143.6 L303.7,143.6 L304.9,143.6 L306.1,143.6 L307.3,143.6 L308.5,143.6 L309.7,143.6 L310.9,143.6 L312.1,143.6 L313.4,143.6 L314.6,143.6 L315.8,143.6 L317,143.6 L318.2,143.6 L319.4,143.6 L320.6,143.6 L321.8,143.6 L323,143.6 L324.2,143.6 L325.4,143.6 L326.6,143.6 L327.8,143.6 L329.1,143.6 L330.3,143.6 L331.5,143.6 L332.7,143.6 L333.9,143.6 L335.1,143.6 L336.3,143.6 L337.5,143.6 L338.7,143.6 L339.9,143.6 L341.1,143.6 L342.3,143.6 L343.6,143.6 L344.8,143.6 L346,143.6 L347.2,143.6 L348.4,143.6 L349.6,143.6 L350.8,143.6 L352,143.6 L353.2,143.6 L354.4,143.6 L355.6,143.6 L356.8,143.6 L358.1,143.6 L359.3,143.5 L360.5,143.5 L361.7,143.5 L362.9,143.5 L364.1,143.5 L365.3,143.5 L366.5,143.5 L367.7,143.5 L368.9,143.5 L370.1,143.5 L371.3,143.5 L372.5,143.5 L373.8,143.5 L375,143.5 L376.2,143.5 L377.4,143.5 L378.6,143.5 L379.8,143.5 L381,143.5 L382.2,143.5 L383.4,143.5 L384.6,143.4 L385.8,143.4 L387,143.4 L388.3,143.3 L389.5,143.3 L390.7,143.2 L391.9,143.2 L393.1,143.1 L394.3,143 L395.5,142.7 L396.7,142.4 L397.9,142 L399.1,141.6 L400.3,141.1 L401.5,140.3 L402.7,139.4 L404,138.5 L405.2,137.6 L406.4,136.7 L407.6,135.7 L408.8,134.7 L410,133.5 L411.2,132.2 L412.4,130.7 L413.6,129.2 L414.8,127.6 L416,125.9 L417.2,124.4 L418.5,122.8 L419.7,121.2 L420.9,119.5 L422.1,117.9 L423.3,116.3 L424.5,114.7 L425.7,113.1 L426.9,111.5 L428.1,109.9 L429.3,108.3 L430.5,106.6 L431.7,104.8 L433,103.1 L434.2,101.3 L435.4,99.5 L436.6,97.7 L437.8,96.1 L439,94.4 L440.2,92.7 L441.4,90.9 L442.6,89 L443.8,86.9 L445,84.7 L446.2,82.5 L447.4,80.3 L448.7,78.2 L449.9,76.2 L451.1,74.2 L452.3,72.2 L453.5,70.3 L454.7,68.3 L455.9,66.4 L457.1,64.5 L458.3,62.5 L459.5,60.6 L460.7,58.7 L461.9,56.8 L463.2,54.9 L464.4,53 L465.6,51.1 L466.8,49.2 L468,47.3 L469.2,45.4 L470.4,43.5" fill="none" stroke="#101040" stroke-width="0.6"/>
<path d="M290.4,143.6h0M292.2,143.6h0M294,143.6h0M295.8,143.6h0M297.6,143.6h0M299.4,143.6h0M301.2,143.6h0M303,143.6h0M304.8,143.6h0M306.6,143.6h0M308.4,143.6h0M310.2,143.6h0M312,143.6h0M313.8,143.6h0M315.6,143.6h0M317.4,143.6h0M319.2,143.6h0M321,143.6h0M322.8,143.6h0M324.6,143.6h0M326.4,143.6h0M328.2,143.6h0M330,143.6h0M331.8,143.6h0M333.6,143.6h0M335.4,143.6h0M337.2,143.6h0M339,143.6h0M340.8,143.6h0M342.6,143.6h0M344.4,143.6h0M346.2,143.6h0M348,143.6h0M349.8,143.6h0M351.6,143.6h0M353.4,143.6h0M355.2,143.6h0M357,143.6h0M358.8,143.5h0M360.6,143.5h0M362.4,143.5h0M364.2,143.5h0M366,143.5h0M367.8,143.5h0M369.6,143.5h0M371.4,143.5h0M373.2,143.5h0M375,143.5h0M376.8,143.5h0M378.6,143.5h0M380.4,143.5h0M382.2,143.5h0M384,143.5h0M385.8,143.4h0M387.6,143.4h0M389.4,143.3h0M391.2,143.2h0M393,143.1h0M394.8,142.9h0M396.6,142.4h0M398.4,141.9h0M400.2,141.1h0M402,140h0M403.8,138.6h0M405.6,137.3h0M407.4,135.9h0M409.2,134.3h0M411,132.4h0M412.8,130.2h0M414.6,127.9h0M416.4,125.5h0M418.2,123.1h0M420,120.7h0M421.8,118.3h0M423.6,115.9h0M425.4,113.5h0M427.2,111.1h0M429,108.7h0M430.8,106.2h0M432.6,103.6h0M434.4,100.9h0M436.2,98.3h0M438,95.8h0M439.8,93.3h0M441.6,90.6h0M443.4,87.7h0M445.2,84.4h0M447,81.1h0M448.8,78h0M450.6,75h0M452.4,72h0M454.2,69.1h0M456,66.2h0M457.8,63.4h0M459.6,60.5h0M461.4,57.7h0M463.2,54.8h0M465,52h0M466.8,49.1h0M468.6,46.3h0M470.4,43.5h0" fill="none" stroke="#2010e0" stroke-width="3.5" stroke-linecap="round"/>
</g>
<g clip-path="url(#cb)">
<path d="M290.4,143.9 L291.6,143.9 L292.8,143.9 L294,143.9 L295.2,143.9 L296.4,143.9 L297.6,143.9 L298.9,143.9 L300.1,143.9 L301.3,143.9 L302.5,143.9 L303.7,143.9 L304.9,143.9 L306.1,143.9 L307.3,143.9 L308.5,143.9 L309.7,143.9 L310.9,143.9 L312.1,143.9 L313.4,143.9 L314.6,143.9 L315.8,143.9 L317,143.9 L318.2,143.9 L319.4,143.9 L320.6,143.9 L321.8,143.9 L323,143.9 L324.2,143.9 L325.4,143.9 L326.6,143.9 L327.8,143.9 L329.1,143.9 L330.3,143.9 L331.5,143.9 L332.7,143.9 L333.9,143.9 L335.1,143.9 L336.3,143.9 L337.5,143.9 L338.7,143.9 L339.9,143.9 L341.1,143.9 L342.3,143.9 L343.6,143.9 L344.8,143.9 L346,143.9 L347.2,143.9 L348.4,143.9 L349.6,143.9 L350.8,143.9 L352,143.9 L353.2,143.9 L354.4,143.9 L355.6,143.9 L356.8,143.9 L358.1,143.9 L359.3,143.9 L360.5,143.9 L361.7,143.9 L362.9,143.9 L364.1,143.9 L365.3,143.9 L366.5,143.9 L367.7,143.9 L368.9,143.9 L370.1,143.9 L371.3,143.9 L372.5,143.8 L373.8,143.8 L375,143.8 L376.2,143.8 L377.4,143.8 L378.6,143.8 L379.8,143.8 L381,143.8 L382.2,143.8 L383.4,143.8 L384.6,143.8 L385.8,143.8 L387,143.8 L388.3,143.8 L389.5,143.8 L390.7,143.8 L391.9,143.8 L393.1,143.8 L394.3,143.8 L395.5,143.8 L396.7,143.8 L397.9,143.7 L399.1,143.6 L400.3,143.5 L401.5,143.2 L402.7,142.8 L404,142.3 L405.2,141.8 L406.4,141.1 L407.6,140.3 L408.8,139.4 L410,138.4 L411.2,137.3 L412.4,136 L413.6,134.5 L414.8,132.9 L416,131.4 L417.2,129.9 L418.5,128.3 L419.7,126.7 L420.9,125.1 L422.1,123.5 L423.3,121.9 L424.5,120.3 L425.7,118.7 L426.9,117.1 L428.1,115.5 L429.3,113.9 L430.5,112.3 L431.7,110.6 L433,109 L434.2,107.3 L435.4,105.6 L436.6,104 L437.8,102.4 L439,100.9 L440.2,99.3 L441.4,97.8 L442.6,96.1 L443.8,94.4 L445,92.6 L446.2,90.7 L447.4,88.8 L448.7,86.8 L449.9,84.8 L451.1,82.8 L452.3,80.8 L453.5,78.7 L454.7,76.6 L455.9,74.4 L457.1,72.3 L458.3,70.2 L459.5,68 L460.7,65.9 L461.9,63.8 L463.2,61.7 L464.4,59.6 L465.6,57.5 L466.8,55.4 L468,53.2 L469.2,51.1 L470.4,49" fill="none" stroke="#101040" stroke-width="0.6"/>
<path d="M290.4,143.9h0M292.2,143.9h0M294,143.9h0M295.8,143.9h0M297.6,143.9h0M299.4,143.9h0M301.2,143.9h0M303,143.9h0M304.8,143.9h0M306.6,143.9h0M308.4,143.9h0M310.2,143.9h0M312,143.9h0M313.8,143.9h0M315.6,143.9h0M317.4,143.9h0M319.2,143.9h0M321,143.9h0M322.8,143.9h0M324.6,143.9h0M326.4,143.9h0M328.2,143.9h0M330,143.9h0M331.8,143.9h0M333.6,143.9h0M335.4,143.9h0M337.2,143.9h0M339,143.9h0M340.8,143.9h0M342.6,143.9h0M344.4,143.9h0M346.2,143.9h0M348,143.9h0M349.8,143.9h0M351.6,143.9h0M353.4,143.9h0M355.2,143.9h0M357,143.9h0M358.8,143.9h0M360.6,143.9h0M362.4,143.9h0M364.2,143.9h0M366,143.9h0M367.8,143.9h0M369.6,143.9h0M371.4,143.9h0M373.2,143.8h0M375,143.8h0M376.8,143.8h0M378.6,143.8h0M380.4,143.8h0M382.2,143.8h0M384,143.8h0M385.8,143.8h0M387.6,143.8h0M389.4,143.8h0M391.2,143.8h0M393,143.8h0M394.8,143.8h0M396.6,143.8h0M398.4,143.6h0M400.2,143.5h0M402,143h0M403.8,142.4h0M405.6,141.5h0M407.4,140.4h0M409.2,139.1h0M411,137.5h0M412.8,135.5h0M414.6,133.2h0M416.4,130.9h0M418.2,128.7h0M420,126.3h0M421.8,123.9h0M423.6,121.5h0M425.4,119.1h0M427.2,116.8h0M429,114.4h0M430.8,111.9h0M432.6,109.4h0M434.4,106.9h0M436.2,104.5h0M438,102.1h0M439.8,99.8h0M441.6,97.5h0M443.4,95h0M445.2,92.3h0M447,89.5h0M448.8,86.6h0M450.6,83.6h0M452.4,80.6h0M454.2,77.4h0M456,74.3h0M457.8,71.1h0M459.6,67.9h0M461.4,64.8h0M463.2,61.6h0M465,58.5h0M466.8,55.3h0M468.6,52.2h0M470.4,49h0" fill="none" stroke="#2010e0" stroke-width="3.5" stroke-linecap="round"/>
</g>
<g clip-path="url(#cb)">
<path d="M290.4,126.1 L291.6,126.2 L292.8,126.4 L294,126.5 L295.2,126.7 L296.4,127 L297.6,127.2 L298.9,127.5 L300.1,127.7 L301.3,128.1 L302.5,128.4 L303.7,128.8 L304.9,129.3 L306.1,129.7 L307.3,130.2 L308.5,130.6 L309.7,131 L310.9,131.5 L312.1,131.9 L313.4,132.5 L314.6,133 L315.8,133.6 L317,134.2 L318.2,134.8 L319.4,135.3 L320.6,135.8 L321.8,136.3 L323,136.8 L324.2,137.3 L325.4,137.8 L326.6,138.2 L327.8,138.6 L329.1,138.9 L330.3,139.3 L331.5,139.6 L332.7,139.9 L333.9,140.1 L335.1,140.4 L336.3,140.6 L337.5,140.8 L338.7,141 L339.9,141.2 L341.1,141.3 L342.3,141.5 L343.6,141.6 L344.8,141.8 L346,141.9 L347.2,142 L348.4,142.1 L349.6,142.2 L350.8,142.2 L352,142.2 L353.2,142.2 L354.4,142.2 L355.6,142.2 L356.8,142.2 L358.1,142.2 L359.3,142.2 L360.5,142.2 L361.7,142.2 L362.9,142.1 L364.1,142 L365.3,141.8 L366.5,141.7 L367.7,141.5 L368.9,141.4 L370.1,141.2 L371.3,141 L372.5,140.7 L373.8,140.5 L375,140.2 L376.2,139.8 L377.4,139.5 L378.6,139.1 L379.8,138.7 L381,138.3 L382.2,137.9 L383.4,137.5 L384.6,137.1 L385.8,136.6 L387,136.1 L388.3,135.5 L389.5,134.9 L390.7,134.2 L391.9,133.5 L393.1,132.7 L394.3,131.9 L395.5,130.8 L396.7,129.3 L397.9,126.9 L399.1,124.2 L400.3,121.4 L401.5,118.4 L402.7,115.4 L404,112.3 L405.2,109 L406.4,104.9 L407.6,100.6 L408.8,97.1 L410,94.1 L411.2,91.4 L412.4,88.9 L413.6,86.5 L414.8,84.4 L416,82.3 L417.2,80.4 L418.5,78.5 L419.7,76.6 L420.9,74.9 L422.1,73.2 L423.3,71.6 L424.5,70.2 L425.7,68.8 L426.9,67.5 L428.1,66.3 L429.3,65.1 L430.5,64 L431.7,63 L433,62 L434.2,61.1 L435.4,60.2 L436.6,59.3 L437.8,58.5 L439,57.7 L440.2,56.9 L441.4,56 L442.6,55.2 L443.8,54.5 L445,53.7 L446.2,52.9 L447.4,52.1 L448.7,51.4 L449.9,50.6 L451.1,49.8 L452.3,49 L453.5,48.2 L454.7,47.5 L455.9,46.7 L457.1,45.9 L458.3,45.2 L459.5,44.5 L460.7,43.8 L461.9,43.1 L463.2,42.4 L464.4,41.7 L465.6,41.1 L466.8,40.4 L468,39.8 L469.2,39.2 L470.4,38.6" fill="none" stroke="#401010" stroke-width="0.6"/>
<path d="M290.4,126.1h0M292.2,126.3h0M294,126.5h0M295.8,126.8h0M297.6,127.2h0M299.4,127.6h0M301.2,128h0M303,128.6h0M304.8,129.2h0M306.6,129.9h0M308.4,130.5h0M310.2,131.2h0M312,131.9h0M313.8,132.6h0M315.6,133.5h0M317.4,134.4h0M319.2,135.3h0M321,136h0M322.8,136.7h0M324.6,137.4h0M326.4,138.1h0M328.2,138.7h0M330,139.2h0M331.8,139.6h0M333.6,140.1h0M335.4,140.4h0M337.2,140.8h0M339,141.1h0M340.8,141.3h0M342.6,141.5h0M344.4,141.7h0M346.2,141.9h0M348,142.1h0M349.8,142.2h0M351.6,142.2h0M353.4,142.2h0M355.2,142.2h0M357,142.2h0M358.8,142.2h0M360.6,142.2h0M362.4,142.1h0M364.2,142h0M366,141.8h0M367.8,141.5h0M369.6,141.3h0M371.4,141h0M373.2,140.6h0M375,140.2h0M376.8,139.7h0M378.6,139.1h0M380.4,138.5h0M382.2,137.9h0M384,137.3h0M385.8,136.6h0M387.6,135.8h0M389.4,134.9h0M391.2,133.9h0M393,132.8h0M394.8,131.4h0M396.6,129.5h0M398.4,125.8h0M400.2,121.7h0M402,117.3h0M403.8,112.7h0M405.6,107.6h0M407.4,101.2h0M409.2,96h0M411,91.8h0M412.8,88.1h0M414.6,84.8h0M416.4,81.7h0M418.2,78.9h0M420,76.1h0M421.8,73.6h0M423.6,71.2h0M425.4,69.1h0M427.2,67.2h0M429,65.4h0M430.8,63.8h0M432.6,62.3h0M434.4,60.9h0M436.2,59.6h0M438,58.4h0M439.8,57.1h0M441.6,55.9h0M443.4,54.7h0M445.2,53.6h0M447,52.4h0M448.8,51.3h0M450.6,50.1h0M452.4,49h0M454.2,47.8h0M456,46.6h0M457.8,45.5h0M459.6,44.4h0M461.4,43.4h0M463.2,42.4h0M465,41.4h0M466.8,40.4h0M468.6,39.5h0M470.4,38.6h0" fill="none" stroke="#f00c0c" stroke-width="3.5" stroke-linecap="round"/>
</g>
<g clip-path="url(#cb)">
<path d="M399,146 L399,145.5 L399,145 L399,144.6 L399,144.1 L399.1,143.6 L399.1,143.1 L399.1,142.6 L399.1,142.2 L399.1,141.7 L399.1,141.2 L399.1,140.7 L399.1,140.3 L399.1,139.8 L399.1,139.3 L399.1,138.8 L399.1,138.3 L399.2,137.9 L399.2,137.4 L399.2,136.9 L399.2,136.4 L399.2,135.9 L399.2,135.5 L399.2,135 L399.2,134.5 L399.2,134 L399.2,133.5 L399.2,133.1 L399.2,132.6 L399.2,132.1 L399.2,131.6 L399.2,131.2 L399.2,130.7 L399.2,130.2 L399.2,129.7 L399.2,129.2 L399.2,128.8 L399.3,128.3 L399.3,127.8 L399.3,127.3 L399.3,126.8 L399.3,126.4 L399.3,125.9 L399.3,125.4 L399.3,124.9 L399.3,124.4 L399.3,124 L399.3,123.5 L399.3,123 L399.3,122.5 L399.4,122.1 L399.4,121.6 L399.4,121.1 L399.4,120.6 L399.4,120.1 L399.4,119.7 L399.4,119.2 L399.4,118.7 L399.5,118.2 L399.5,117.7 L399.5,117.3 L399.5,116.8 L399.5,116.3 L399.6,115.8 L399.6,115.4 L399.6,114.9 L399.6,114.4 L399.7,113.9 L399.7,113.4 L399.8,113 L399.9,112.5 L400,112 L400,111.5 L400.1,111.1 L400.2,110.6 L400.3,110.1 L400.4,109.7 L400.4,109.2 L400.5,108.7 L400.6,108.2 L400.7,107.8 L400.8,107.3 L400.8,106.8 L400.9,106.3 L401,105.9 L401.1,105.4 L401.2,104.9 L401.3,104.4 L401.4,104 L401.5,103.5 L401.6,103 L401.7,102.6 L401.8,102.1 L401.9,101.6 L402,101.2 L402.1,100.7 L402.2,100.2 L402.3,99.8 L402.4,99.3 L402.5,98.8 L402.6,98.4 L402.8,97.9 L402.9,97.5 L403,97 L403.2,96.6 L403.3,96.1 L403.5,95.7 L403.6,95.2 L403.8,94.8 L404,94.3 L404.2,93.9 L404.4,93.4 L404.5,93 L404.7,92.6 L404.9,92.1 L405.2,91.7 L405.4,91.2 L405.6,90.8 L405.8,90.4 L406,89.9 L406.2,89.5 L406.4,89.1 L406.6,88.6 L406.8,88.2 L407,87.8 L407.2,87.3 L407.4,86.9 L407.6,86.5 L407.8,86 L408,85.6 L408.2,85.2 L408.4,84.7 L408.6,84.3 L408.9,83.9 L409.1,83.4 L409.3,83 L409.5,82.6 L409.7,82.1 L409.9,81.7 L410.1,81.3 L410.3,80.9 L410.6,80.4 L410.8,80 L411,79.6 L411.2,79.2 L411.5,78.7 L411.7,78.3 L411.9,77.9 L412.1,77.5 L412.3,77 L412.6,76.6 L412.8,76.2 L413,75.8 L413.3,75.3 L413.5,74.9 L413.7,74.5 L414,74.1 L414.2,73.7 L414.4,73.3 L414.7,72.8 L414.9,72.4 L415.2,72 L415.4,71.6 L415.7,71.2 L416,70.8 L416.2,70.4 L416.5,70.1 L416.8,69.7 L417.1,69.3 L417.4,68.9 L417.6,68.5 L417.9,68.1 L418.2,67.8 L418.5,67.4 L418.8,67 L419.2,66.6 L419.5,66.3 L419.8,65.9 L420.1,65.6 L420.4,65.2 L420.8,64.8 L421.1,64.5 L421.4,64.1 L421.7,63.8 L422.1,63.4 L422.4,63.1 L422.7,62.8 L423.1,62.4 L423.4,62.1 L423.8,61.8 L424.1,61.4 L424.5,61.1 L424.8,60.8 L425.2,60.5 L425.5,60.2 L425.9,59.9 L426.3,59.5 L426.6,59.2 L427,58.9 L427.4,58.6 L427.8,58.3 L428.1,58 L428.5,57.7 L428.9,57.4 L429.3,57.1 L429.7,56.8 L430,56.6 L430.4,56.3 L430.8,56 L431.2,55.7 L431.6,55.4 L431.9,55.1 L432.3,54.8 L432.7,54.6 L433.1,54.3 L433.5,54 L433.9,53.7 L434.3,53.4 L434.7,53.2 L435.1,52.9 L435.5,52.6 L435.9,52.4 L436.3,52.1 L436.7,51.8 L437.1,51.6 L437.5,51.3 L437.9,51.1 L438.3,50.9 L438.7,50.6 L439.2,50.4 L439.6,50.2 L440,50 L440.4,49.7 L440.9,49.5 L441.3,49.3 L441.7,49.1 L442.1,48.9 L442.6,48.7 L443,48.5 L443.4,48.3 L443.9,48.1 L444.3,47.9 L444.8,47.7 L445.2,47.5 L445.6,47.3 L446.1,47.1 L446.5,46.9 L447,46.8 L447.4,46.6 L447.9,46.4 L448.3,46.2 L448.8,46 L449.2,45.8 L449.6,45.7 L450.1,45.5 L450.5,45.3 L451,45.1 L451.4,44.9 L451.9,44.7 L452.3,44.6 L452.7,44.4 L453.2,44.2 L453.6,44 L454.1,43.9 L454.5,43.7 L455,43.5 L455.4,43.4 L455.9,43.2 L456.3,43 L456.8,42.9 L457.2,42.7 L457.7,42.5 L458.1,42.4 L458.6,42.2 L459,42 L459.5,41.9 L459.9,41.7 L460.4,41.6 L460.8,41.4 L461.3,41.3 L461.7,41.1 L462.2,40.9 L462.6,40.8 L463.1,40.6 L463.6,40.5 L464,40.3 L464.5,40.2 L464.9,40 L465.4,39.9 L465.8,39.7 L466.3,39.6 L466.7,39.4 L467.2,39.3 L467.7,39.1 L468.1,39 L468.6,38.9 L469,38.7 L469.5,38.6 L469.9,38.4 L470.4,38.3" fill="none" stroke="#401010" stroke-width="0.6"/>
<path d="M399,146h0M400.8,106.8h0M402.6,98.4h0M404.5,93h0M406.4,89.1h0M408.2,85.2h0M410.1,81.3h0M412.1,77.5h0M414,74.1h0M416,70.8h0M417.9,68.1h0M419.8,65.9h0M421.7,63.8h0M423.8,61.8h0M425.9,59.9h0M427.8,58.3h0M429.7,56.8h0M431.6,55.4h0M433.5,54h0M435.5,52.6h0M437.5,51.3h0M439.6,50.2h0M441.7,49.1h0M443.9,48.1h0M446.1,47.1h0M448.3,46.2h0M450.5,45.3h0M452.7,44.4h0M455,43.5h0M457.2,42.7h0M459,42h0M460.8,41.4h0M462.6,40.8h0M464.5,40.2h0M466.3,39.6h0M468.1,39h0M469.9,38.4h0" fill="none" stroke="#f00c0c" stroke-width="3.5" stroke-linecap="round"/>
<path d="M399,146 L399,145.5 L399,145 L399,144.6 L399,144.1 L399.1,143.6 L399.1,143.1 L399.1,142.6 L399.1,142.2 L399.1,141.7 L399.1,141.2 L399.1,140.7 L399.1,140.3 L399.1,139.8 L399.1,139.3 L399.1,138.8 L399.1,138.3 L399.2,137.9 L399.2,137.4 L399.2,136.9 L399.2,136.4 L399.2,135.9 L399.2,135.5 L399.2,135 L399.2,134.5 L399.2,134 L399.2,133.5 L399.2,133.1 L399.2,132.6 L399.2,132.1 L399.2,131.6 L399.2,131.2 L399.2,130.7 L399.2,130.2 L399.2,129.7 L399.2,129.2 L399.2,128.8 L399.3,128.3 L399.3,127.8 L399.3,127.3 L399.3,126.8 L399.3,126.4 L399.3,125.9 L399.3,125.4 L399.3,124.9 L399.3,124.4 L399.3,124 L399.3,123.5 L399.3,123 L399.3,122.5 L399.4,122.1 L399.4,121.6 L399.4,121.1 L399.4,120.6 L399.4,120.1 L399.4,119.7 L399.4,119.2 L399.4,118.7 L399.5,118.2 L399.5,117.7 L399.5,117.3 L399.5,116.8 L399.5,116.3 L399.6,115.8 L399.6,115.4 L399.6,114.9 L399.6,114.4 L399.7,113.9 L399.7,113.4 L399.8,113 L399.9,112.5 L400,112 L400,111.5 L400.1,111.1 L400.2,110.6 L400.3,110.1 L400.4,109.7 L400.4,109.2 L400.5,108.7 L400.6,108.2 L400.7,107.8 L400.8,107.3 L400.8,106.8 L400.9,106.3 L401,105.9 L401.1,105.4 L401.2,104.9 L401.3,104.4 L401.4,104 L401.5,103.5 L401.6,103 L401.7,102.6 L401.8,102.1 L401.9,101.6 L402,101.2 L402.1,100.7 L402.2,100.2 L402.3,99.8 L402.4,99.3 L402.5,98.8 L402.6,98.4 L402.8,97.9 L402.9,97.5 L403,97 L403.2,96.6" fill="none" stroke="#401010" stroke-width="0.8" opacity="0.8"/>
</g>
<g clip-path="url(#cb)">
<path d="M290.6,104 L290.6,104.1 L290.6,104.3 L290.6,104.4 L290.6,104.6 L290.6,104.7 L290.6,104.9 L290.6,105 L290.6,105.2 L290.6,105.3 L290.6,105.5 L290.6,105.6 L290.6,105.8 L290.6,105.9 L290.6,106.1 L290.6,106.2 L290.6,106.4 L290.6,106.5 L290.6,106.7 L290.6,106.8 L290.6,106.9 L290.6,107.1 L290.6,107.2 L290.6,107.4 L290.6,107.5 L290.6,107.7 L290.7,107.8 L290.7,108 L290.7,108.1 L290.7,108.3 L290.7,108.4 L290.7,108.6 L290.7,108.7 L290.7,108.9 L290.7,109 L290.7,109.2 L290.7,109.3 L290.7,109.4 L290.7,109.6 L290.7,109.7 L290.7,109.9 L290.7,110 L290.7,110.2 L290.7,110.3 L290.7,110.5 L290.7,110.6 L290.7,110.8 L290.8,110.9 L290.8,111.1 L290.8,111.2 L290.8,111.3 L290.8,111.5 L290.8,111.6 L290.8,111.8 L290.8,111.9 L290.8,112.1 L290.8,112.2 L290.8,112.4 L290.8,112.5 L290.8,112.7 L290.9,112.8 L290.9,113 L290.9,113.1 L290.9,113.2 L290.9,113.4 L290.9,113.5 L290.9,113.7 L291,113.8 L291,114 L291,114.1 L291,114.3 L291,114.4 L291.1,114.6 L291.1,114.7 L291.1,114.9 L291.1,115 L291.2,115.2 L291.2,115.3 L291.2,115.4 L291.2,115.6 L291.3,115.7 L291.3,115.9 L291.3,116 L291.3,116.2 L291.4,116.3 L291.4,116.5 L291.4,116.6 L291.4,116.7 L291.5,116.9 L291.5,117 L291.5,117.2 L291.6,117.3 L291.6,117.4 L291.6,117.6 L291.7,117.7 L291.7,117.9 L291.8,118 L291.8,118.1 L291.9,118.3 L291.9,118.4 L292,118.6 L292,118.7 L292.1,118.8 L292.1,119 L292.2,119.1 L292.2,119.2 L292.3,119.4 L292.3,119.5 L292.4,119.7 L292.4,119.8 L292.5,119.9 L292.6,120.1 L292.6,120.2 L292.7,120.3 L292.7,120.5 L292.8,120.6 L292.8,120.7 L292.9,120.9 L293,121 L293,121.2 L293.1,121.3 L293.1,121.4 L293.2,121.6 L293.2,121.7 L293.3,121.8 L293.3,122 L293.4,122.1 L293.4,122.3 L293.5,122.4 L293.5,122.5 L293.6,122.7 L293.6,122.8 L293.6,123 L293.7,123.1 L293.7,123.2 L293.8,123.4 L293.8,123.5 L293.8,123.7 L293.9,123.8 L293.9,124 L293.9,124.1 L294,124.2 L294,124.4 L294.1,124.5 L294.1,124.7 L294.1,124.8 L294.2,125 L294.2,125.1 L294.2,125.2 L294.3,125.4 L294.3,125.5 L294.3,125.7 L294.4,125.8 L294.4,126 L294.4,126.1 L294.5,126.2 L294.5,126.4 L294.5,126.5 L294.6,126.7 L294.6,126.8 L294.6,127 L294.7,127.1 L294.7,127.3 L294.7,127.4 L294.8,127.5 L294.8,127.7 L294.9,127.8 L294.9,128 L294.9,128.1 L295,128.2 L295,128.4 L295,128.5 L295.1,128.7 L295.1,128.8 L295.2,129 L295.2,129.1 L295.2,129.2 L295.3,129.4 L295.3,129.5 L295.4,129.7 L295.4,129.8 L295.4,129.9 L295.5,130.1 L295.5,130.2 L295.6,130.4 L295.6,130.5 L295.7,130.6 L295.7,130.8 L295.8,130.9 L295.8,131 L295.9,131.2 L295.9,131.3 L296,131.5 L296,131.6 L296.1,131.7 L296.1,131.9 L296.2,132 L296.2,132.1 L296.3,132.3 L296.3,132.4 L296.4,132.6 L296.5,132.7 L296.5,132.8 L296.6,133 L296.6,133.1 L296.7,133.2 L296.7,133.4 L296.8,133.5 L296.9,133.6 L296.9,133.8 L297,133.9 L297,134.1 L297.1,134.2 L297.2,134.3 L297.2,134.5 L297.3,134.6 L297.3,134.7 L297.4,134.9 L297.5,135 L297.5,135.1 L297.6,135.3 L297.7,135.4 L297.7,135.5 L297.8,135.7 L297.8,135.8 L297.9,135.9 L298,136 L298,136.2 L298.1,136.3 L298.2,136.4 L298.2,136.6 L298.3,136.7 L298.4,136.8 L298.5,136.9 L298.5,137.1 L298.6,137.2 L298.7,137.3 L298.8,137.5 L298.8,137.6 L298.9,137.7 L299,137.8 L299.1,138 L299.1,138.1 L299.2,138.2 L299.3,138.3 L299.4,138.4 L299.5,138.6 L299.5,138.7 L299.6,138.8 L299.7,138.9 L299.8,139.1 L299.9,139.2 L299.9,139.3 L300,139.4 L300.1,139.6 L300.2,139.7 L300.3,139.8 L300.3,139.9 L300.4,140.1 L300.5,140.2 L300.6,140.3 L300.6,140.4 L300.7,140.6 L300.8,140.7 L300.9,140.8 L300.9,141 L301,141.1 L301.1,141.2 L301.1,141.3 L301.2,141.5 L301.3,141.6 L301.3,141.7 L301.4,141.9 L301.5,142 L301.5,142.1 L301.6,142.3 L301.6,142.4 L301.7,142.5 L301.8,142.7 L301.8,142.8 L301.9,142.9 L302,143.1 L302,143.2 L302.1,143.3 L302.1,143.5 L302.2,143.6 L302.3,143.7 L302.3,143.9 L302.4,144 L302.4,144.1 L302.5,144.3 L302.6,144.4 L302.6,144.5 L302.7,144.7 L302.7,144.8 L302.8,145 L302.8,145.1 L302.9,145.2 L302.9,145.4 L303,145.5" fill="none" stroke="#401010" stroke-width="0.6"/>
<path d="M290.6,104h0M292.4,119.8h0M294.3,125.4h0M296.1,131.7h0M297.9,135.9h0M299.7,138.9h0M301.5,142.1h0" fill="none" stroke="#f00c0c" stroke-width="3.2" stroke-linecap="round"/>
</g>
<path d="M415.5,145 L470.4,48.9" stroke="#111" stroke-width="1" clip-path="url(#cb)"/>
<path d="M408.5,74.6 L384,74.6" stroke="#f00c0c" stroke-width="1.5"/>
<path d="M374.5,74.6 L384,70.7 L382.8,74.6 L384,78.5 Z" fill="#f00c0c"/>
<path d="M432.3,121.6 L456.3,121.6" stroke="#2010e0" stroke-width="1.6"/>
<path d="M465.8,121.6 L456.3,117.7 L457.5,121.6 L456.3,125.5 Z" fill="#2010e0"/>
<text x="288.9" y="132.7" font-size="11.5" fill="#111" font-family="'Liberation Sans', Arial, sans-serif" text-anchor="end">1x10<tspan font-size="7.5" dy="-5.5">-9</tspan></text>
<text x="288.9" y="108.4" font-size="11.5" fill="#111" font-family="'Liberation Sans', Arial, sans-serif" text-anchor="end">1x10<tspan font-size="7.5" dy="-5.5">-8</tspan></text>
<text x="288.9" y="84.1" font-size="11.5" fill="#111" font-family="'Liberation Sans', Arial, sans-serif" text-anchor="end">1x10<tspan font-size="7.5" dy="-5.5">-7</tspan></text>
<text x="288.9" y="59.8" font-size="11.5" fill="#111" font-family="'Liberation Sans', Arial, sans-serif" text-anchor="end">1x10<tspan font-size="7.5" dy="-5.5">-6</tspan></text>
<text x="288.9" y="35.5" font-size="11.5" fill="#111" font-family="'Liberation Sans', Arial, sans-serif" text-anchor="end">1x10<tspan font-size="7.5" dy="-5.5">-5</tspan></text>
<text x="473.2" y="148.6" font-size="11.5" text-anchor="start" font-weight="normal" fill="#111" font-family="'Liberation Sans', Arial, sans-serif" >0</text>
<text x="473.2" y="105.6" font-size="11.5" fill="#111" font-family="'Liberation Sans', Arial, sans-serif" text-anchor="start">1x10<tspan font-size="7.5" dy="-5.5">-3</tspan></text>
<text x="473.2" y="62.6" font-size="11.5" fill="#111" font-family="'Liberation Sans', Arial, sans-serif" text-anchor="start">2x10<tspan font-size="7.5" dy="-5.5">-3</tspan></text>
<text x="473.2" y="19.6" font-size="11.5" fill="#111" font-family="'Liberation Sans', Arial, sans-serif" text-anchor="start">3x10<tspan font-size="7.5" dy="-5.5">-3</tspan></text>
<text x="308.4" y="156.9" font-size="11.5" text-anchor="middle" font-weight="normal" fill="#111" font-family="'Liberation Sans', Arial, sans-serif" >40</text>
<text x="344.4" y="156.9" font-size="11.5" text-anchor="middle" font-weight="normal" fill="#111" font-family="'Liberation Sans', Arial, sans-serif" >20</text>
<text x="380.4" y="156.9" font-size="11.5" text-anchor="middle" font-weight="normal" fill="#111" font-family="'Liberation Sans', Arial, sans-serif" >0</text>
<text x="417.3" y="156.9" font-size="11.5" text-anchor="middle" font-weight="normal" fill="#111" font-family="'Liberation Sans', Arial, sans-serif" >-20</text>
<text x="453.3" y="156.9" font-size="11.5" text-anchor="middle" font-weight="normal" fill="#111" font-family="'Liberation Sans', Arial, sans-serif" >-40</text>
<text x="362.5" y="169.5" font-size="12" fill="#111" font-family="'Liberation Sans', Arial, sans-serif" text-anchor="start" >V<tspan font-size="7.5" dy="4.3">GS</tspan><tspan dy="-4.3" dx="-0.8"> (V)</tspan></text>
<text x="292.6" y="30.2" font-size="12" fill="#111" font-family="'Liberation Sans', Arial, sans-serif" text-anchor="start" >V<tspan font-size="7.5" dy="4.3">DS</tspan><tspan dy="-4.3" dx="-0.8"> = -50 V</tspan></text>
<text x="243.5" y="11.3" font-size="16.5" text-anchor="start" font-weight="normal" fill="#111" font-family="'Liberation Sans', Arial, sans-serif" style="stroke-width:0.8px">(b)</text>
<text transform="translate(250.5,105) rotate(-90)" font-size="11" fill="#111" font-family="'Liberation Sans', Arial, sans-serif">I<tspan font-size="7" dy="3">DS</tspan><tspan dy="-3"> (-A)</tspan></text>
<text transform="translate(515.2,161.3) rotate(-90)" font-size="11.2" fill="#111" font-family="'Liberation Sans', Arial, sans-serif" textLength="160" lengthAdjust="spacingAndGlyphs">Square root of drain current (-A)</text>
<clipPath id="cd"><rect x="288.7" y="185.3" width="182.3" height="133.9"/></clipPath>
<rect x="288.7" y="185.3" width="182.3" height="133.9" fill="none" stroke="#222" stroke-width="1.5"/>
<path d="M452.8,319.2 v-3.5 M452.8,185.3 v3.5 M416.3,319.2 v-3.5 M416.3,185.3 v3.5 M379.8,319.2 v-3.5 M379.8,185.3 v3.5 M343.3,319.2 v-3.5 M343.3,185.3 v3.5 M306.8,319.2 v-3.5 M306.8,185.3 v3.5" stroke="#222" stroke-width="1" fill="none"/>
<path d="M471,319.2 v-2 M471,185.3 v2 M434.5,319.2 v-2 M434.5,185.3 v2 M398,319.2 v-2 M398,185.3 v2 M361.6,319.2 v-2 M361.6,185.3 v2 M325.1,319.2 v-2 M325.1,185.3 v2 M288.6,319.2 v-2 M288.6,185.3 v2" stroke="#222" stroke-width="1" fill="none"/>
<path d="M288.7,295.5 h3.5 M288.7,257.4 h3.5 M288.7,219.4 h3.5" stroke="#222" stroke-width="1" fill="none"/>
<path d="M288.7,315.4 h1.6 M288.7,310.6 h1.6 M288.7,307 h1.6 M288.7,303.9 h1.6 M288.7,301.4 h1.6 M288.7,299.2 h1.6 M288.7,297.2 h1.6 M288.7,284 h1.6 M288.7,277.3 h1.6 M288.7,272.6 h1.6 M288.7,268.9 h1.6 M288.7,265.9 h1.6 M288.7,263.3 h1.6 M288.7,261.1 h1.6 M288.7,259.2 h1.6 M288.7,246 h1.6 M288.7,239.3 h1.6 M288.7,234.5 h1.6 M288.7,230.9 h1.6 M288.7,227.8 h1.6 M288.7,225.3 h1.6 M288.7,223.1 h1.6 M288.7,221.1 h1.6 M288.7,207.9 h1.6 M288.7,201.2 h1.6 M288.7,196.5 h1.6 M288.7,192.8 h1.6 M288.7,189.8 h1.6 M288.7,187.2 h1.6" stroke="#222" stroke-width="1" fill="none"/>
<path d="M471,292.1 h-3.5 M471,265.4 h-3.5 M471,238.7 h-3.5 M471,212 h-3.5" stroke="#222" stroke-width="1" fill="none"/>
<path d="M471,305.4 h-2 M471,278.8 h-2 M471,252.1 h-2 M471,225.4 h-2 M471,198.7 h-2" stroke="#222" stroke-width="1" fill="none"/>
<g clip-path="url(#cd)">
<path d="M288.7,311 L289.9,311.9 L291.1,312.6 L292.4,313.1 L293.6,313.5 L294.8,313.8 L296,314.1 L297.3,314.2 L298.5,314.3 L299.7,314.4 L300.9,314.5 L302.2,314.6 L303.4,314.6 L304.6,314.7 L305.8,314.7 L307.1,314.7 L308.3,314.8 L309.5,314.8 L310.7,314.8 L311.9,314.8 L313.2,314.8 L314.4,314.9 L315.6,314.9 L316.8,314.9 L318.1,314.9 L319.3,314.9 L320.5,314.9 L321.7,314.9 L323,314.9 L324.2,314.9 L325.4,315 L326.6,315 L327.9,315 L329.1,315 L330.3,315 L331.5,315 L332.7,315 L334,315 L335.2,315 L336.4,315 L337.6,315 L338.9,315 L340.1,315 L341.3,315 L342.5,315.1 L343.8,315.1 L345,315.1 L346.2,315.1 L347.4,315.1 L348.7,315.1 L349.9,315.1 L351.1,315.1 L352.3,315.1 L353.5,315.1 L354.8,315.1 L356,315.1 L357.2,315.1 L358.4,315.1 L359.7,315.1 L360.9,315.1 L362.1,315.1 L363.3,315.1 L364.6,315.1 L365.8,315.1 L367,315.1 L368.2,315.1 L369.5,315.2 L370.7,315.2 L371.9,315.2 L373.1,315.2 L374.3,315.2 L375.6,315.2 L376.8,315.2 L378,315.2 L379.2,315.2 L380.5,315.2 L381.7,315.2 L382.9,315.2 L384.1,315.2 L385.4,315.2 L386.6,315.2 L387.8,315.2 L389,315.3 L390.2,315.3 L391.5,315.3 L392.7,315.3 L393.9,315.3 L395.1,315.3 L396.4,315.3 L397.6,315.3 L398.8,315.3 L400,315.3 L401.3,315.3 L402.5,315.2 L403.7,315.1 L404.9,315 L406.2,314.8 L407.4,314.3 L408.6,313.8 L409.8,313.1 L411,312.3 L412.3,311.4 L413.5,310.4 L414.7,309.4 L415.9,308.3 L417.2,307.2 L418.4,306.1 L419.6,304.9 L420.8,303.5 L422.1,301.7 L423.3,299.8 L424.5,297.8 L425.7,295.7 L427,293.6 L428.2,291.5 L429.4,289.5 L430.6,287.5 L431.8,285.5 L433.1,283.5 L434.3,281.5 L435.5,279.5 L436.7,277.3 L438,275.1 L439.2,272.9 L440.4,270.7 L441.6,268.4 L442.9,266.2 L444.1,264.1 L445.3,261.9 L446.5,259.7 L447.8,257.5 L449,255.2 L450.2,252.7 L451.4,250.2 L452.6,247.6 L453.9,245 L455.1,242.3 L456.3,239.6 L457.5,236.9 L458.8,234.3 L460,231.6 L461.2,229 L462.4,226.4 L463.7,223.8 L464.9,221.1 L466.1,218.5 L467.3,215.9 L468.6,213.3 L469.8,210.6 L471,208" fill="none" stroke="#101040" stroke-width="0.6"/>
<path d="M288.7,311h0M290.5,312.3h0M292.3,313.1h0M294.2,313.7h0M296,314.1h0M297.8,314.3h0M299.6,314.4h0M301.5,314.5h0M303.3,314.6h0M305.1,314.7h0M306.9,314.7h0M308.8,314.8h0M310.6,314.8h0M312.4,314.8h0M314.2,314.8h0M316.1,314.9h0M317.9,314.9h0M319.7,314.9h0M321.5,314.9h0M323.4,314.9h0M325.2,314.9h0M327,315h0M328.8,315h0M330.7,315h0M332.5,315h0M334.3,315h0M336.1,315h0M337.9,315h0M339.8,315h0M341.6,315h0M343.4,315.1h0M345.2,315.1h0M347.1,315.1h0M348.9,315.1h0M350.7,315.1h0M352.5,315.1h0M354.4,315.1h0M356.2,315.1h0M358,315.1h0M359.8,315.1h0M361.7,315.1h0M363.5,315.1h0M365.3,315.1h0M367.1,315.1h0M369,315.2h0M370.8,315.2h0M372.6,315.2h0M374.4,315.2h0M376.3,315.2h0M378.1,315.2h0M379.9,315.2h0M381.7,315.2h0M383.5,315.2h0M385.4,315.2h0M387.2,315.2h0M389,315.3h0M390.8,315.3h0M392.7,315.3h0M394.5,315.3h0M396.3,315.3h0M398.1,315.3h0M400,315.3h0M401.8,315.3h0M403.6,315.1h0M405.4,314.9h0M407.3,314.3h0M409.1,313.5h0M410.9,312.4h0M412.7,311h0M414.6,309.5h0M416.4,307.9h0M418.2,306.3h0M420,304.5h0M421.9,302h0M423.7,299.2h0M425.5,296.1h0M427.3,293h0M429.1,289.9h0M431,286.9h0M432.8,284h0M434.6,281h0M436.4,277.9h0M438.3,274.6h0M440.1,271.3h0M441.9,267.9h0M443.7,264.7h0M445.6,261.5h0M447.4,258.2h0M449.2,254.7h0M451,251h0M452.9,247.2h0M454.7,243.2h0M456.5,239.2h0M458.3,235.2h0M460.2,231.3h0M462,227.4h0M463.8,223.5h0M465.6,219.5h0M467.5,215.6h0M469.3,211.7h0" fill="none" stroke="#2018d0" stroke-width="2.9" stroke-linecap="round"/>
<path d="M412.3,311.4 L413.5,310.4 L414.7,309.4 L415.9,308.3 L417.2,307.2 L418.4,306.1 L419.6,304.9 L420.8,303.5 L422.1,301.7 L423.3,299.8 L424.5,297.8 L425.7,295.7 L427,293.6 L428.2,291.5 L429.4,289.5 L430.6,287.5 L431.8,285.5 L433.1,283.5 L434.3,281.5 L435.5,279.5 L436.7,277.3 L438,275.1 L439.2,272.9 L440.4,270.7 L441.6,268.4 L442.9,266.2 L444.1,264.1 L445.3,261.9 L446.5,259.7 L447.8,257.5 L449,255.2 L450.2,252.7 L451.4,250.2 L452.6,247.6 L453.9,245 L455.1,242.3 L456.3,239.6 L457.5,236.9 L458.8,234.3 L460,231.6 L461.2,229 L462.4,226.4 L463.7,223.8 L464.9,221.1 L466.1,218.5 L467.3,215.9 L468.6,213.3 L469.8,210.6 L471,208" fill="none" stroke="#101040" stroke-width="0.7" opacity="0.6"/>
</g>
<g clip-path="url(#cd)">
<path d="M288.7,317.8 L289.9,317.8 L291.1,317.8 L292.4,317.8 L293.6,317.8 L294.8,317.8 L296,317.8 L297.3,317.8 L298.5,317.8 L299.7,317.8 L300.9,317.8 L302.2,317.8 L303.4,317.8 L304.6,317.8 L305.8,317.8 L307.1,317.8 L308.3,317.8 L309.5,317.8 L310.7,317.8 L311.9,317.8 L313.2,317.8 L314.4,317.9 L315.6,317.9 L316.8,317.9 L318.1,317.9 L319.3,317.9 L320.5,317.9 L321.7,317.9 L323,317.9 L324.2,317.9 L325.4,317.9 L326.6,317.9 L327.9,317.9 L329.1,317.9 L330.3,317.9 L331.5,317.9 L332.7,317.9 L334,317.9 L335.2,317.9 L336.4,317.9 L337.6,317.9 L338.9,317.9 L340.1,317.9 L341.3,317.9 L342.5,317.9 L343.8,317.9 L345,317.9 L346.2,317.9 L347.4,317.9 L348.7,317.9 L349.9,317.9 L351.1,317.9 L352.3,317.9 L353.5,317.9 L354.8,317.9 L356,317.9 L357.2,317.9 L358.4,317.9 L359.7,317.9 L360.9,317.9 L362.1,317.9 L363.3,317.9 L364.6,317.9 L365.8,317.9 L367,317.9 L368.2,317.9 L369.5,317.9 L370.7,317.9 L371.9,317.9 L373.1,317.9 L374.3,317.9 L375.6,317.9 L376.8,317.9 L378,317.9 L379.2,317.9 L380.5,317.6 L381.7,315.9 L382.9,313.5 L384.1,311.2 L385.4,309.3 L386.6,307.5 L387.8,305.7 L389,304.1 L390.2,302.5 L391.5,300.9 L392.7,299.4 L393.9,297.9 L395.1,296.4 L396.4,294.9 L397.6,293.4 L398.8,291.9 L400,290.2 L401.3,288.6 L402.5,287 L403.7,285.3 L404.9,283.7 L406.2,282.1 L407.4,280.4 L408.6,278.8 L409.8,277.2 L411,275.5 L412.3,273.9 L413.5,272.3 L414.7,270.6 L415.9,269 L417.2,267.4 L418.4,265.8 L419.6,264.1 L420.8,262.5 L422.1,260.9 L423.3,259.3 L424.5,257.6 L425.7,256 L427,254.4 L428.2,252.8 L429.4,251.1 L430.6,249.5 L431.8,247.9 L433.1,246.2 L434.3,244.6 L435.5,242.9 L436.7,241.3 L438,239.7 L439.2,238.1 L440.4,236.5 L441.6,234.9 L442.9,233.3 L444.1,231.7 L445.3,230.2 L446.5,228.6 L447.8,227.1 L449,225.6 L450.2,224.1 L451.4,222.6 L452.6,221.1 L453.9,219.6 L455.1,218.2 L456.3,216.9 L457.5,215.5 L458.8,214.2 L460,212.9 L461.2,211.7 L462.4,210.7 L463.7,209.8 L464.9,208.9 L466.1,208.1 L467.3,207.4 L468.6,206.7 L469.8,206.1 L471,205.5" fill="none" stroke="#101040" stroke-width="0.6"/>
<path d="M288.7,317.8h0M290.5,317.8h0M292.3,317.8h0M294.2,317.8h0M296,317.8h0M297.8,317.8h0M299.6,317.8h0M301.5,317.8h0M303.3,317.8h0M305.1,317.8h0M306.9,317.8h0M308.8,317.8h0M310.6,317.8h0M312.4,317.8h0M314.2,317.8h0M316.1,317.9h0M317.9,317.9h0M319.7,317.9h0M321.5,317.9h0M323.4,317.9h0M325.2,317.9h0M327,317.9h0M328.8,317.9h0M330.7,317.9h0M332.5,317.9h0M334.3,317.9h0M336.1,317.9h0M337.9,317.9h0M339.8,317.9h0M341.6,317.9h0M343.4,317.9h0M345.2,317.9h0M347.1,317.9h0M348.9,317.9h0M350.7,317.9h0M352.5,317.9h0M354.4,317.9h0M356.2,317.9h0M358,317.9h0M359.8,317.9h0M361.7,317.9h0M363.5,317.9h0M365.3,317.9h0M367.1,317.9h0M369,317.9h0M370.8,317.9h0M372.6,317.9h0M374.4,317.9h0M376.3,317.9h0M378.1,317.9h0M379.9,317.8h0M381.7,315.8h0M383.5,312.2h0M385.4,309.3h0M387.2,306.6h0M389,304.1h0M390.8,301.7h0M392.7,299.4h0M394.5,297.2h0M396.3,295h0M398.1,292.7h0M400,290.3h0M401.8,287.9h0M403.6,285.5h0M405.4,283h0M407.3,280.6h0M409.1,278.2h0M410.9,275.7h0M412.7,273.3h0M414.6,270.9h0M416.4,268.4h0M418.2,266h0M420,263.6h0M421.9,261.2h0M423.7,258.7h0M425.5,256.3h0M427.3,253.9h0M429.1,251.5h0M431,249h0M432.8,246.6h0M434.6,244.1h0M436.4,241.7h0M438.3,239.3h0M440.1,236.9h0M441.9,234.5h0M443.7,232.2h0M445.6,229.9h0M447.4,227.6h0M449.2,225.3h0M451,223.1h0M452.9,220.8h0M454.7,218.7h0M456.5,216.6h0M458.3,214.6h0M460.2,212.7h0M462,211.1h0M463.8,209.7h0M465.6,208.4h0M467.5,207.3h0M469.3,206.3h0" fill="none" stroke="#2018d0" stroke-width="2.9" stroke-linecap="round"/>
<path d="M380.5,317.6 L381.7,315.9 L382.9,313.5 L384.1,311.2 L385.4,309.3 L386.6,307.5 L387.8,305.7 L389,304.1 L390.2,302.5 L391.5,300.9 L392.7,299.4 L393.9,297.9 L395.1,296.4 L396.4,294.9 L397.6,293.4 L398.8,291.9 L400,290.2 L401.3,288.6 L402.5,287 L403.7,285.3 L404.9,283.7 L406.2,282.1 L407.4,280.4 L408.6,278.8 L409.8,277.2 L411,275.5 L412.3,273.9 L413.5,272.3 L414.7,270.6 L415.9,269 L417.2,267.4 L418.4,265.8 L419.6,264.1 L420.8,262.5 L422.1,260.9 L423.3,259.3 L424.5,257.6 L425.7,256 L427,254.4 L428.2,252.8 L429.4,251.1 L430.6,249.5 L431.8,247.9 L433.1,246.2 L434.3,244.6 L435.5,242.9 L436.7,241.3 L438,239.7 L439.2,238.1 L440.4,236.5 L441.6,234.9 L442.9,233.3 L444.1,231.7 L445.3,230.2 L446.5,228.6 L447.8,227.1 L449,225.6 L450.2,224.1 L451.4,222.6 L452.6,221.1 L453.9,219.6 L455.1,218.2 L456.3,216.9 L457.5,215.5 L458.8,214.2 L460,212.9 L461.2,211.7 L462.4,210.7 L463.7,209.8" fill="none" stroke="#101040" stroke-width="0.7" opacity="0.6"/>
</g>
<path d="M418.9,320 L471,208" stroke="#111" stroke-width="1" clip-path="url(#cd)"/>
<g clip-path="url(#cd)">
<path d="M288.7,296.2 L289.9,296.4 L291.1,296.6 L292.4,296.8 L293.6,296.9 L294.8,297.1 L296,297.3 L297.3,297.5 L298.5,297.7 L299.7,297.8 L300.9,298 L302.2,298.2 L303.4,298.3 L304.6,298.5 L305.8,298.7 L307.1,298.8 L308.3,299 L309.5,299.1 L310.7,299.3 L311.9,299.4 L313.2,299.6 L314.4,299.7 L315.6,299.9 L316.8,300 L318.1,300.1 L319.3,300.3 L320.5,300.4 L321.7,300.5 L323,300.6 L324.2,300.8 L325.4,300.9 L326.6,301 L327.9,301.1 L329.1,301.3 L330.3,301.4 L331.5,301.5 L332.7,301.7 L334,301.8 L335.2,301.9 L336.4,302.1 L337.6,302.2 L338.9,302.4 L340.1,302.5 L341.3,302.7 L342.5,302.8 L343.8,303 L345,303.2 L346.2,303.3 L347.4,303.5 L348.7,303.7 L349.9,303.9 L351.1,304.1 L352.3,304.3 L353.5,304.5 L354.8,304.7 L356,304.9 L357.2,305 L358.4,305.2 L359.7,305.4 L360.9,305.6 L362.1,305.8 L363.3,306 L364.6,306.1 L365.8,306.3 L367,306.4 L368.2,306.6 L369.5,306.7 L370.7,306.9 L371.9,307 L373.1,307.1 L374.3,307.3 L375.6,307.4 L376.8,307.5 L378,307.6 L379.2,307.7 L380.5,307.8 L381.7,308 L382.9,308 L384.1,308.1 L385.4,308.2 L386.6,308.3 L387.8,308.4 L389,308.5 L390.2,308.6 L391.5,308.7 L392.7,308.7 L393.9,308.8 L395.1,308.8 L396.4,308.8 L397.6,308.7 L398.8,308.6 L400,308.3 L401.3,307.4 L402.5,306 L403.7,304.4 L404.9,302.2 L406.2,299.7 L407.4,296.9 L408.6,293.6 L409.8,290.3 L411,287.2 L412.3,284.1 L413.5,281.2 L414.7,278.3 L415.9,274.6 L417.2,269.9 L418.4,265.2 L419.6,260.3 L420.8,255.4 L422.1,251 L423.3,247.3 L424.5,244 L425.7,240.8 L427,237.5 L428.2,234.3 L429.4,231.3 L430.6,228.8 L431.8,226.5 L433.1,224.4 L434.3,222.4 L435.5,220.6 L436.7,218.8 L438,217.1 L439.2,215.5 L440.4,213.9 L441.6,212.5 L442.9,211 L444.1,209.7 L445.3,208.4 L446.5,207.2 L447.8,206 L449,204.9 L450.2,203.9 L451.4,202.9 L452.6,201.9 L453.9,200.9 L455.1,199.9 L456.3,199 L457.5,198.1 L458.8,197.1 L460,196.2 L461.2,195.4 L462.4,194.5 L463.7,193.6 L464.9,192.8 L466.1,191.9 L467.3,191 L468.6,190.2 L469.8,189.3 L471,188.5" fill="none" stroke="#401010" stroke-width="0.6"/>
<path d="M288.7,296.2h0M290.5,296.5h0M292.3,296.8h0M294.2,297h0M296,297.3h0M297.8,297.6h0M299.6,297.8h0M301.5,298.1h0M303.3,298.3h0M305.1,298.6h0M306.9,298.8h0M308.8,299h0M310.6,299.3h0M312.4,299.5h0M314.2,299.7h0M316.1,299.9h0M317.9,300.1h0M319.7,300.3h0M321.5,300.5h0M323.4,300.7h0M325.2,300.9h0M327,301.1h0M328.8,301.2h0M330.7,301.4h0M332.5,301.6h0M334.3,301.8h0M336.1,302h0M337.9,302.3h0M339.8,302.5h0M341.6,302.7h0M343.4,303h0M345.2,303.2h0M347.1,303.5h0M348.9,303.8h0M350.7,304h0M352.5,304.3h0M354.4,304.6h0M356.2,304.9h0M358,305.2h0M359.8,305.4h0M361.7,305.7h0M363.5,306h0M365.3,306.2h0M367.1,306.5h0M369,306.7h0M370.8,306.9h0M372.6,307.1h0M374.4,307.3h0M376.3,307.5h0M378.1,307.6h0M379.9,307.8h0M381.7,308h0M383.5,308.1h0M385.4,308.2h0M387.2,308.4h0M389,308.5h0M390.8,308.6h0M392.7,308.7h0M394.5,308.8h0M396.3,308.8h0M398.1,308.7h0M400,308.4h0M401.8,306.8h0M403.6,304.6h0M405.4,301.2h0M407.3,297.2h0M409.1,292.2h0M410.9,287.5h0M412.7,283h0M414.6,278.7h0M416.4,273h0M418.2,265.9h0M420,258.6h0M421.9,251.7h0M423.7,246.2h0M425.5,241.4h0M427.3,236.5h0M429.1,231.9h0M431,228.1h0M432.8,224.8h0M434.6,221.9h0M436.4,219.2h0M438.3,216.7h0M440.1,214.4h0M441.9,212.1h0M443.7,210.1h0M445.6,208.1h0M447.4,206.4h0M449.2,204.7h0M451,203.2h0M452.9,201.7h0M454.7,200.3h0M456.5,198.8h0M458.3,197.5h0M460.2,196.1h0M462,194.8h0M463.8,193.5h0M465.6,192.2h0M467.5,190.9h0M469.3,189.7h0" fill="none" stroke="#e8101a" stroke-width="3.0" stroke-linecap="round"/>
<path d="M401.3,307.4 L402.5,306 L403.7,304.4 L404.9,302.2 L406.2,299.7 L407.4,296.9 L408.6,293.6 L409.8,290.3 L411,287.2 L412.3,284.1 L413.5,281.2 L414.7,278.3 L415.9,274.6 L417.2,269.9 L418.4,265.2 L419.6,260.3 L420.8,255.4 L422.1,251 L423.3,247.3 L424.5,244 L425.7,240.8 L427,237.5 L428.2,234.3 L429.4,231.3 L430.6,228.8 L431.8,226.5 L433.1,224.4 L434.3,222.4 L435.5,220.6 L436.7,218.8 L438,217.1 L439.2,215.5 L440.4,213.9 L441.6,212.5 L442.9,211 L444.1,209.7 L445.3,208.4 L446.5,207.2 L447.8,206" fill="none" stroke="#401010" stroke-width="0.7" opacity="0.6"/>
</g>
<g clip-path="url(#cd)">
<path d="M381.2,321 L381.2,320.4 L381.2,319.8 L381.2,319.2 L381.2,318.6 L381.2,318 L381.3,317.4 L381.3,316.8 L381.3,316.2 L381.3,315.7 L381.3,315.1 L381.3,314.5 L381.4,313.9 L381.4,313.3 L381.4,312.7 L381.4,312.1 L381.5,311.5 L381.5,310.9 L381.5,310.3 L381.6,309.7 L381.6,309.1 L381.7,308.5 L381.7,307.9 L381.7,307.3 L381.8,306.8 L381.8,306.2 L381.9,305.6 L381.9,305 L382,304.4 L382,303.8 L382.1,303.2 L382.1,302.6 L382.2,302 L382.3,301.4 L382.3,300.8 L382.4,300.2 L382.4,299.6 L382.5,299.1 L382.5,298.5 L382.6,297.9 L382.7,297.3 L382.7,296.7 L382.8,296.1 L382.8,295.5 L382.9,294.9 L383,294.3 L383,293.7 L383.1,293.1 L383.2,292.5 L383.2,292 L383.3,291.4 L383.3,290.8 L383.4,290.2 L383.5,289.6 L383.5,289 L383.6,288.4 L383.7,287.8 L383.7,287.2 L383.8,286.6 L383.8,286 L383.9,285.5 L384,284.9 L384,284.3 L384.1,283.7 L384.2,283.1 L384.3,282.5 L384.3,281.9 L384.4,281.3 L384.5,280.7 L384.5,280.1 L384.6,279.6 L384.7,279 L384.8,278.4 L384.9,277.8 L384.9,277.2 L385,276.6 L385.1,276 L385.2,275.4 L385.3,274.8 L385.4,274.2 L385.4,273.7 L385.5,273.1 L385.6,272.5 L385.7,271.9 L385.8,271.3 L385.9,270.7 L386,270.1 L386.1,269.5 L386.3,269 L386.4,268.4 L386.5,267.8 L386.6,267.2 L386.8,266.7 L387,266.1 L387.1,265.5 L387.4,265 L387.6,264.4 L387.8,263.9 L388,263.3 L388.3,262.8 L388.5,262.2 L388.7,261.7 L389,261.1 L389.2,260.6 L389.4,260 L389.6,259.4 L389.8,258.9 L390,258.3 L390.2,257.8 L390.4,257.2 L390.6,256.7 L390.8,256.1 L391,255.5 L391.1,255 L391.3,254.4 L391.5,253.8 L391.7,253.3 L391.9,252.7 L392.1,252.1 L392.2,251.6 L392.4,251 L392.6,250.4 L392.8,249.9 L393,249.3 L393.2,248.7 L393.4,248.2 L393.5,247.6 L393.7,247 L393.9,246.5 L394.1,245.9 L394.4,245.4 L394.6,244.8 L394.9,244.3 L395.1,243.8 L395.4,243.2 L395.7,242.7 L395.9,242.2 L396.2,241.6 L396.4,241.1 L396.7,240.6 L396.9,240 L397.2,239.5 L397.4,238.9 L397.6,238.4 L397.8,237.8 L398.1,237.3 L398.3,236.7 L398.5,236.2 L398.8,235.6 L399,235.1 L399.3,234.6 L399.6,234.1 L399.9,233.5 L400.2,233 L400.4,232.5 L400.7,232 L401,231.5 L401.4,231 L401.7,230.4 L402,229.9 L402.3,229.4 L402.6,228.9 L402.9,228.4 L403.3,227.9 L403.6,227.4 L403.9,226.9 L404.3,226.5 L404.6,226 L404.9,225.5 L405.3,225 L405.6,224.5 L406,224 L406.3,223.5 L406.7,223.1 L407,222.6 L407.4,222.1 L407.8,221.6 L408.1,221.2 L408.5,220.7 L408.9,220.2 L409.3,219.8 L409.6,219.3 L410,218.9 L410.4,218.4 L410.8,218 L411.2,217.5 L411.6,217.1 L412,216.6 L412.4,216.2 L412.8,215.8 L413.2,215.3 L413.6,214.9 L414,214.5 L414.4,214 L414.9,213.6 L415.3,213.2 L415.7,212.8 L416.1,212.4 L416.6,212 L417,211.6 L417.5,211.2 L417.9,210.8 L418.4,210.4 L418.8,210.1 L419.3,209.7 L419.8,209.3 L420.2,209 L420.7,208.6 L421.2,208.3 L421.7,207.9 L422.2,207.6 L422.6,207.2 L423.1,206.9 L423.6,206.5 L424.1,206.2 L424.6,205.9 L425.1,205.5 L425.6,205.2 L426.1,204.8 L426.6,204.5 L427,204.2 L427.5,203.8 L428,203.5 L428.5,203.2 L429,202.9 L429.5,202.6 L430.1,202.3 L430.6,202 L431.1,201.7 L431.6,201.4 L432.1,201.1 L432.7,200.8 L433.2,200.5 L433.7,200.3 L434.2,200 L434.8,199.7 L435.3,199.4 L435.8,199.2 L436.4,198.9 L436.9,198.7 L437.4,198.4 L438,198.2 L438.5,197.9 L439.1,197.7 L439.6,197.4 L440.2,197.2 L440.7,197 L441.3,196.7 L441.8,196.5 L442.4,196.3 L442.9,196.1 L443.5,195.9 L444,195.7 L444.6,195.5 L445.1,195.3 L445.7,195.1 L446.2,194.8 L446.8,194.7 L447.4,194.5 L447.9,194.3 L448.5,194.1 L449.1,193.9 L449.6,193.7 L450.2,193.5 L450.8,193.3 L451.3,193.2 L451.9,193 L452.5,192.8 L453.1,192.6 L453.6,192.5 L454.2,192.3 L454.8,192.1 L455.3,192 L455.9,191.8 L456.5,191.7 L457.1,191.5 L457.6,191.4 L458.2,191.2 L458.8,191.1 L459.4,190.9 L459.9,190.8 L460.5,190.6 L461.1,190.5 L461.7,190.4 L462.2,190.2 L462.8,190.1 L463.4,190 L464,189.9 L464.6,189.7 L465.1,189.6 L465.7,189.5 L466.3,189.4 L466.9,189.2 L467.5,189.1 L468.1,189 L468.7,188.9 L469.2,188.8 L469.8,188.7 L470.4,188.6 L471,188.5" fill="none" stroke="#401010" stroke-width="0.6"/>
<path d="M381.2,321h0M383,293.7h0M384.9,277.8h0M386.8,266.7h0M388.7,261.7h0M390.6,256.7h0M392.4,251h0M394.4,245.4h0M396.2,241.6h0M398.1,237.3h0M400.2,233h0M402.3,229.4h0M404.3,226.5h0M406.3,223.5h0M408.5,220.7h0M410.4,218.4h0M412.4,216.2h0M414.4,214h0M416.6,212h0M418.8,210.1h0M420.7,208.6h0M422.6,207.2h0M424.6,205.9h0M426.6,204.5h0M428.5,203.2h0M430.6,202h0M432.7,200.8h0M434.8,199.7h0M436.9,198.7h0M439.1,197.7h0M441.3,196.7h0M443.5,195.9h0M445.7,195.1h0M447.9,194.3h0M450.2,193.5h0M452.5,192.8h0M454.8,192.1h0M457.1,191.5h0M459.4,190.9h0M461.7,190.4h0M464,189.9h0M466.3,189.4h0M468.7,188.9h0M471,188.5h0" fill="none" stroke="#e8101a" stroke-width="3.0" stroke-linecap="round"/>
<path d="M381.2,321 L381.2,320.4 L381.2,319.8 L381.2,319.2 L381.2,318.6 L381.2,318 L381.3,317.4 L381.3,316.8 L381.3,316.2 L381.3,315.7 L381.3,315.1 L381.3,314.5 L381.4,313.9 L381.4,313.3 L381.4,312.7 L381.4,312.1 L381.5,311.5 L381.5,310.9 L381.5,310.3 L381.6,309.7 L381.6,309.1 L381.7,308.5 L381.7,307.9 L381.7,307.3 L381.8,306.8 L381.8,306.2 L381.9,305.6 L381.9,305 L382,304.4 L382,303.8 L382.1,303.2 L382.1,302.6 L382.2,302 L382.3,301.4 L382.3,300.8 L382.4,300.2 L382.4,299.6 L382.5,299.1 L382.5,298.5 L382.6,297.9 L382.7,297.3 L382.7,296.7 L382.8,296.1 L382.8,295.5 L382.9,294.9 L383,294.3 L383,293.7 L383.1,293.1 L383.2,292.5 L383.2,292 L383.3,291.4 L383.3,290.8 L383.4,290.2 L383.5,289.6 L383.5,289 L383.6,288.4 L383.7,287.8 L383.7,287.2 L383.8,286.6 L383.8,286 L383.9,285.5 L384,284.9 L384,284.3 L384.1,283.7 L384.2,283.1 L384.3,282.5 L384.3,281.9 L384.4,281.3 L384.5,280.7 L384.5,280.1 L384.6,279.6 L384.7,279 L384.8,278.4 L384.9,277.8 L384.9,277.2 L385,276.6 L385.1,276 L385.2,275.4 L385.3,274.8 L385.4,274.2 L385.4,273.7 L385.5,273.1 L385.6,272.5 L385.7,271.9 L385.8,271.3 L385.9,270.7 L386,270.1 L386.1,269.5 L386.3,269 L386.4,268.4 L386.5,267.8 L386.6,267.2 L386.8,266.7 L387,266.1 L387.1,265.5 L387.4,265 L387.6,264.4 L387.8,263.9 L388,263.3 L388.3,262.8 L388.5,262.2 L388.7,261.7 L389,261.1 L389.2,260.6 L389.4,260 L389.6,259.4 L389.8,258.9 L390,258.3 L390.2,257.8 L390.4,257.2 L390.6,256.7 L390.8,256.1 L391,255.5 L391.1,255 L391.3,254.4 L391.5,253.8 L391.7,253.3 L391.9,252.7 L392.1,252.1 L392.2,251.6 L392.4,251 L392.6,250.4 L392.8,249.9 L393,249.3 L393.2,248.7 L393.4,248.2 L393.5,247.6 L393.7,247 L393.9,246.5 L394.1,245.9 L394.4,245.4 L394.6,244.8 L394.9,244.3 L395.1,243.8 L395.4,243.2 L395.7,242.7 L395.9,242.2 L396.2,241.6 L396.4,241.1 L396.7,240.6 L396.9,240 L397.2,239.5 L397.4,238.9 L397.6,238.4 L397.8,237.8 L398.1,237.3 L398.3,236.7 L398.5,236.2 L398.8,235.6 L399,235.1 L399.3,234.6 L399.6,234.1 L399.9,233.5 L400.2,233 L400.4,232.5 L400.7,232 L401,231.5 L401.4,231 L401.7,230.4 L402,229.9 L402.3,229.4 L402.6,228.9 L402.9,228.4 L403.3,227.9 L403.6,227.4 L403.9,226.9 L404.3,226.5 L404.6,226 L404.9,225.5 L405.3,225 L405.6,224.5 L406,224 L406.3,223.5 L406.7,223.1 L407,222.6 L407.4,222.1 L407.8,221.6 L408.1,221.2 L408.5,220.7 L408.9,220.2 L409.3,219.8 L409.6,219.3 L410,218.9 L410.4,218.4 L410.8,218 L411.2,217.5 L411.6,217.1 L412,216.6 L412.4,216.2 L412.8,215.8 L413.2,215.3 L413.6,214.9 L414,214.5 L414.4,214 L414.9,213.6 L415.3,213.2 L415.7,212.8 L416.1,212.4 L416.6,212" fill="none" stroke="#401010" stroke-width="0.7" opacity="0.6"/>
</g>
<g clip-path="url(#cd)">
<path d="M288.7,272 L289.1,273.2 L289.4,274.3 L289.8,275.5 L290.1,276.6 L290.5,277.6 L290.8,278.5 L291.2,279.4 L291.6,280.1 L291.9,280.8 L292.3,281.4 L292.6,282 L293,282.6 L293.4,283.2 L293.7,283.7 L294.1,284.2 L294.4,284.7 L294.8,285.2 L295.1,285.7 L295.5,286.1 L295.9,286.6 L296.2,287 L296.6,287.4 L296.9,287.8 L297.3,288.2 L297.6,288.6 L298,288.9 L298.4,289.3 L298.7,289.7 L299.1,290.1 L299.4,290.4 L299.8,290.8 L300.1,291.2 L300.5,291.5 L300.9,291.9 L301.2,292.2 L301.6,292.6 L301.9,292.9 L302.3,293.2 L302.7,293.5 L303,293.9 L303.4,294.2 L303.7,294.5 L304.1,294.8 L304.4,295.1 L304.8,295.4 L305.2,295.7 L305.5,296 L305.9,296.3 L306.2,296.5 L306.6,296.8 L306.9,297.1 L307.3,297.4 L307.7,297.6 L308,297.9 L308.4,298.2 L308.7,298.4 L309.1,298.7 L309.4,299 L309.8,299.2 L310.2,299.5 L310.5,299.8 L310.9,300 L311.2,300.3 L311.6,300.5 L312,300.8 L312.3,301 L312.7,301.3 L313,301.5 L313.4,301.7 L313.7,302 L314.1,302.2 L314.5,302.4 L314.8,302.7 L315.2,302.9 L315.5,303.1 L315.9,303.3 L316.2,303.5 L316.6,303.8 L317,304 L317.3,304.2 L317.7,304.4 L318,304.6 L318.4,304.8 L318.7,305 L319.1,305.2 L319.5,305.4 L319.8,305.6 L320.2,305.7 L320.5,305.9 L320.9,306.1 L321.3,306.3 L321.6,306.5 L322,306.7 L322.3,306.8 L322.7,307 L323,307.2 L323.4,307.4 L323.8,307.5 L324.1,307.7 L324.5,307.9 L324.8,308.1 L325.2,308.3 L325.5,308.5 L325.9,308.6 L326.3,308.8 L326.6,309 L327,309.2 L327.3,309.4 L327.7,309.6 L328,309.7 L328.4,309.9 L328.8,310.1 L329.1,310.2 L329.5,310.4 L329.8,310.6 L330.2,310.7 L330.6,310.9 L330.9,311.1 L331.3,311.3 L331.6,311.4 L332,311.6 L332.3,311.8 L332.7,312 L333.1,312.1 L333.4,312.3 L333.8,312.5 L334.1,312.7 L334.5,312.9 L334.8,313.1 L335.2,313.3 L335.6,313.5 L335.9,313.8 L336.3,314 L336.6,314.2 L337,314.5 L337.3,314.7 L337.7,315 L338.1,315.3 L338.4,315.6 L338.8,315.9 L339.1,316.3 L339.5,316.6 L339.9,317 L340.2,317.4 L340.6,317.8 L340.9,318.2 L341.3,318.7 L341.6,319.1 L342,319.5" fill="none" stroke="#401010" stroke-width="0.6"/>
<path d="M288.7,272h0M290.5,277.7h0M292.3,281.5h0M294.2,284.4h0M296,286.7h0M297.8,288.8h0M299.6,290.6h0M301.5,292.5h0M303.3,294.1h0M305.1,295.6h0M306.9,297.1h0M308.8,298.5h0M310.6,299.8h0M312.4,301.1h0M314.2,302.3h0M316.1,303.4h0M317.9,304.5h0M319.7,305.5h0M321.5,306.4h0M323.4,307.3h0M325.2,308.3h0M327,309.2h0M328.8,310.1h0M330.7,311h0M332.5,311.8h0M334.3,312.8h0M336.1,313.9h0M337.9,315.2h0M339.8,316.9h0M341.6,319h0" fill="none" stroke="#e8101a" stroke-width="3.0" stroke-linecap="round"/>
<path d="M288.7,272 L289.1,273.2 L289.4,274.3 L289.8,275.5 L290.1,276.6 L290.5,277.6 L290.8,278.5 L291.2,279.4 L291.6,280.1 L291.9,280.8 L292.3,281.4 L292.6,282 L293,282.6 L293.4,283.2 L293.7,283.7 L294.1,284.2 L294.4,284.7 L294.8,285.2 L295.1,285.7 L295.5,286.1 L295.9,286.6 L296.2,287 L296.6,287.4 L296.9,287.8 L297.3,288.2 L297.6,288.6 L298,288.9 L298.4,289.3 L298.7,289.7 L299.1,290.1 L299.4,290.4 L299.8,290.8 L300.1,291.2 L300.5,291.5 L300.9,291.9 L301.2,292.2 L301.6,292.6 L301.9,292.9 L302.3,293.2" fill="none" stroke="#401010" stroke-width="0.7" opacity="0.6"/>
<path d="M338.8,315.9 L339.1,316.3 L339.5,316.6 L339.9,317 L340.2,317.4 L340.6,317.8 L340.9,318.2 L341.3,318.7 L341.6,319.1 L342,319.5" fill="none" stroke="#401010" stroke-width="0.7" opacity="0.6"/>
</g>
<path d="M390.2,253.1 L365.1,253.1" stroke="#f00c0c" stroke-width="1.5"/>
<path d="M355.6,253.1 L365.1,249.2 L363.9,253.1 L365.1,257 Z" fill="#f00c0c"/>
<path d="M434.8,297.9 L459.4,297.9" stroke="#2010e0" stroke-width="1.6"/>
<path d="M468.9,297.9 L459.4,294 L460.6,297.9 L459.4,301.8 Z" fill="#2010e0"/>
<text x="287.2" y="300.5" font-size="11.5" fill="#111" font-family="'Liberation Sans', Arial, sans-serif" text-anchor="end">1x10<tspan font-size="7.5" dy="-5.5">-9</tspan></text>
<text x="287.2" y="262.4" font-size="11.5" fill="#111" font-family="'Liberation Sans', Arial, sans-serif" text-anchor="end">1x10<tspan font-size="7.5" dy="-5.5">-8</tspan></text>
<text x="287.2" y="224.4" font-size="11.5" fill="#111" font-family="'Liberation Sans', Arial, sans-serif" text-anchor="end">1x10<tspan font-size="7.5" dy="-5.5">-7</tspan></text>
<text x="473.8" y="322.8" font-size="11.5" text-anchor="start" font-weight="normal" fill="#111" font-family="'Liberation Sans', Arial, sans-serif" >0</text>
<text x="473.8" y="296.1" font-size="11.5" fill="#111" font-family="'Liberation Sans', Arial, sans-serif" text-anchor="start">2x10<tspan font-size="7.5" dy="-5.5">-4</tspan></text>
<text x="473.8" y="269.4" font-size="11.5" fill="#111" font-family="'Liberation Sans', Arial, sans-serif" text-anchor="start">4x10<tspan font-size="7.5" dy="-5.5">-4</tspan></text>
<text x="473.8" y="242.7" font-size="11.5" fill="#111" font-family="'Liberation Sans', Arial, sans-serif" text-anchor="start">6x10<tspan font-size="7.5" dy="-5.5">-4</tspan></text>
<text x="473.8" y="216" font-size="11.5" fill="#111" font-family="'Liberation Sans', Arial, sans-serif" text-anchor="start">8x10<tspan font-size="7.5" dy="-5.5">-4</tspan></text>
<text x="473.8" y="189.3" font-size="11.5" fill="#111" font-family="'Liberation Sans', Arial, sans-serif" text-anchor="start">1x10<tspan font-size="7.5" dy="-5.5">-3</tspan></text>
<text x="306.8" y="331.3" font-size="11.5" text-anchor="middle" font-weight="normal" fill="#111" font-family="'Liberation Sans', Arial, sans-serif" >40</text>
<text x="343.3" y="331.3" font-size="11.5" text-anchor="middle" font-weight="normal" fill="#111" font-family="'Liberation Sans', Arial, sans-serif" >20</text>
<text x="379.8" y="331.3" font-size="11.5" text-anchor="middle" font-weight="normal" fill="#111" font-family="'Liberation Sans', Arial, sans-serif" >0</text>
<text x="417.2" y="331.3" font-size="11.5" text-anchor="middle" font-weight="normal" fill="#111" font-family="'Liberation Sans', Arial, sans-serif" >-20</text>
<text x="453.7" y="331.3" font-size="11.5" text-anchor="middle" font-weight="normal" fill="#111" font-family="'Liberation Sans', Arial, sans-serif" >-40</text>
<text x="361.3" y="340.5" font-size="12" fill="#111" font-family="'Liberation Sans', Arial, sans-serif" text-anchor="start" >V<tspan font-size="7.5" dy="4.3">GS</tspan><tspan dy="-4.3" dx="-0.8"> (V)</tspan></text>
<text x="289.8" y="199" font-size="12" fill="#111" font-family="'Liberation Sans', Arial, sans-serif" text-anchor="start" >V<tspan font-size="7.5" dy="4.3">DS</tspan><tspan dy="-4.3" dx="-0.8"> = -50 V</tspan></text>
<text x="243.6" y="187.3" font-size="16.5" text-anchor="start" font-weight="normal" fill="#111" font-family="'Liberation Sans', Arial, sans-serif" style="stroke-width:0.8px">(d)</text>
<text transform="translate(250.5,279) rotate(-90)" font-size="11" fill="#111" font-family="'Liberation Sans', Arial, sans-serif">I<tspan font-size="7" dy="3">DS</tspan><tspan dy="-3"> (-A)</tspan></text>
<text transform="translate(515.2,327.5) rotate(-90)" font-size="11" fill="#111" font-family="'Liberation Sans', Arial, sans-serif" textLength="156" lengthAdjust="spacingAndGlyphs">Square root of drain current (-A)</text>
<clipPath id="cf"><rect x="288.6" y="361.3" width="184.7" height="135.2"/></clipPath>
<rect x="288.6" y="361.3" width="184.7" height="135.2" fill="none" stroke="#222" stroke-width="1.5"/>
<path d="M454.8,496.5 v-3.5 M454.8,361.3 v3.5 M417.9,496.5 v-3.5 M417.9,361.3 v3.5 M380.9,496.5 v-3.5 M380.9,361.3 v3.5 M343.9,496.5 v-3.5 M343.9,361.3 v3.5 M307,496.5 v-3.5 M307,361.3 v3.5" stroke="#222" stroke-width="1" fill="none"/>
<path d="M473.3,496.5 v-2 M473.3,361.3 v2 M436.3,496.5 v-2 M436.3,361.3 v2 M399.4,496.5 v-2 M399.4,361.3 v2 M362.4,496.5 v-2 M362.4,361.3 v2 M325.5,496.5 v-2 M325.5,361.3 v2 M288.5,496.5 v-2 M288.5,361.3 v2" stroke="#222" stroke-width="1" fill="none"/>
<path d="M288.6,472.7 h3.5 M288.6,433.1 h3.5 M288.6,393.5 h3.5" stroke="#222" stroke-width="1" fill="none"/>
<path d="M288.6,493.4 h1.6 M288.6,488.5 h1.6 M288.6,484.6 h1.6 M288.6,481.5 h1.6 M288.6,478.8 h1.6 M288.6,476.5 h1.6 M288.6,474.5 h1.6 M288.6,460.8 h1.6 M288.6,453.8 h1.6 M288.6,448.9 h1.6 M288.6,445 h1.6 M288.6,441.9 h1.6 M288.6,439.2 h1.6 M288.6,436.9 h1.6 M288.6,434.9 h1.6 M288.6,421.2 h1.6 M288.6,414.2 h1.6 M288.6,409.3 h1.6 M288.6,405.4 h1.6 M288.6,402.3 h1.6 M288.6,399.6 h1.6 M288.6,397.3 h1.6 M288.6,395.3 h1.6 M288.6,381.6 h1.6 M288.6,374.6 h1.6 M288.6,369.7 h1.6 M288.6,365.8 h1.6 M288.6,362.7 h1.6" stroke="#222" stroke-width="1" fill="none"/>
<path d="M473.3,462.7 h-3.5 M473.3,428.9 h-3.5 M473.3,395.2 h-3.5 M473.3,361.4 h-3.5" stroke="#222" stroke-width="1" fill="none"/>
<path d="M473.3,479.6 h-2 M473.3,445.8 h-2 M473.3,412 h-2 M473.3,378.3 h-2" stroke="#222" stroke-width="1" fill="none"/>
<g clip-path="url(#cf)">
<path d="M288.6,485 L289.8,487.4 L291.1,489.1 L292.3,490.1 L293.6,490.8 L294.8,491.2 L296,491.5 L297.3,491.8 L298.5,492.1 L299.8,492.2 L301,492.4 L302.2,492.5 L303.5,492.5 L304.7,492.5 L306,492.6 L307.2,492.6 L308.4,492.6 L309.7,492.7 L310.9,492.7 L312.2,492.7 L313.4,492.7 L314.6,492.8 L315.9,492.8 L317.1,492.8 L318.4,492.8 L319.6,492.9 L320.8,492.9 L322.1,492.9 L323.3,492.9 L324.5,492.9 L325.8,493 L327,493 L328.3,493 L329.5,493 L330.7,493 L332,493 L333.2,493.1 L334.5,493.1 L335.7,493.1 L336.9,493.1 L338.2,493.1 L339.4,493.1 L340.7,493.1 L341.9,493.1 L343.1,493.2 L344.4,493.2 L345.6,493.2 L346.9,493.2 L348.1,493.2 L349.3,493.2 L350.6,493.2 L351.8,493.2 L353.1,493.2 L354.3,493.2 L355.5,493.2 L356.8,493.3 L358,493.3 L359.3,493.3 L360.5,493.3 L361.7,493.3 L363,493.3 L364.2,493.3 L365.5,493.3 L366.7,493.3 L367.9,493.3 L369.2,493.3 L370.4,493.3 L371.7,493.3 L372.9,493.3 L374.1,493.3 L375.4,493.3 L376.6,493.3 L377.9,493.3 L379.1,493.3 L380.3,493.3 L381.6,493.3 L382.8,493.3 L384,493.3 L385.3,493.3 L386.5,493.3 L387.8,493.3 L389,493.3 L390.2,493.3 L391.5,493.3 L392.7,493.3 L394,493.3 L395.2,493.3 L396.4,493.3 L397.7,493.3 L398.9,493.3 L400.2,493.3 L401.4,493.3 L402.6,493.3 L403.9,493.3 L405.1,493.2 L406.4,493.2 L407.6,493.2 L408.8,493.2 L410.1,493.2 L411.3,493.2 L412.6,493.2 L413.8,493.1 L415,492.9 L416.3,492.7 L417.5,492.5 L418.8,492.2 L420,492 L421.2,491.6 L422.5,491.2 L423.7,490.7 L425,490.1 L426.2,489 L427.4,487.4 L428.7,485.4 L429.9,483.2 L431.2,480.7 L432.4,478 L433.6,475.4 L434.9,473 L436.1,470.6 L437.4,468.2 L438.6,465.7 L439.8,463.3 L441.1,460.8 L442.3,458.3 L443.5,455.8 L444.8,453.3 L446,450.8 L447.3,448.2 L448.5,445.7 L449.7,443.1 L451,440.6 L452.2,438 L453.5,435.5 L454.7,433.1 L455.9,430.6 L457.2,428.1 L458.4,425.6 L459.7,423.1 L460.9,420.5 L462.1,417.8 L463.4,415.2 L464.6,412.5 L465.9,409.8 L467.1,407.1 L468.3,404.4 L469.6,401.7 L470.8,399 L472.1,396.2 L473.3,393.5" fill="none" stroke="#101040" stroke-width="0.6"/>
<path d="M288.6,485h0M290.4,488.4h0M292.3,490.1h0M294.1,491h0M296,491.5h0M297.8,491.9h0M299.7,492.2h0M301.5,492.4h0M303.4,492.5h0M305.2,492.6h0M307.1,492.6h0M308.9,492.6h0M310.8,492.7h0M312.6,492.7h0M314.5,492.8h0M316.3,492.8h0M318.2,492.8h0M320,492.9h0M321.9,492.9h0M323.7,492.9h0M325.6,493h0M327.4,493h0M329.3,493h0M331.1,493h0M333,493.1h0M334.8,493.1h0M336.6,493.1h0M338.5,493.1h0M340.3,493.1h0M342.2,493.2h0M344,493.2h0M345.9,493.2h0M347.7,493.2h0M349.6,493.2h0M351.4,493.2h0M353.3,493.2h0M355.1,493.2h0M357,493.3h0M358.8,493.3h0M360.7,493.3h0M362.5,493.3h0M364.4,493.3h0M366.2,493.3h0M368.1,493.3h0M369.9,493.3h0M371.8,493.3h0M373.6,493.3h0M375.5,493.3h0M377.3,493.3h0M379.2,493.3h0M381,493.3h0M382.8,493.3h0M384.7,493.3h0M386.5,493.3h0M388.4,493.3h0M390.2,493.3h0M392.1,493.3h0M393.9,493.3h0M395.8,493.3h0M397.6,493.3h0M399.5,493.3h0M401.3,493.3h0M403.2,493.3h0M405,493.2h0M406.9,493.2h0M408.7,493.2h0M410.6,493.2h0M412.4,493.2h0M414.3,493.1h0M416.1,492.8h0M418,492.4h0M419.8,492h0M421.7,491.5h0M423.5,490.8h0M425.4,489.8h0M427.2,487.7h0M429,484.8h0M430.9,481.2h0M432.7,477.2h0M434.6,473.5h0M436.4,469.9h0M438.3,466.3h0M440.1,462.6h0M442,458.9h0M443.8,455.2h0M445.7,451.5h0M447.5,447.7h0M449.4,443.9h0M451.2,440.1h0M453.1,436.3h0M454.9,432.6h0M456.8,429h0M458.6,425.2h0M460.5,421.4h0M462.3,417.5h0M464.2,413.5h0M466,409.5h0M467.9,405.5h0M469.7,401.4h0M471.6,397.4h0" fill="none" stroke="#2018d0" stroke-width="2.9" stroke-linecap="round"/>
<path d="M288.6,485 L289.8,487.4 L291.1,489.1 L292.3,490.1" fill="none" stroke="#101040" stroke-width="0.7" opacity="0.6"/>
<path d="M426.2,489 L427.4,487.4 L428.7,485.4 L429.9,483.2 L431.2,480.7 L432.4,478 L433.6,475.4 L434.9,473 L436.1,470.6 L437.4,468.2 L438.6,465.7 L439.8,463.3 L441.1,460.8 L442.3,458.3 L443.5,455.8 L444.8,453.3 L446,450.8 L447.3,448.2 L448.5,445.7 L449.7,443.1 L451,440.6 L452.2,438 L453.5,435.5 L454.7,433.1 L455.9,430.6 L457.2,428.1 L458.4,425.6 L459.7,423.1 L460.9,420.5 L462.1,417.8 L463.4,415.2 L464.6,412.5 L465.9,409.8 L467.1,407.1 L468.3,404.4 L469.6,401.7 L470.8,399 L472.1,396.2 L473.3,393.5" fill="none" stroke="#101040" stroke-width="0.7" opacity="0.6"/>
</g>
<g clip-path="url(#cf)">
<path d="M288.6,495.8 L289.8,495.8 L291.1,495.8 L292.3,495.8 L293.6,495.8 L294.8,495.8 L296,495.8 L297.3,495.8 L298.5,495.8 L299.8,495.8 L301,495.8 L302.2,495.8 L303.5,495.8 L304.7,495.8 L306,495.8 L307.2,495.8 L308.4,495.8 L309.7,495.8 L310.9,495.8 L312.2,495.8 L313.4,495.8 L314.6,495.8 L315.9,495.8 L317.1,495.8 L318.4,495.8 L319.6,495.8 L320.8,495.8 L322.1,495.8 L323.3,495.8 L324.5,495.8 L325.8,495.8 L327,495.8 L328.3,495.8 L329.5,495.8 L330.7,495.8 L332,495.8 L333.2,495.8 L334.5,495.8 L335.7,495.8 L336.9,495.8 L338.2,495.8 L339.4,495.8 L340.7,495.8 L341.9,495.8 L343.1,495.8 L344.4,495.8 L345.6,495.8 L346.9,495.8 L348.1,495.8 L349.3,495.8 L350.6,495.8 L351.8,495.8 L353.1,495.8 L354.3,495.8 L355.5,495.8 L356.8,495.8 L358,495.8 L359.3,495.8 L360.5,495.8 L361.7,495.8 L363,495.8 L364.2,495.8 L365.5,495.8 L366.7,495.8 L367.9,495.8 L369.2,495.8 L370.4,495.8 L371.7,495.8 L372.9,495.8 L374.1,495.8 L375.4,495.8 L376.6,495.8 L377.9,495.8 L379.1,495.8 L380.3,495.8 L381.6,495.8 L382.8,495.8 L384,495.8 L385.3,495.8 L386.5,495.8 L387.8,495.8 L389,495.8 L390.2,495.8 L391.5,495.8 L392.7,495.8 L394,495.6 L395.2,495.4 L396.4,495 L397.7,494.3 L398.9,492.9 L400.2,489.9 L401.4,487.1 L402.6,485 L403.9,483.1 L405.1,481.3 L406.4,479.6 L407.6,477.9 L408.8,476.4 L410.1,474.8 L411.3,473.4 L412.6,471.9 L413.8,470.5 L415,469.1 L416.3,467.7 L417.5,466.2 L418.8,464.7 L420,463.1 L421.2,461.5 L422.5,459.8 L423.7,458.1 L425,456.4 L426.2,454.6 L427.4,452.8 L428.7,451.1 L429.9,449.3 L431.2,447.5 L432.4,445.8 L433.6,444 L434.9,442.3 L436.1,440.5 L437.4,438.8 L438.6,437.1 L439.8,435.3 L441.1,433.6 L442.3,431.9 L443.5,430.1 L444.8,428.4 L446,426.7 L447.3,424.9 L448.5,423.2 L449.7,421.5 L451,419.7 L452.2,418 L453.5,416.2 L454.7,414.5 L455.9,412.8 L457.2,411 L458.4,409.3 L459.7,407.6 L460.9,405.9 L462.1,404.2 L463.4,402.5 L464.6,400.8 L465.9,399.1 L467.1,397.4 L468.3,395.7 L469.6,394 L470.8,392.3 L472.1,390.7 L473.3,389" fill="none" stroke="#101040" stroke-width="0.6"/>
<path d="M288.6,495.8h0M290.4,495.8h0M292.3,495.8h0M294.1,495.8h0M296,495.8h0M297.8,495.8h0M299.7,495.8h0M301.5,495.8h0M303.4,495.8h0M305.2,495.8h0M307.1,495.8h0M308.9,495.8h0M310.8,495.8h0M312.6,495.8h0M314.5,495.8h0M316.3,495.8h0M318.2,495.8h0M320,495.8h0M321.9,495.8h0M323.7,495.8h0M325.6,495.8h0M327.4,495.8h0M329.3,495.8h0M331.1,495.8h0M333,495.8h0M334.8,495.8h0M336.6,495.8h0M338.5,495.8h0M340.3,495.8h0M342.2,495.8h0M344,495.8h0M345.9,495.8h0M347.7,495.8h0M349.6,495.8h0M351.4,495.8h0M353.3,495.8h0M355.1,495.8h0M357,495.8h0M358.8,495.8h0M360.7,495.8h0M362.5,495.8h0M364.4,495.8h0M366.2,495.8h0M368.1,495.8h0M369.9,495.8h0M371.8,495.8h0M373.6,495.8h0M375.5,495.8h0M377.3,495.8h0M379.2,495.8h0M381,495.8h0M382.8,495.8h0M384.7,495.8h0M386.5,495.8h0M388.4,495.8h0M390.2,495.8h0M392.1,495.8h0M393.9,495.6h0M395.8,495.3h0M397.6,494.3h0M399.5,491.7h0M401.3,487.3h0M403.2,484.2h0M405,481.4h0M406.9,478.9h0M408.7,476.5h0M410.6,474.3h0M412.4,472.1h0M414.3,470h0M416.1,467.9h0M418,465.7h0M419.8,463.4h0M421.7,460.9h0M423.5,458.4h0M425.4,455.8h0M427.2,453.2h0M429,450.5h0M430.9,447.9h0M432.7,445.3h0M434.6,442.7h0M436.4,440.1h0M438.3,437.5h0M440.1,434.9h0M442,432.3h0M443.8,429.8h0M445.7,427.2h0M447.5,424.6h0M449.4,422h0M451.2,419.4h0M453.1,416.8h0M454.9,414.2h0M456.8,411.6h0M458.6,409.1h0M460.5,406.5h0M462.3,404h0M464.2,401.4h0M466,398.9h0M467.9,396.4h0M469.7,393.9h0M471.6,391.4h0" fill="none" stroke="#2018d0" stroke-width="2.9" stroke-linecap="round"/>
<path d="M397.7,494.3 L398.9,492.9 L400.2,489.9 L401.4,487.1 L402.6,485 L403.9,483.1 L405.1,481.3 L406.4,479.6 L407.6,477.9 L408.8,476.4 L410.1,474.8 L411.3,473.4 L412.6,471.9 L413.8,470.5 L415,469.1 L416.3,467.7 L417.5,466.2 L418.8,464.7 L420,463.1 L421.2,461.5 L422.5,459.8 L423.7,458.1 L425,456.4 L426.2,454.6 L427.4,452.8 L428.7,451.1 L429.9,449.3 L431.2,447.5 L432.4,445.8 L433.6,444 L434.9,442.3 L436.1,440.5 L437.4,438.8 L438.6,437.1 L439.8,435.3 L441.1,433.6 L442.3,431.9 L443.5,430.1 L444.8,428.4 L446,426.7 L447.3,424.9 L448.5,423.2 L449.7,421.5 L451,419.7 L452.2,418 L453.5,416.2 L454.7,414.5 L455.9,412.8 L457.2,411 L458.4,409.3 L459.7,407.6 L460.9,405.9 L462.1,404.2 L463.4,402.5 L464.6,400.8 L465.9,399.1 L467.1,397.4 L468.3,395.7 L469.6,394 L470.8,392.3 L472.1,390.7 L473.3,389" fill="none" stroke="#101040" stroke-width="0.7" opacity="0.6"/>
</g>
<path d="M430.4,496.8 L473.3,393" stroke="#111" stroke-width="1" clip-path="url(#cf)"/>
<g clip-path="url(#cf)">
<path d="M288.6,474.6 L289.8,475.1 L291.1,475.5 L292.3,476 L293.6,476.4 L294.8,476.9 L296,477.3 L297.3,477.7 L298.5,478.1 L299.8,478.5 L301,478.8 L302.2,479.1 L303.5,479.5 L304.7,479.8 L306,480.1 L307.2,480.4 L308.4,480.6 L309.7,480.9 L310.9,481.2 L312.2,481.4 L313.4,481.6 L314.6,481.9 L315.9,482.1 L317.1,482.3 L318.4,482.6 L319.6,482.8 L320.8,483 L322.1,483.2 L323.3,483.4 L324.5,483.6 L325.8,483.9 L327,484.1 L328.3,484.3 L329.5,484.4 L330.7,484.6 L332,484.8 L333.2,485 L334.5,485.2 L335.7,485.4 L336.9,485.5 L338.2,485.7 L339.4,485.9 L340.7,486.1 L341.9,486.2 L343.1,486.4 L344.4,486.6 L345.6,486.7 L346.9,486.9 L348.1,487 L349.3,487.2 L350.6,487.4 L351.8,487.5 L353.1,487.7 L354.3,487.8 L355.5,488 L356.8,488.1 L358,488.2 L359.3,488.3 L360.5,488.5 L361.7,488.6 L363,488.7 L364.2,488.8 L365.5,488.9 L366.7,489.1 L367.9,489.2 L369.2,489.3 L370.4,489.4 L371.7,489.5 L372.9,489.7 L374.1,489.8 L375.4,489.9 L376.6,489.9 L377.9,490 L379.1,490.1 L380.3,490.1 L381.6,490.2 L382.8,490.2 L384,490.2 L385.3,490.2 L386.5,490.2 L387.8,490.2 L389,490.2 L390.2,490.2 L391.5,490.2 L392.7,490.1 L394,490.1 L395.2,490.1 L396.4,490.1 L397.7,490 L398.9,490 L400.2,490 L401.4,490 L402.6,489.9 L403.9,489.9 L405.1,489.8 L406.4,489.7 L407.6,489.6 L408.8,489.5 L410.1,489.4 L411.3,489.3 L412.6,489.1 L413.8,488.9 L415,488.6 L416.3,488.3 L417.5,487.8 L418.8,487 L420,486 L421.2,484.5 L422.5,481.5 L423.7,477 L425,472 L426.2,466.6 L427.4,460.4 L428.7,454.6 L429.9,449.7 L431.2,445.3 L432.4,441.4 L433.6,437.8 L434.9,434.5 L436.1,431.4 L437.4,428.5 L438.6,425.9 L439.8,423.6 L441.1,421.4 L442.3,419.4 L443.5,417.4 L444.8,415.4 L446,413.4 L447.3,411.4 L448.5,409.3 L449.7,407.3 L451,405.3 L452.2,403.2 L453.5,401.2 L454.7,399.1 L455.9,397 L457.2,394.8 L458.4,392.7 L459.7,390.6 L460.9,388.5 L462.1,386.6 L463.4,384.8 L464.6,383.1 L465.9,381.4 L467.1,379.8 L468.3,378.2 L469.6,376.5 L470.8,374.7 L472.1,372.9 L473.3,371" fill="none" stroke="#401010" stroke-width="0.6"/>
<path d="M288.6,474.6h0M290.4,475.3h0M292.3,476h0M294.1,476.6h0M296,477.3h0M297.8,477.9h0M299.7,478.4h0M301.5,479h0M303.4,479.4h0M305.2,479.9h0M307.1,480.3h0M308.9,480.7h0M310.8,481.1h0M312.6,481.5h0M314.5,481.9h0M316.3,482.2h0M318.2,482.5h0M320,482.9h0M321.9,483.2h0M323.7,483.5h0M325.6,483.8h0M327.4,484.1h0M329.3,484.4h0M331.1,484.7h0M333,485h0M334.8,485.2h0M336.6,485.5h0M338.5,485.8h0M340.3,486h0M342.2,486.3h0M344,486.5h0M345.9,486.8h0M347.7,487h0M349.6,487.2h0M351.4,487.5h0M353.3,487.7h0M355.1,487.9h0M357,488.1h0M358.8,488.3h0M360.7,488.5h0M362.5,488.7h0M364.4,488.8h0M366.2,489h0M368.1,489.2h0M369.9,489.4h0M371.8,489.6h0M373.6,489.7h0M375.5,489.9h0M377.3,490h0M379.2,490.1h0M381,490.2h0M382.8,490.2h0M384.7,490.2h0M386.5,490.2h0M388.4,490.2h0M390.2,490.2h0M392.1,490.1h0M393.9,490.1h0M395.8,490.1h0M397.6,490h0M399.5,490h0M401.3,490h0M403.2,489.9h0M405,489.8h0M406.9,489.7h0M408.7,489.5h0M410.6,489.4h0M412.4,489.1h0M414.3,488.8h0M416.1,488.3h0M418,487.6h0M419.8,486.2h0M421.7,483.7h0M423.5,477.8h0M425.4,470.4h0M427.2,461.6h0M429,453h0M430.9,446.2h0M432.7,440.3h0M434.6,435.2h0M436.4,430.6h0M438.3,426.5h0M440.1,423h0M442,419.9h0M443.8,417h0M445.7,414h0M447.5,411h0M449.4,407.9h0M451.2,404.9h0M453.1,401.8h0M454.9,398.8h0M456.8,395.6h0M458.6,392.4h0M460.5,389.2h0M462.3,386.3h0M464.2,383.7h0M466,381.2h0M467.9,378.8h0M469.7,376.3h0M471.6,373.6h0" fill="none" stroke="#e8101a" stroke-width="3.0" stroke-linecap="round"/>
<path d="M420,486 L421.2,484.5 L422.5,481.5 L423.7,477 L425,472 L426.2,466.6 L427.4,460.4 L428.7,454.6 L429.9,449.7 L431.2,445.3 L432.4,441.4 L433.6,437.8 L434.9,434.5 L436.1,431.4 L437.4,428.5 L438.6,425.9 L439.8,423.6 L441.1,421.4 L442.3,419.4 L443.5,417.4 L444.8,415.4 L446,413.4 L447.3,411.4 L448.5,409.3 L449.7,407.3 L451,405.3 L452.2,403.2 L453.5,401.2 L454.7,399.1 L455.9,397 L457.2,394.8 L458.4,392.7 L459.7,390.6 L460.9,388.5 L462.1,386.6 L463.4,384.8 L464.6,383.1 L465.9,381.4 L467.1,379.8 L468.3,378.2 L469.6,376.5 L470.8,374.7 L472.1,372.9 L473.3,371" fill="none" stroke="#401010" stroke-width="0.7" opacity="0.6"/>
</g>
<g clip-path="url(#cf)">
<path d="M397,498 L397,497.5 L397,496.9 L397,496.4 L397,495.9 L397,495.3 L397,494.8 L397,494.3 L397,493.7 L397,493.2 L397,492.7 L397.1,492.1 L397.1,491.6 L397.1,491.1 L397.1,490.5 L397.1,490 L397.1,489.5 L397.1,488.9 L397.1,488.4 L397.2,487.9 L397.2,487.3 L397.2,486.8 L397.3,486.3 L397.3,485.7 L397.3,485.2 L397.4,484.7 L397.4,484.1 L397.4,483.6 L397.5,483.1 L397.5,482.6 L397.6,482 L397.6,481.5 L397.7,481 L397.8,480.4 L397.8,479.9 L397.9,479.4 L398,478.9 L398.1,478.3 L398.2,477.8 L398.2,477.3 L398.3,476.7 L398.4,476.2 L398.5,475.7 L398.6,475.2 L398.7,474.6 L398.8,474.1 L398.9,473.6 L399,473.1 L399.1,472.5 L399.2,472 L399.3,471.5 L399.4,471 L399.5,470.5 L399.6,469.9 L399.8,469.4 L399.9,468.9 L400,468.4 L400.1,467.9 L400.3,467.3 L400.4,466.8 L400.5,466.3 L400.6,465.8 L400.8,465.3 L400.9,464.8 L401,464.2 L401.1,463.7 L401.2,463.2 L401.4,462.7 L401.5,462.2 L401.6,461.6 L401.7,461.1 L401.8,460.6 L401.9,460.1 L402,459.6 L402.2,459 L402.3,458.5 L402.4,458 L402.5,457.5 L402.6,456.9 L402.7,456.4 L402.8,455.9 L402.9,455.4 L403,454.8 L403.1,454.3 L403.2,453.8 L403.3,453.3 L403.5,452.8 L403.6,452.2 L403.7,451.7 L403.8,451.2 L403.9,450.7 L404,450.1 L404.1,449.6 L404.2,449.1 L404.3,448.6 L404.5,448.1 L404.6,447.5 L404.7,447 L404.8,446.5 L404.9,446 L405,445.5 L405.2,444.9 L405.3,444.4 L405.4,443.9 L405.5,443.4 L405.7,442.9 L405.8,442.4 L405.9,441.8 L406,441.3 L406.2,440.8 L406.3,440.3 L406.5,439.8 L406.6,439.3 L406.7,438.8 L406.9,438.2 L407,437.7 L407.2,437.2 L407.3,436.7 L407.5,436.2 L407.6,435.7 L407.8,435.2 L407.9,434.6 L408.1,434.1 L408.2,433.6 L408.4,433.1 L408.5,432.6 L408.7,432.1 L408.9,431.6 L409,431.1 L409.2,430.5 L409.4,430 L409.5,429.5 L409.7,429 L409.9,428.5 L410.1,428 L410.3,427.5 L410.4,427 L410.6,426.5 L410.8,426 L411,425.5 L411.2,425.1 L411.4,424.6 L411.6,424.1 L411.8,423.6 L412.1,423.1 L412.3,422.6 L412.5,422.2 L412.7,421.7 L413,421.2 L413.2,420.8 L413.5,420.3 L413.7,419.8 L414,419.4 L414.3,418.9 L414.5,418.4 L414.8,418 L415.1,417.5 L415.4,417.1 L415.7,416.6 L416,416.2 L416.3,415.7 L416.5,415.3 L416.8,414.8 L417.1,414.4 L417.4,413.9 L417.7,413.5 L418,413 L418.3,412.6 L418.6,412.1 L418.9,411.7 L419.2,411.2 L419.5,410.8 L419.8,410.4 L420.1,409.9 L420.4,409.5 L420.7,409 L421,408.6 L421.3,408.1 L421.6,407.7 L421.9,407.3 L422.2,406.8 L422.5,406.4 L422.8,405.9 L423.2,405.5 L423.5,405.1 L423.8,404.6 L424.1,404.2 L424.4,403.8 L424.7,403.3 L425.1,402.9 L425.4,402.5 L425.7,402.1 L426.1,401.7 L426.4,401.3 L426.7,400.9 L427.1,400.5 L427.4,400.1 L427.8,399.7 L428.2,399.3 L428.5,398.9 L428.9,398.6 L429.3,398.2 L429.7,397.8 L430,397.4 L430.4,397.1 L430.8,396.7 L431.2,396.4 L431.6,396 L432,395.7 L432.4,395.3 L432.8,395 L433.2,394.6 L433.7,394.3 L434.1,393.9 L434.5,393.6 L434.9,393.3 L435.3,392.9 L435.7,392.6 L436.2,392.3 L436.6,391.9 L437,391.6 L437.4,391.3 L437.8,390.9 L438.3,390.6 L438.7,390.3 L439.1,389.9 L439.5,389.6 L439.9,389.3 L440.4,389 L440.8,388.6 L441.2,388.3 L441.6,388 L442.1,387.7 L442.5,387.4 L442.9,387 L443.4,386.7 L443.8,386.4 L444.2,386.1 L444.7,385.8 L445.1,385.5 L445.5,385.1 L446,384.8 L446.4,384.5 L446.8,384.2 L447.3,383.9 L447.7,383.6 L448.2,383.3 L448.6,383 L449.1,382.8 L449.5,382.5 L450,382.2 L450.4,381.9 L450.9,381.6 L451.3,381.4 L451.8,381.1 L452.2,380.8 L452.7,380.6 L453.2,380.3 L453.6,380.1 L454.1,379.8 L454.6,379.6 L455,379.3 L455.5,379.1 L456,378.8 L456.5,378.6 L457,378.4 L457.4,378.1 L457.9,377.9 L458.4,377.7 L458.9,377.5 L459.4,377.2 L459.8,377 L460.3,376.8 L460.8,376.5 L461.3,376.3 L461.8,376.1 L462.3,375.9 L462.8,375.6 L463.2,375.4 L463.7,375.2 L464.2,374.9 L464.7,374.7 L465.2,374.5 L465.6,374.2 L466.1,374 L466.6,373.8 L467.1,373.5 L467.5,373.3 L468,373.1 L468.5,372.8 L469,372.6 L469.5,372.4 L469.9,372.1 L470.4,371.9 L470.9,371.7 L471.4,371.4 L471.9,371.2 L472.3,371 L472.8,370.7 L473.3,370.5" fill="none" stroke="#401010" stroke-width="0.6"/>
<path d="M397,498h0M398.9,473.6h0M400.8,465.3h0M402.7,456.4h0M404.6,447.5h0M406.5,439.8h0M408.4,433.1h0M410.3,427.5h0M412.3,422.6h0M414.3,418.9h0M416.3,415.7h0M418.3,412.6h0M420.4,409.5h0M422.5,406.4h0M424.4,403.8h0M426.4,401.3h0M428.5,398.9h0M430.4,397.1h0M432.4,395.3h0M434.5,393.6h0M436.6,391.9h0M438.7,390.3h0M440.8,388.6h0M442.9,387h0M445.1,385.5h0M447.3,383.9h0M449.5,382.5h0M451.8,381.1h0M453.6,380.1h0M455.5,379.1h0M457.4,378.1h0M459.4,377.2h0M461.3,376.3h0M463.2,375.4h0M465.2,374.5h0M467.1,373.5h0M469,372.6h0M470.9,371.7h0M472.8,370.7h0" fill="none" stroke="#e8101a" stroke-width="3.0" stroke-linecap="round"/>
<path d="M397,498 L397,497.5 L397,496.9 L397,496.4 L397,495.9 L397,495.3 L397,494.8 L397,494.3 L397,493.7 L397,493.2 L397,492.7 L397.1,492.1 L397.1,491.6 L397.1,491.1 L397.1,490.5 L397.1,490 L397.1,489.5 L397.1,488.9 L397.1,488.4 L397.2,487.9 L397.2,487.3 L397.2,486.8 L397.3,486.3 L397.3,485.7 L397.3,485.2 L397.4,484.7 L397.4,484.1 L397.4,483.6 L397.5,483.1 L397.5,482.6 L397.6,482 L397.6,481.5 L397.7,481 L397.8,480.4 L397.8,479.9 L397.9,479.4 L398,478.9 L398.1,478.3 L398.2,477.8 L398.2,477.3 L398.3,476.7 L398.4,476.2 L398.5,475.7 L398.6,475.2 L398.7,474.6 L398.8,474.1 L398.9,473.6 L399,473.1 L399.1,472.5 L399.2,472 L399.3,471.5 L399.4,471 L399.5,470.5 L399.6,469.9 L399.8,469.4 L399.9,468.9 L400,468.4 L400.1,467.9 L400.3,467.3 L400.4,466.8 L400.5,466.3 L400.6,465.8 L400.8,465.3 L400.9,464.8 L401,464.2 L401.1,463.7 L401.2,463.2 L401.4,462.7 L401.5,462.2 L401.6,461.6 L401.7,461.1 L401.8,460.6 L401.9,460.1 L402,459.6 L402.2,459 L402.3,458.5 L402.4,458 L402.5,457.5 L402.6,456.9 L402.7,456.4 L402.8,455.9 L402.9,455.4 L403,454.8 L403.1,454.3 L403.2,453.8 L403.3,453.3 L403.5,452.8 L403.6,452.2 L403.7,451.7 L403.8,451.2 L403.9,450.7 L404,450.1 L404.1,449.6 L404.2,449.1 L404.3,448.6 L404.5,448.1 L404.6,447.5 L404.7,447 L404.8,446.5 L404.9,446 L405,445.5 L405.2,444.9 L405.3,444.4 L405.4,443.9 L405.5,443.4 L405.7,442.9 L405.8,442.4 L405.9,441.8 L406,441.3 L406.2,440.8 L406.3,440.3 L406.5,439.8 L406.6,439.3 L406.7,438.8 L406.9,438.2 L407,437.7 L407.2,437.2 L407.3,436.7 L407.5,436.2 L407.6,435.7 L407.8,435.2 L407.9,434.6 L408.1,434.1 L408.2,433.6 L408.4,433.1 L408.5,432.6 L408.7,432.1 L408.9,431.6 L409,431.1 L409.2,430.5 L409.4,430 L409.5,429.5 L409.7,429 L409.9,428.5 L410.1,428 L410.3,427.5 L410.4,427 L410.6,426.5 L410.8,426 L411,425.5 L411.2,425.1 L411.4,424.6 L411.6,424.1 L411.8,423.6 L412.1,423.1 L412.3,422.6 L412.5,422.2 L412.7,421.7 L413,421.2 L413.2,420.8 L413.5,420.3 L413.7,419.8 L414,419.4 L414.3,418.9 L414.5,418.4 L414.8,418 L415.1,417.5 L415.4,417.1 L415.7,416.6 L416,416.2 L416.3,415.7 L416.5,415.3 L416.8,414.8 L417.1,414.4 L417.4,413.9 L417.7,413.5 L418,413 L418.3,412.6 L418.6,412.1 L418.9,411.7 L419.2,411.2 L419.5,410.8 L419.8,410.4 L420.1,409.9 L420.4,409.5 L420.7,409 L421,408.6 L421.3,408.1 L421.6,407.7 L421.9,407.3 L422.2,406.8 L422.5,406.4 L422.8,405.9 L423.2,405.5 L423.5,405.1 L423.8,404.6 L424.1,404.2 L424.4,403.8 L424.7,403.3 L425.1,402.9 L425.4,402.5 L425.7,402.1 L426.1,401.7 L426.4,401.3 L426.7,400.9 L427.1,400.5 L427.4,400.1 L427.8,399.7 L428.2,399.3 L428.5,398.9 L428.9,398.6 L429.3,398.2 L429.7,397.8 L430,397.4 L430.4,397.1 L430.8,396.7" fill="none" stroke="#401010" stroke-width="0.7" opacity="0.6"/>
</g>
<g clip-path="url(#cf)">
<path d="M288.8,451.5 L289,452 L289.1,452.6 L289.3,453.1 L289.5,453.6 L289.6,454.2 L289.8,454.7 L290,455.2 L290.2,455.7 L290.3,456.2 L290.5,456.7 L290.7,457.2 L290.8,457.7 L291,458.2 L291.2,458.7 L291.3,459.1 L291.5,459.6 L291.7,460.1 L291.8,460.5 L292,461 L292.2,461.5 L292.4,461.9 L292.5,462.3 L292.7,462.8 L292.9,463.2 L293,463.6 L293.2,464 L293.4,464.4 L293.5,464.8 L293.7,465.2 L293.9,465.6 L294,466 L294.2,466.4 L294.4,466.8 L294.6,467.1 L294.7,467.5 L294.9,467.9 L295.1,468.2 L295.2,468.6 L295.4,468.9 L295.6,469.3 L295.7,469.6 L295.9,470 L296.1,470.3 L296.2,470.6 L296.4,471 L296.6,471.3 L296.7,471.6 L296.9,471.9 L297.1,472.3 L297.3,472.6 L297.4,472.9 L297.6,473.2 L297.8,473.5 L297.9,473.8 L298.1,474.1 L298.3,474.4 L298.4,474.8 L298.6,475.1 L298.8,475.4 L298.9,475.7 L299.1,476 L299.3,476.3 L299.5,476.6 L299.6,476.9 L299.8,477.2 L300,477.5 L300.1,477.8 L300.3,478.1 L300.5,478.5 L300.6,478.8 L300.8,479.1 L301,479.4 L301.1,479.7 L301.3,480 L301.5,480.3 L301.7,480.6 L301.8,480.9 L302,481.2 L302.2,481.5 L302.3,481.8 L302.5,482.1 L302.7,482.4 L302.8,482.7 L303,483 L303.2,483.2 L303.3,483.5 L303.5,483.8 L303.7,484.1 L303.9,484.3 L304,484.6 L304.2,484.8 L304.4,485.1 L304.5,485.3 L304.7,485.5 L304.9,485.8 L305,486 L305.2,486.2 L305.4,486.4 L305.5,486.6 L305.7,486.8 L305.9,487 L306.1,487.2 L306.2,487.3 L306.4,487.5 L306.6,487.7 L306.7,487.8 L306.9,488 L307.1,488.1 L307.2,488.3 L307.4,488.4 L307.6,488.6 L307.7,488.7 L307.9,488.9 L308.1,489 L308.2,489.2 L308.4,489.3 L308.6,489.5 L308.8,489.6 L308.9,489.8 L309.1,489.9 L309.3,490.1 L309.4,490.2 L309.6,490.4 L309.8,490.6 L309.9,490.8 L310.1,490.9 L310.3,491.1 L310.4,491.3 L310.6,491.5 L310.8,491.8 L311,492 L311.1,492.2 L311.3,492.5 L311.5,492.7 L311.6,493 L311.8,493.3 L312,493.5 L312.1,493.8 L312.3,494.1 L312.5,494.5 L312.6,494.8 L312.8,495.1 L313,495.4 L313.2,495.8 L313.3,496.1 L313.5,496.4 L313.7,496.8 L313.8,497.1 L314,497.5" fill="none" stroke="#401010" stroke-width="0.6"/>
<path d="M288.8,451.5h0M290.6,457.2h0M292.5,462.3h0M294.3,466.7h0M296.2,470.5h0M298,474h0M299.9,477.4h0M301.7,480.8h0M303.6,483.9h0M305.4,486.5h0M307.3,488.3h0M309.1,489.9h0M311,492h0M312.8,495.1h0" fill="none" stroke="#e8101a" stroke-width="3.0" stroke-linecap="round"/>
<path d="M288.8,451.5 L289,452 L289.1,452.6 L289.3,453.1 L289.5,453.6 L289.6,454.2 L289.8,454.7 L290,455.2 L290.2,455.7 L290.3,456.2 L290.5,456.7 L290.7,457.2 L290.8,457.7 L291,458.2 L291.2,458.7 L291.3,459.1 L291.5,459.6 L291.7,460.1 L291.8,460.5 L292,461 L292.2,461.5 L292.4,461.9 L292.5,462.3 L292.7,462.8 L292.9,463.2 L293,463.6 L293.2,464 L293.4,464.4 L293.5,464.8 L293.7,465.2 L293.9,465.6 L294,466 L294.2,466.4 L294.4,466.8 L294.6,467.1 L294.7,467.5 L294.9,467.9 L295.1,468.2 L295.2,468.6 L295.4,468.9 L295.6,469.3 L295.7,469.6 L295.9,470 L296.1,470.3 L296.2,470.6 L296.4,471 L296.6,471.3 L296.7,471.6 L296.9,471.9 L297.1,472.3 L297.3,472.6 L297.4,472.9 L297.6,473.2 L297.8,473.5 L297.9,473.8 L298.1,474.1 L298.3,474.4 L298.4,474.8 L298.6,475.1 L298.8,475.4 L298.9,475.7 L299.1,476 L299.3,476.3 L299.5,476.6 L299.6,476.9 L299.8,477.2 L300,477.5 L300.1,477.8 L300.3,478.1 L300.5,478.5 L300.6,478.8 L300.8,479.1 L301,479.4 L301.1,479.7 L301.3,480 L301.5,480.3 L301.7,480.6 L301.8,480.9 L302,481.2 L302.2,481.5 L302.3,481.8 L302.5,482.1 L302.7,482.4 L302.8,482.7 L303,483 L303.2,483.2 L303.3,483.5 L303.5,483.8 L303.7,484.1 L303.9,484.3 L304,484.6 L304.2,484.8 L304.4,485.1 L304.5,485.3 L304.7,485.5 L304.9,485.8 L305,486 L305.2,486.2 L305.4,486.4 L305.5,486.6 L305.7,486.8 L305.9,487 L306.1,487.2 L306.2,487.3 L306.4,487.5 L306.6,487.7 L306.7,487.8 L306.9,488" fill="none" stroke="#401010" stroke-width="0.7" opacity="0.6"/>
<path d="M308.9,489.8 L309.1,489.9 L309.3,490.1 L309.4,490.2 L309.6,490.4 L309.8,490.6 L309.9,490.8 L310.1,490.9 L310.3,491.1 L310.4,491.3 L310.6,491.5 L310.8,491.8 L311,492 L311.1,492.2 L311.3,492.5 L311.5,492.7 L311.6,493 L311.8,493.3 L312,493.5 L312.1,493.8 L312.3,494.1 L312.5,494.5 L312.6,494.8 L312.8,495.1 L313,495.4 L313.2,495.8 L313.3,496.1 L313.5,496.4 L313.7,496.8 L313.8,497.1 L314,497.5" fill="none" stroke="#401010" stroke-width="0.7" opacity="0.6"/>
</g>
<path d="M288.9,440 L288.9,452" stroke="#222" stroke-width="1.2"/>
<path d="M406.6,424.8 L381,424.8" stroke="#f00c0c" stroke-width="1.5"/>
<path d="M371.5,424.8 L381,420.9 L379.8,424.8 L381,428.7 Z" fill="#f00c0c"/>
<path d="M445,471.7 L461.6,471.7" stroke="#2010e0" stroke-width="1.6"/>
<path d="M471.1,471.7 L461.6,467.8 L462.8,471.7 L461.6,475.6 Z" fill="#2010e0"/>
<text x="287.1" y="476.7" font-size="11.5" fill="#111" font-family="'Liberation Sans', Arial, sans-serif" text-anchor="end">1x10<tspan font-size="7.5" dy="-5.5">-9</tspan></text>
<text x="287.1" y="437.1" font-size="11.5" fill="#111" font-family="'Liberation Sans', Arial, sans-serif" text-anchor="end">1x10<tspan font-size="7.5" dy="-5.5">-8</tspan></text>
<text x="287.1" y="397.5" font-size="11.5" fill="#111" font-family="'Liberation Sans', Arial, sans-serif" text-anchor="end">1x10<tspan font-size="7.5" dy="-5.5">-7</tspan></text>
<text x="476.1" y="500.5" font-size="11.5" text-anchor="start" font-weight="normal" fill="#111" font-family="'Liberation Sans', Arial, sans-serif" >0</text>
<text x="476.1" y="466.7" font-size="11.5" fill="#111" font-family="'Liberation Sans', Arial, sans-serif" text-anchor="start">2x10<tspan font-size="7.5" dy="-5.5">-4</tspan></text>
<text x="476.1" y="432.9" font-size="11.5" fill="#111" font-family="'Liberation Sans', Arial, sans-serif" text-anchor="start">4x10<tspan font-size="7.5" dy="-5.5">-4</tspan></text>
<text x="476.1" y="399.2" font-size="11.5" fill="#111" font-family="'Liberation Sans', Arial, sans-serif" text-anchor="start">6x10<tspan font-size="7.5" dy="-5.5">-4</tspan></text>
<text x="476.1" y="365.4" font-size="11.5" fill="#111" font-family="'Liberation Sans', Arial, sans-serif" text-anchor="start">8x10<tspan font-size="7.5" dy="-5.5">-4</tspan></text>
<text x="307" y="507.8" font-size="11.5" text-anchor="middle" font-weight="normal" fill="#111" font-family="'Liberation Sans', Arial, sans-serif" >40</text>
<text x="343.9" y="507.8" font-size="11.5" text-anchor="middle" font-weight="normal" fill="#111" font-family="'Liberation Sans', Arial, sans-serif" >20</text>
<text x="380.9" y="507.8" font-size="11.5" text-anchor="middle" font-weight="normal" fill="#111" font-family="'Liberation Sans', Arial, sans-serif" >0</text>
<text x="418.8" y="507.8" font-size="11.5" text-anchor="middle" font-weight="normal" fill="#111" font-family="'Liberation Sans', Arial, sans-serif" >-20</text>
<text x="455.7" y="507.8" font-size="11.5" text-anchor="middle" font-weight="normal" fill="#111" font-family="'Liberation Sans', Arial, sans-serif" >-40</text>
<text x="363.4" y="518" font-size="12" fill="#111" font-family="'Liberation Sans', Arial, sans-serif" text-anchor="start" >V<tspan font-size="7.5" dy="4.3">GS</tspan><tspan dy="-4.3" dx="-0.8"> (V)</tspan></text>
<text x="291.7" y="376.9" font-size="12" fill="#111" font-family="'Liberation Sans', Arial, sans-serif" text-anchor="start" >V<tspan font-size="7.5" dy="4.3">DS</tspan><tspan dy="-4.3" dx="-0.8"> = -50 V</tspan></text>
<text x="243.9" y="375.8" font-size="16.5" text-anchor="start" font-weight="normal" fill="#111" font-family="'Liberation Sans', Arial, sans-serif" style="stroke-width:0.8px">(f)</text>
<text transform="translate(248,462) rotate(-90)" font-size="11" fill="#111" font-family="'Liberation Sans', Arial, sans-serif">I<tspan font-size="7" dy="3">DS</tspan><tspan dy="-3"> (-A)</tspan></text>
<text transform="translate(517.7,505) rotate(-90)" font-size="10.8" fill="#111" font-family="'Liberation Sans', Arial, sans-serif" textLength="153" lengthAdjust="spacingAndGlyphs">Square root of drain current (-A)</text>
</svg></body></html>
